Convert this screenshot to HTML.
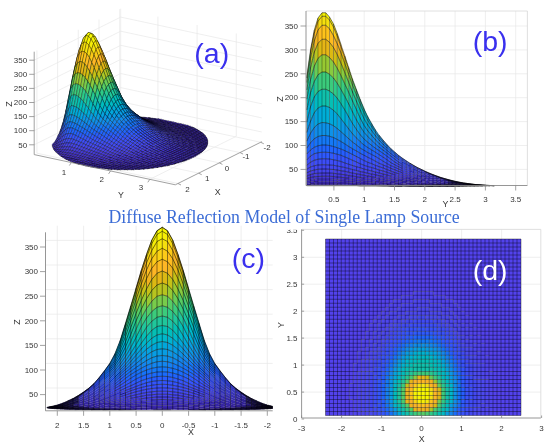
<!DOCTYPE html>
<html><head><meta charset="utf-8"><style>
html,body{margin:0;padding:0;background:#fff}
body{width:550px;height:444px;overflow:hidden}
svg{display:block}
.tk text{font-family:"Liberation Sans",Arial,sans-serif;font-size:8px;fill:#363636}
.lab{font-family:"Liberation Sans",Arial,sans-serif;font-size:28.5px;fill:#3a30ee}
.ttl{font-family:"Liberation Serif","Times New Roman",serif;font-size:17.8px;fill:#3b6cd6}
.p0{fill:#3e26ba}.p1{fill:#402ac2}.p2{fill:#422ec9}.p3{fill:#4332cf}.p4{fill:#4537d5}.p5{fill:#463cde}.p6{fill:#4741e5}.p7{fill:#4544eb}.p8{fill:#4348f0}.p9{fill:#404bf4}.p10{fill:#3d4ef8}.p11{fill:#3952fb}.p12{fill:#3455fd}.p13{fill:#2f5afe}.p14{fill:#275eff}.p15{fill:#2065fe}.p16{fill:#1a6cfc}.p17{fill:#1673fa}.p18{fill:#1579f7}.p19{fill:#1580f3}.p20{fill:#1486ef}.p21{fill:#108ceb}.p22{fill:#0e92e8}.p23{fill:#0c98e5}.p24{fill:#089de3}.p25{fill:#05a3df}.p26{fill:#01a8db}.p27{fill:#00aed6}.p28{fill:#00b4d0}.p29{fill:#00b8ca}.p30{fill:#00bac3}.p31{fill:#00bdbd}.p32{fill:#05bfb4}.p33{fill:#11c1ac}.p34{fill:#1ac4a4}.p35{fill:#20c69b}.p36{fill:#26c891}.p37{fill:#2eca87}.p38{fill:#3bcb7c}.p39{fill:#49cc70}.p40{fill:#57cd64}.p41{fill:#67cd57}.p42{fill:#78cc4b}.p43{fill:#88cb3f}.p44{fill:#98c932}.p45{fill:#a8c728}.p46{fill:#b7c41f}.p47{fill:#c5c117}.p48{fill:#d1bd13}.p49{fill:#dcb913}.p50{fill:#e6b617}.p51{fill:#f0b31f}.p52{fill:#f8b327}.p53{fill:#feb625}.p54{fill:#febc20}.p55{fill:#fec31b}.p56{fill:#fcca18}.p57{fill:#fad214}.p58{fill:#f7d911}.p59{fill:#f5e00e}.p60{fill:#f5e80b}.p61{fill:#f6ee07}.p62{fill:#f7f501}.p63{fill:#f9fb00}
</style></head><body>
<svg width="550" height="444" viewBox="0 0 550 444">
<defs><clipPath id="cd"><rect x="270" y="229.8" width="280" height="215"/></clipPath></defs>
<path d="M34.2 144.8L120.7 101.7M120.7 101.7L261.8 132M34.2 130.7L120.7 87.6M120.7 87.6L261.8 117.9M34.2 116.6L120.7 73.5M120.7 73.5L261.8 103.8M34.2 102.5L120.7 59.4M120.7 59.4L261.8 89.7M34.2 88.4L120.7 45.3M120.7 45.3L261.8 75.6M34.2 74.3L120.7 31.2M120.7 31.2L261.8 61.5M34.2 60.2L120.7 17.1M120.7 17.1L261.8 47.4M119.7 112L119.7 9.2M119.7 112L260.8 142.3M99 122.3L99 19.5M99 122.3L240.1 152.6M78.3 132.6L78.3 29.8M78.3 132.6L219.4 162.9M57.6 142.9L57.6 40.1M57.6 142.9L198.7 173.2M36.9 153.2L36.9 50.4M36.9 153.2L178 183.5M157.9 119.5L157.9 16.6M71.4 162.5L157.9 119.5M197.1 127.9L197.1 25M110.6 170.9L197.1 127.9M236.3 136.3L236.3 33.4M149.8 179.3L236.3 136.3M120.7 111.5L120.7 8.7" stroke="#e8e8e8" stroke-width="0.7" fill="none"/>
<g transform="scale(.25)" stroke="#000" stroke-width="1.6" stroke-opacity="0.8"  stroke-linejoin="round">
<path class="p0" d="M428 473l8 0-5-1-7 2z"/><path class="p1" d="M417 474l1 0 6 0 7-2-9-3-10 5z"/><path class="p2" d="M412 474l10-5-8-8-10 10z"/><path class="p3" d="M404 471l10-10-8-12-10 15z"/><path class="p6" d="M396 464l10-15-9-16-9 21z"/><path class="p8" d="M388 454l9-21-8-22-10 29z"/><path class="p12" d="M379 440l10-29-8-29-10 39z"/><path class="p16" d="M371 421l10-39-8-36-10 52z"/><path class="p20" d="M363 398l10-52-9-35-10 59z"/><path class="p25" d="M354 370l10-59-8-33-10 66z"/><path class="p30" d="M346 344l10-66-8-28-10 72z"/><path class="p34" d="M338 322l10-72-8-22-10 78z"/><path class="p37" d="M330 306l10-78-9-12-10 81z"/><path class="p39" d="M321 297l10-81-8-1-10 81zM313 296l10-81-8 10-10 80zM305 305l10-80-9 20-10 77z"/><path class="p37" d="M296 322l10-77-8 30-10 72z"/><path class="p34" d="M288 347l10-72-8 36-10 66z"/><path class="p30" d="M280 377l10-66-8 41-10 60z"/><path class="p25" d="M272 412l10-60-9 44-10 51z"/><path class="p20" d="M263 447l10-51-8 44-10 39z"/><path class="p16" d="M255 479l10-39-8 37-10 29z"/><path class="p12" d="M247 506l10-29-9 31-9 20z"/><path class="p8" d="M239 528l9-20-8 24-10 14z"/><path class="p6" d="M230 546l10-14-8 20-10 10z"/><path class="p3" d="M222 562l10-10-8 16-10 5z"/><path class="p2" d="M209 578l0 0 5-5 10-5-9 12-6 1z"/><path class="p1" d="M209 582l0-1 6-1-5 5z"/><path class="p0" d="M449 472l5-1-5 0-7 1z"/><path class="p1" d="M436 473l3-1 3 0 7-1-9-2-9 3z"/><path class="p2" d="M431 472l9-3-8-7-10 7z"/><path class="p3" d="M422 469l10-7-8-12-10 11z"/><path class="p6" d="M414 461l10-11-8-16-10 15z"/><path class="p9" d="M406 449l10-15-9-21-10 20z"/><path class="p12" d="M397 433l10-20-8-29-10 27z"/><path class="p17" d="M389 411l10-27-8-37-10 35z"/><path class="p22" d="M381 382l10-35-8-40-10 39z"/><path class="p29" d="M373 346l10-39-9-37-10 41z"/><path class="p34" d="M364 311l10-41-8-34-10 42z"/><path class="p40" d="M356 278l10-42-8-29-10 43z"/><path class="p44" d="M348 250l10-43-9-23-9 44z"/><path class="p48" d="M340 228l9-44-8-14-10 46z"/><path class="p50" d="M331 216l10-46-8-3-10 48z"/><path class="p51" d="M323 215l10-48-8 11-10 47z"/><path class="p50" d="M315 225l10-47-9 23-10 44z"/><path class="p48" d="M306 245l10-44-8 30-10 44z"/><path class="p44" d="M298 275l10-44-8 38-10 42z"/><path class="p40" d="M290 311l10-42-9 42-9 41z"/><path class="p34" d="M282 352l9-41-8 45-10 40z"/><path class="p29" d="M273 396l10-40-8 48-10 36z"/><path class="p22" d="M265 440l10-36-8 46-10 27z"/><path class="p17" d="M257 477l10-27-9 37-10 21z"/><path class="p12" d="M248 508l10-21-8 29-10 16z"/><path class="p9" d="M240 532l10-16-8 24-10 12z"/><path class="p6" d="M232 552l10-12-9 21-9 7z"/><path class="p3" d="M224 568l9-7-8 15-10 4z"/><path class="p2" d="M210 586l0-1 5-5 10-4-8 11-7 0z"/><path class="p1" d="M211 590l-1-3 7 0-5 5z"/><path class="p0" d="M471 470l0 0-4 0-6 1zM454 471l6 0 1 0 6-1-8-2-10 3z"/><path class="p1" d="M449 471l10-3-9-5-10 6z"/><path class="p3" d="M440 469l10-6-8-11-10 10z"/><path class="p5" d="M432 462l10-10-8-15-10 13z"/><path class="p8" d="M424 450l10-13-8-18-10 15z"/><path class="p12" d="M416 434l10-15-9-24-10 18z"/><path class="p16" d="M407 413l10-18-8-31-10 20z"/><path class="p22" d="M399 384l10-20-8-39-10 22z"/><path class="p28" d="M391 347l10-22-9-36-9 18z"/><path class="p35" d="M383 307l9-18-8-35-10 16z"/><path class="p41" d="M374 270l10-16-8-35-10 17z"/><path class="p46" d="M366 236l10-17-8-32-10 20z"/><path class="p51" d="M358 207l10-20-9-26-10 23z"/><path class="p54" d="M349 184l10-23-8-17-10 26z"/><path class="p57" d="M341 170l10-26-8-3-10 26z"/><path class="p58" d="M333 167l10-26-9 11-9 26z"/><path class="p57" d="M325 178l9-26-8 25-10 24z"/><path class="p54" d="M316 201l10-24-8 35-10 19z"/><path class="p51" d="M308 231l10-19-8 40-10 17z"/><path class="p46" d="M300 269l10-17-9 43-10 16z"/><path class="p41" d="M291 311l10-16-8 44-10 17z"/><path class="p35" d="M283 356l10-17-8 44-10 21z"/><path class="p28" d="M275 404l10-21-8 47-10 20z"/><path class="p22" d="M267 450l10-20-9 39-10 18z"/><path class="p16" d="M258 487l10-18-8 33-10 14z"/><path class="p12" d="M250 516l10-14-8 26-10 12z"/><path class="p8" d="M242 540l10-12-9 23-10 10z"/><path class="p5" d="M233 561l10-10-8 19-10 6z"/><path class="p3" d="M225 576l10-6-8 14-10 3z"/><path class="p1" d="M213 594l-1-2 5-5 10-3-8 10-6 1z"/><path class="p0" d="M214 597l-1-2 6-1-4 3zM487 468l-2 0-3 0zM471 470l10-1 1-1 3 0-8 0-10 2z"/><path class="p1" d="M467 470l10-2-8-4-10 4z"/><path class="p3" d="M459 468l10-4-9-7-10 6z"/><path class="p5" d="M450 463l10-6-8-13-10 8z"/><path class="p7" d="M442 452l10-8-8-16-10 9z"/><path class="p11" d="M434 437l10-9-9-19-9 10z"/><path class="p15" d="M426 419l9-10-8-23-10 9z"/><path class="p20" d="M417 395l10-9-8-29-10 7z"/><path class="p25" d="M409 364l10-7-8-36-10 4z"/><path class="p32" d="M401 325l10-4-9-35-10 3z"/><path class="p38" d="M392 289l10-3-8-36-10 4z"/><path class="p43" d="M384 254l10-4-8-37-10 6z"/><path class="p49" d="M376 219l10-6-9-33-9 7z"/><path class="p54" d="M368 187l9-7-8-29-10 10z"/><path class="p58" d="M359 161l10-10-8-17-10 10z"/><path class="p61" d="M351 144l10-10-8-4-10 11z"/><path class="p62" d="M343 141l10-11-9 12-10 10z"/><path class="p61" d="M334 152l10-10-8 26-10 9z"/><path class="p58" d="M326 177l10-9-8 37-10 7z"/><path class="p54" d="M318 212l10-7-8 41-10 6z"/><path class="p49" d="M310 252l10-6-9 45-10 4z"/><path class="p43" d="M301 295l10-4-8 44-10 4z"/><path class="p38" d="M293 339l10-4-8 44-10 4z"/><path class="p32" d="M285 383l10-4-9 43-9 8z"/><path class="p25" d="M277 430l9-8-8 38-10 9z"/><path class="p20" d="M268 469l10-9-8 31-10 11z"/><path class="p15" d="M260 502l10-11-8 27-10 10z"/><path class="p11" d="M252 528l10-10-9 25-10 8z"/><path class="p7" d="M243 551l10-8-8 21-10 6z"/><path class="p5" d="M235 570l10-6-8 15-10 5z"/><path class="p3" d="M227 584l10-5-9 12-9 3z"/><path class="p1" d="M217 600l-2-3 4-3 9-3-8 9-3 0z"/><path class="p0" d="M217 600l3 0-2 2zM487 468l5 0 11-1-8 1-10 0z"/><path class="p1" d="M485 468l10 0-8-2-10 2z"/><path class="p2" d="M477 468l10-2-9-6-9 4z"/><path class="p4" d="M469 464l9-4-8-8-10 5z"/><path class="p6" d="M460 457l10-5-8-14-10 6z"/><path class="p9" d="M452 444l10-6-8-16-10 6z"/><path class="p13" d="M444 428l10-6-9-17-10 4z"/><path class="p17" d="M435 409l10-4-8-20-10 1z"/><path class="p21" d="M427 386l10-1-8-26-10-2z"/><path class="p27" d="M419 357l10 2-8-36-10-2z"/><path class="p33" d="M411 321l10 2-9-35-10-2z"/><path class="p38" d="M402 286l10 2-8-36-10-2z"/><path class="p44" d="M394 250l10 2-8-37-10-2z"/><path class="p50" d="M386 213l10 2-9-32-10-3z"/><path class="p55" d="M377 180l10 3-8-29-10-3z"/><path class="p59" d="M369 151l10 3-8-18-10-2z"/><path class="p62" d="M361 134l10 2-8-4-10-2z"/><path class="p63" d="M353 130l10 2-9 13-10-3z"/><path class="p62" d="M344 142l10 3-8 25-10-2z"/><path class="p59" d="M336 168l10 2-8 37-10-2z"/><path class="p55" d="M328 205l10 2-9 41-9-2z"/><path class="p50" d="M320 246l9 2-8 45-10-2z"/><path class="p44" d="M311 291l10 2-8 44-10-2z"/><path class="p38" d="M303 335l10 2-8 44-10-2z"/><path class="p33" d="M295 379l10 2-9 44-10-3z"/><path class="p27" d="M286 422l10 3-8 34-10 1z"/><path class="p21" d="M278 460l10-1-8 28-10 4z"/><path class="p17" d="M270 491l10-4-9 25-9 6z"/><path class="p13" d="M262 518l9-6-8 25-10 6z"/><path class="p9" d="M253 543l10-6-8 22-10 5z"/><path class="p6" d="M245 564l10-5-8 17-10 3z"/><path class="p4" d="M237 579l10-3-9 13-10 2z"/><path class="p2" d="M228 591l10-2-8 11-10 0z"/><path class="p1" d="M219 603l-1-1 2-2 10 0-8 7z"/><path class="p0" d="M514 467l4 0-5 1-9-1z"/><path class="p1" d="M503 467l0 0 1 0 9 1-8-1-10 1z"/><path class="p2" d="M495 468l10-1-8-3-10 2z"/><path class="p3" d="M487 466l10-2-9-6-10 2z"/><path class="p5" d="M478 460l10-2-8-10-10 4z"/><path class="p8" d="M470 452l10-4-8-13-10 3z"/><path class="p11" d="M462 438l10-3-8-15-10 2z"/><path class="p14" d="M454 422l10-2-9-13-10-2z"/><path class="p18" d="M445 405l10 2-8-18-10-4z"/><path class="p22" d="M437 385l10 4-8-26-10-4z"/><path class="p27" d="M429 359l10 4-9-34-9-6z"/><path class="p33" d="M421 323l9 6-8-35-10-6z"/><path class="p38" d="M412 288l10 6-8-35-10-7z"/><path class="p44" d="M404 252l10 7-8-36-10-8z"/><path class="p50" d="M396 215l10 8-9-31-10-9z"/><path class="p55" d="M387 183l10 9-8-28-10-10z"/><path class="p59" d="M379 154l10 10-8-17-10-11z"/><path class="p62" d="M371 136l10 11-9-3-9-12z"/><path class="p63" d="M363 132l9 12-8 12-10-11z"/><path class="p62" d="M354 145l10 11-8 25-10-11z"/><path class="p59" d="M346 170l10 11-8 35-10-9z"/><path class="p55" d="M338 207l10 9-9 40-10-8z"/><path class="p50" d="M329 248l10 8-8 44-10-7z"/><path class="p44" d="M321 293l10 7-8 44-10-7z"/><path class="p38" d="M313 337l10 7-9 43-9-6z"/><path class="p33" d="M305 381l9 6-8 42-10-4z"/><path class="p27" d="M296 425l10 4-8 34-10-4z"/><path class="p22" d="M288 459l10 4-8 26-10-2z"/><path class="p18" d="M280 487l10 2-9 22-10 1z"/><path class="p14" d="M271 512l10-1-8 23-10 3z"/><path class="p11" d="M263 537l10-3-8 21-10 4z"/><path class="p8" d="M255 559l10-4-8 18-10 3z"/><path class="p5" d="M247 576l10-3-9 15-10 1z"/><path class="p3" d="M238 589l10-1-8 11-10 1z"/><path class="p2" d="M222 607l0 0 8-7 10-1-8 9-9-1z"/><path class="p1" d="M226 610l-3-3 9 1-5 3z"/><path class="p0" d="M532 467l-1 0-2 0z"/><path class="p1" d="M518 467l7 0 4 0 2 0-8 1-10 0zM513 468l10 0-8-1-10 0z"/><path class="p2" d="M505 467l10 0-8-4-10 1z"/><path class="p4" d="M497 464l10-1-9-7-10 2z"/><path class="p6" d="M488 458l10-2-8-9-10 1z"/><path class="p9" d="M480 448l10-1-8-12-10 0z"/><path class="p12" d="M472 435l10 0-9-12-9-3z"/><path class="p15" d="M464 420l9 3-8-12-10-4z"/><path class="p18" d="M455 407l10 4-8-17-10-5z"/><path class="p22" d="M447 389l10 5-8-24-10-7z"/><path class="p26" d="M439 363l10 7-9-32-10-9z"/><path class="p32" d="M430 329l10 9-8-34-10-10z"/><path class="p38" d="M422 294l10 10-8-34-10-11z"/><path class="p43" d="M414 259l10 11-9-34-9-13z"/><path class="p49" d="M406 223l9 13-8-30-10-14z"/><path class="p54" d="M397 192l10 14-8-24-10-18z"/><path class="p58" d="M389 164l10 18-8-16-10-19z"/><path class="p61" d="M381 147l10 19-9-3-10-19z"/><path class="p62" d="M372 144l10 19-8 11-10-18z"/><path class="p61" d="M364 156l10 18-8 25-10-18z"/><path class="p58" d="M356 181l10 18-8 32-10-15z"/><path class="p54" d="M348 216l10 15-9 38-10-13z"/><path class="p49" d="M339 256l10 13-8 42-10-11z"/><path class="p43" d="M331 300l10 11-8 42-10-9z"/><path class="p38" d="M323 344l10 9-9 42-10-8z"/><path class="p32" d="M314 387l10 8-8 41-10-7z"/><path class="p26" d="M306 429l10 7-8 32-10-5z"/><path class="p22" d="M298 463l10 5-8 25-10-4z"/><path class="p18" d="M290 489l10 4-9 20-10-2z"/><path class="p15" d="M281 511l10 2-8 21-10 0z"/><path class="p12" d="M273 534l10 0-8 20-10 1z"/><path class="p9" d="M265 555l10-1-9 18-9 1z"/><path class="p6" d="M257 573l9-1-8 15-10 1z"/><path class="p4" d="M248 588l10-1-8 12-10 0z"/><path class="p2" d="M240 599l10 0-8 9-10 0z"/><path class="p1" d="M230 614l-3-3 5-3 10 0-9 7-2 0zM231 615l2 0-1 1z"/><path class="p0" d="M532 467l4 0 10 0 0 0-5 1-10-1z"/><path class="p1" d="M531 467l10 1-8 1-10-1z"/><path class="p2" d="M523 468l10 1-8-2-10 0z"/><path class="p3" d="M515 467l10 0-9-4-9 0z"/><path class="p5" d="M507 463l9 0-8-7-10 0z"/><path class="p7" d="M498 456l10 0-8-8-10-1z"/><path class="p9" d="M490 447l10 1-8-10-10-3z"/><path class="p12" d="M482 435l10 3-9-11-10-4z"/><path class="p15" d="M473 423l10 4-8-11-10-5z"/><path class="p18" d="M465 411l10 5-8-16-10-6z"/><path class="p21" d="M457 394l10 6-8-21-10-9z"/><path class="p26" d="M449 370l10 9-9-30-10-11z"/><path class="p31" d="M440 338l10 11-8-33-10-12z"/><path class="p37" d="M432 304l10 12-8-32-10-14z"/><path class="p42" d="M424 270l10 14-9-31-10-17z"/><path class="p48" d="M415 236l10 17-8-28-10-19z"/><path class="p52" d="M407 206l10 19-8-22-10-21z"/><path class="p56" d="M399 182l10 21-8-13-10-24z"/><path class="p59" d="M391 166l10 24-9-2-10-25z"/><path class="p60" d="M382 163l10 25-8 10-10-24z"/><path class="p59" d="M374 174l10 24-8 22-10-21z"/><path class="p56" d="M366 199l10 21-9 30-9-19z"/><path class="p52" d="M358 231l9 19-8 36-10-17z"/><path class="p48" d="M349 269l10 17-8 39-10-14z"/><path class="p42" d="M341 311l10 14-8 40-10-12z"/><path class="p37" d="M333 353l10 12-9 42-10-12z"/><path class="p31" d="M324 395l10 12-8 38-10-9z"/><path class="p26" d="M316 436l10 9-8 30-10-7z"/><path class="p21" d="M308 468l10 7-9 23-9-5z"/><path class="p18" d="M300 493l9 5-8 20-10-5z"/><path class="p15" d="M291 513l10 5-8 19-10-3z"/><path class="p12" d="M283 534l10 3-8 18-10-1z"/><path class="p9" d="M275 554l10 1-9 17-10 0z"/><path class="p7" d="M266 572l10 0-8 15-10 0z"/><path class="p5" d="M258 587l10 0-8 12-10 0z"/><path class="p3" d="M250 599l10 0-8 10-10-1z"/><path class="p2" d="M242 608l10 1-9 8-10-2z"/><path class="p1" d="M238 621l-4-4-2-1 1-1 10 2-5 4z"/><path class="p0" d="M560 468l-1 0-1 0zM546 467l11 1 1 0 1 0-8 2-10-2z"/><path class="p1" d="M541 468l10 2-8 0-10-1z"/><path class="p2" d="M533 469l10 1-8-2-10-1z"/><path class="p3" d="M525 467l10 1-9-4-10-1z"/><path class="p5" d="M516 463l10 1-8-6-10-2z"/><path class="p7" d="M508 456l10 2-8-7-10-3z"/><path class="p9" d="M500 448l10 3-8-8-10-5z"/><path class="p12" d="M492 438l10 5-9-11-10-5z"/><path class="p15" d="M483 427l10 5-8-11-10-5z"/><path class="p17" d="M475 416l10 5-8-13-10-8z"/><path class="p20" d="M467 400l10 8-9-20-9-9z"/><path class="p25" d="M459 379l9 9-8-26-10-13z"/><path class="p30" d="M450 349l10 13-8-31-10-15z"/><path class="p35" d="M442 316l10 15-8-30-10-17z"/><path class="p40" d="M434 284l10 17-9-28-10-20z"/><path class="p45" d="M425 253l10 20-8-26-10-22z"/><path class="p50" d="M417 225l10 22-8-19-10-25z"/><path class="p53" d="M409 203l10 25-9-11-9-27z"/><path class="p56" d="M401 190l9 27-8-2-10-27z"/><path class="p57" d="M392 188l10 27-8 10-10-27z"/><path class="p56" d="M384 198l10 27-8 19-10-24z"/><path class="p53" d="M376 220l10 24-9 28-10-22z"/><path class="p50" d="M367 250l10 22-8 34-10-20z"/><path class="p45" d="M359 286l10 20-8 36-10-17z"/><path class="p40" d="M351 325l10 17-9 38-9-15z"/><path class="p35" d="M343 365l9 15-8 40-10-13z"/><path class="p30" d="M334 407l10 13-8 34-10-9z"/><path class="p25" d="M326 445l10 9-8 28-10-7z"/><path class="p20" d="M318 475l10 7-9 22-10-6z"/><path class="p17" d="M309 498l10 6-8 19-10-5z"/><path class="p15" d="M301 518l10 5-8 19-10-5z"/><path class="p12" d="M293 537l10 5-8 16-10-3z"/><path class="p9" d="M285 555l10 3-9 15-10-1z"/><path class="p7" d="M276 572l10 1-8 14-10 0z"/><path class="p5" d="M268 587l10 0-8 13-10-1z"/><path class="p3" d="M260 599l10 1-9 10-9-1z"/><path class="p2" d="M252 609l9 1-8 8-10-1z"/><path class="p1" d="M243 624l-5-3 5-4 10 1-8 7-2 0z"/><path class="p0" d="M243 625l2 0-1 0zM560 468l8 1 5 0-4 1-10-2z"/><path class="p1" d="M559 468l10 2-8 2-10-2zM551 470l10 2-8 0-10-2z"/><path class="p2" d="M543 470l10 2-8-2-10-2z"/><path class="p4" d="M535 468l10 2-9-4-10-2z"/><path class="p5" d="M526 464l10 2-8-6-10-2z"/><path class="p7" d="M518 458l10 2-8-5-10-4z"/><path class="p9" d="M510 451l10 4-9-7-9-5z"/><path class="p12" d="M502 443l9 5-8-10-10-6z"/><path class="p14" d="M493 432l10 6-8-10-10-7z"/><path class="p17" d="M485 421l10 7-8-12-10-8z"/><path class="p20" d="M477 408l10 8-9-17-10-11z"/><path class="p23" d="M468 388l10 11-8-22-10-15z"/><path class="p28" d="M460 362l10 15-8-29-10-17z"/><path class="p33" d="M452 331l10 17-9-28-9-19z"/><path class="p38" d="M444 301l9 19-8-25-10-22z"/><path class="p43" d="M435 273l10 22-8-22-10-26z"/><path class="p47" d="M427 247l10 26-8-18-10-27z"/><path class="p50" d="M419 228l10 27-9-10-10-28z"/><path class="p53" d="M410 217l10 28-8 0-10-30zM402 215l10 30-8 9-10-29zM394 225l10 29-8 18-10-28z"/><path class="p50" d="M386 244l10 28-9 25-10-25z"/><path class="p47" d="M377 272l10 25-8 31-10-22z"/><path class="p43" d="M369 306l10 22-8 33-10-19z"/><path class="p38" d="M361 342l10 19-9 36-10-17z"/><path class="p33" d="M352 380l10 17-8 37-10-14z"/><path class="p28" d="M344 420l10 14-8 31-10-11z"/><path class="p23" d="M336 454l10 11-8 25-10-8z"/><path class="p20" d="M328 482l10 8-9 20-10-6z"/><path class="p17" d="M319 504l10 6-8 18-10-5z"/><path class="p14" d="M311 523l10 5-8 19-10-5z"/><path class="p12" d="M303 542l10 5-9 15-9-4z"/><path class="p9" d="M295 558l9 4-8 14-10-3z"/><path class="p7" d="M286 573l10 3-8 13-10-2z"/><path class="p5" d="M278 587l10 2-8 12-10-1z"/><path class="p4" d="M270 600l10 1-9 11-10-2z"/><path class="p2" d="M261 610l10 2-8 8-10-2z"/><path class="p1" d="M253 618l10 2-8 7-10-2zM248 628l-4-3 1 0 10 2-4 3z"/><path class="p0" d="M573 469l6 0 7 1-7 2-10-2z"/><path class="p1" d="M569 470l10 2-8 1-10-1zM561 472l10 1-8 0-10-1z"/><path class="p2" d="M553 472l10 1-9-1-9-2z"/><path class="p4" d="M545 470l9 2-8-4-10-2z"/><path class="p5" d="M536 466l10 2-8-4-10-4z"/><path class="p7" d="M528 460l10 4-8-5-10-4z"/><path class="p9" d="M520 455l10 4-9-6-10-5z"/><path class="p11" d="M511 448l10 5-8-9-10-6z"/><path class="p14" d="M503 438l10 6-8-10-10-6z"/><path class="p16" d="M495 428l10 6-9-11-9-7z"/><path class="p19" d="M487 416l9 7-8-14-10-10z"/><path class="p22" d="M478 399l10 10-8-19-10-13z"/><path class="p26" d="M470 377l10 13-8-24-10-18z"/><path class="p31" d="M462 348l10 18-9-26-10-20z"/><path class="p36" d="M453 320l10 20-8-23-10-22z"/><path class="p40" d="M445 295l10 22-8-20-10-24z"/><path class="p44" d="M437 273l10 24-8-14-10-28z"/><path class="p47" d="M429 255l10 28-9-9-10-29z"/><path class="p49" d="M420 245l10 29-8 0-10-29z"/><path class="p50" d="M412 245l10 29-8 9-10-29z"/><path class="p49" d="M404 254l10 29-9 16-9-27z"/><path class="p47" d="M396 272l9 27-8 23-10-25z"/><path class="p44" d="M387 297l10 25-8 28-10-22z"/><path class="p40" d="M379 328l10 22-8 31-10-20z"/><path class="p36" d="M371 361l10 20-9 35-10-19z"/><path class="p31" d="M362 397l10 19-8 32-10-14z"/><path class="p26" d="M354 434l10 14-8 27-10-10z"/><path class="p22" d="M346 465l10 10-9 22-9-7z"/><path class="p19" d="M338 490l9 7-8 19-10-6z"/><path class="p16" d="M329 510l10 6-8 18-10-6z"/><path class="p14" d="M321 528l10 6-8 18-10-5z"/><path class="p11" d="M313 547l10 5-9 14-10-4z"/><path class="p9" d="M304 562l10 4-8 13-10-3z"/><path class="p7" d="M296 576l10 3-8 13-10-3z"/><path class="p5" d="M288 589l10 3-9 11-9-2z"/><path class="p4" d="M280 601l9 2-8 10-10-1z"/><path class="p2" d="M271 612l10 1-8 9-10-2z"/><path class="p1" d="M263 620l10 2-8 7-10-2zM253 631l-2-1 4-3 10 2-7 5z"/><path class="p0" d="M599 471l-2 1-5-1zM586 470l3 0 3 1 5 1-8 2-10-2z"/><path class="p1" d="M579 472l10 2-8 2-10-3zM571 473l10 3-8-1-10-2z"/><path class="p2" d="M563 473l10 2-9-1-10-2z"/><path class="p4" d="M554 472l10 2-8-3-10-3z"/><path class="p5" d="M546 468l10 3-8-3-10-4z"/><path class="p7" d="M538 464l10 4-8-5-10-4z"/><path class="p9" d="M530 459l10 4-9-5-10-5z"/><path class="p11" d="M521 453l10 5-8-8-10-6z"/><path class="p13" d="M513 444l10 6-8-10-10-6z"/><path class="p15" d="M505 434l10 6-9-9-10-8z"/><path class="p18" d="M496 423l10 8-8-12-10-10z"/><path class="p21" d="M488 409l10 10-8-15-10-14z"/><path class="p24" d="M480 390l10 14-8-20-10-18z"/><path class="p29" d="M472 366l10 18-9-23-10-21z"/><path class="p33" d="M463 340l10 21-8-22-10-22z"/><path class="p37" d="M455 317l10 22-8-17-10-25z"/><path class="p41" d="M447 297l10 25-9-13-9-26z"/><path class="p43" d="M439 283l9 26-8-6-10-29z"/><path class="p45" d="M430 274l10 29-8 0-10-29z"/><path class="p46" d="M422 274l10 29-8 8-10-28z"/><path class="p45" d="M414 283l10 28-9 15-10-27z"/><path class="p43" d="M405 299l10 27-8 21-10-25z"/><path class="p41" d="M397 322l10 25-8 25-10-22z"/><path class="p37" d="M389 350l10 22-9 30-9-21z"/><path class="p33" d="M381 381l9 21-8 31-10-17z"/><path class="p29" d="M372 416l10 17-8 28-10-13z"/><path class="p24" d="M364 448l10 13-8 24-10-10z"/><path class="p21" d="M356 475l10 10-9 20-10-8z"/><path class="p18" d="M347 497l10 8-8 18-10-7z"/><path class="p15" d="M339 516l10 7-8 18-10-7z"/><path class="p13" d="M331 534l10 7-8 16-10-5z"/><path class="p11" d="M323 552l10 5-9 13-10-4z"/><path class="p9" d="M314 566l10 4-8 13-10-4z"/><path class="p7" d="M306 579l10 4-8 12-10-3z"/><path class="p5" d="M298 592l10 3-9 11-10-3z"/><path class="p4" d="M289 603l10 3-8 10-10-3z"/><path class="p2" d="M281 613l10 3-8 8-10-2z"/><path class="p1" d="M273 622l10 2-8 7-10-2zM259 635l-1-1 7-5 10 2-9 6-5-2z"/><path class="p0" d="M261 635l5 2-1 1zM599 471l1 0 10 2 1 0-4 1-10-2zM597 472l10 2-8 2-10-2z"/><path class="p1" d="M589 474l10 2-8 2-10-2zM581 476l10 2-8 0-10-3z"/><path class="p2" d="M573 475l10 3-9-1-10-3z"/><path class="p4" d="M564 474l10 3-8-2-10-4z"/><path class="p5" d="M556 471l10 4-8-3-10-4z"/><path class="p7" d="M548 468l10 4-9-4-9-5z"/><path class="p8" d="M540 463l9 5-8-5-10-5z"/><path class="p10" d="M531 458l10 5-8-7-10-6z"/><path class="p12" d="M523 450l10 6-8-9-10-7z"/><path class="p15" d="M515 440l10 7-9-9-10-7z"/><path class="p17" d="M506 431l10 7-8-9-10-10z"/><path class="p19" d="M498 419l10 10-8-13-10-12z"/><path class="p23" d="M490 404l10 12-9-16-9-16z"/><path class="p26" d="M482 384l9 16-8-18-10-21z"/><path class="p30" d="M473 361l10 21-8-20-10-23z"/><path class="p34" d="M465 339l10 23-8-16-10-24z"/><path class="p37" d="M457 322l10 24-9-11-10-26z"/><path class="p40" d="M448 309l10 26-8-6-10-26z"/><path class="p41" d="M440 303l10 26-8 1-10-27z"/><path class="p42" d="M432 303l10 27-8 8-10-27z"/><path class="p41" d="M424 311l10 27-9 13-10-25z"/><path class="p40" d="M415 326l10 25-8 20-10-24z"/><path class="p37" d="M407 347l10 24-8 24-10-23z"/><path class="p34" d="M399 372l10 23-9 28-10-21z"/><path class="p30" d="M390 402l10 21-8 26-10-16z"/><path class="p26" d="M382 433l10 16-8 25-10-13z"/><path class="p23" d="M374 461l10 13-8 21-10-10z"/><path class="p19" d="M366 485l10 10-9 18-10-8z"/><path class="p17" d="M357 505l10 8-8 17-10-7z"/><path class="p15" d="M349 523l10 7-8 17-10-6z"/><path class="p12" d="M341 541l10 6-9 15-9-5z"/><path class="p10" d="M333 557l9 5-8 13-10-5z"/><path class="p8" d="M324 570l10 5-8 12-10-4z"/><path class="p7" d="M316 583l10 4-8 11-10-3z"/><path class="p5" d="M308 595l10 3-9 11-10-3z"/><path class="p4" d="M299 606l10 3-8 9-10-2z"/><path class="p2" d="M291 616l10 2-8 8-10-2z"/><path class="p1" d="M283 624l10 2-9 7-9-2zM275 631l9 2-8 6-10-2z"/><path class="p0" d="M272 641l-7-3 0 0 1-1 10 2-4 2zM611 473l10 1 2 0-6 2-10-2zM607 474l10 2-8 3-10-3z"/><path class="p1" d="M599 476l10 3-8 1-10-2zM591 478l10 2-9 0-9-2z"/><path class="p2" d="M583 478l9 2-8 0-10-3z"/><path class="p3" d="M574 477l10 3-8-2-10-3z"/><path class="p5" d="M566 475l10 3-8-2-10-4z"/><path class="p6" d="M558 472l10 4-9-4-10-4z"/><path class="p8" d="M549 468l10 4-8-4-10-5z"/><path class="p9" d="M541 463l10 5-8-6-10-6z"/><path class="p11" d="M533 456l10 6-9-8-9-7z"/><path class="p14" d="M525 447l9 7-8-8-10-8z"/><path class="p16" d="M516 438l10 8-8-9-10-8z"/><path class="p18" d="M508 429l10 8-8-10-10-11z"/><path class="p21" d="M500 416l10 11-9-13-10-14z"/><path class="p24" d="M491 400l10 14-8-15-10-17z"/><path class="p28" d="M483 382l10 17-8-15-10-22z"/><path class="p31" d="M475 362l10 22-8-15-10-23z"/><path class="p34" d="M467 346l10 23-9-10-10-24z"/><path class="p36" d="M458 335l10 24-8-5-10-25z"/><path class="p38" d="M450 329l10 25-8 2-10-26zM442 330l10 26-9 7-9-25zM434 338l9 25-8 12-10-24z"/><path class="p36" d="M425 351l10 24-8 19-10-23z"/><path class="p34" d="M417 371l10 23-8 23-10-22z"/><path class="p31" d="M409 395l10 22-9 24-10-18z"/><path class="p28" d="M400 423l10 18-8 23-10-15z"/><path class="p24" d="M392 449l10 15-8 21-10-11z"/><path class="p21" d="M384 474l10 11-9 18-9-8z"/><path class="p18" d="M376 495l9 8-8 17-10-7z"/><path class="p16" d="M367 513l10 7-8 17-10-7z"/><path class="p14" d="M359 530l10 7-8 16-10-6z"/><path class="p11" d="M351 547l10 6-9 14-10-5z"/><path class="p9" d="M342 562l10 5-8 12-10-4z"/><path class="p8" d="M334 575l10 4-8 12-10-4z"/><path class="p6" d="M326 587l10 4-9 11-9-4z"/><path class="p5" d="M318 598l9 4-8 10-10-3z"/><path class="p3" d="M309 609l10 3-8 9-10-3z"/><path class="p2" d="M301 618l10 3-8 8-10-3z"/><path class="p1" d="M293 626l10 3-9 6-10-2zM284 633l10 2-8 6-10-2z"/><path class="p0" d="M278 644l-6-3 4-2 10 2-6 4zM623 474l8 1 4 0-8 4-10-3zM617 476l10 3-8 2-10-2z"/><path class="p1" d="M609 479l10 2-8 2-10-3zM601 480l10 3-9 0-10-3z"/><path class="p2" d="M592 480l10 3-8 0-10-3z"/><path class="p3" d="M584 480l10 3-8-1-10-4z"/><path class="p5" d="M576 478l10 4-8-2-10-4z"/><path class="p6" d="M568 476l10 4-9-3-10-5z"/><path class="p7" d="M559 472l10 5-8-4-10-5z"/><path class="p9" d="M551 468l10 5-8-5-10-6z"/><path class="p11" d="M543 462l10 6-9-7-10-7z"/><path class="p13" d="M534 454l10 7-8-8-10-7z"/><path class="p15" d="M526 446l10 7-8-8-10-8z"/><path class="p17" d="M518 437l10 8-8-8-10-10z"/><path class="p20" d="M510 427l10 10-9-11-10-12z"/><path class="p22" d="M501 414l10 12-8-11-10-16z"/><path class="p25" d="M493 399l10 16-8-13-10-18z"/><path class="p28" d="M485 384l10 18-9-11-9-22z"/><path class="p31" d="M477 369l9 22-8-9-10-23z"/><path class="p33" d="M468 359l10 23-8-4-10-24z"/><path class="p35" d="M460 354l10 24-8 1-10-23zM452 356l10 23-9 7-10-23zM443 363l10 23-8 12-10-23z"/><path class="p33" d="M435 375l10 23-8 18-10-22z"/><path class="p31" d="M427 394l10 22-9 19-9-18z"/><path class="p28" d="M419 417l9 18-8 21-10-15z"/><path class="p25" d="M410 441l10 15-8 20-10-12z"/><path class="p22" d="M402 464l10 12-8 18-10-9z"/><path class="p20" d="M394 485l10 9-9 17-10-8z"/><path class="p17" d="M385 503l10 8-8 16-10-7z"/><path class="p15" d="M377 520l10 7-8 16-10-6z"/><path class="p13" d="M369 537l10 6-8 16-10-6z"/><path class="p11" d="M361 553l10 6-9 12-10-4z"/><path class="p9" d="M352 567l10 4-8 13-10-5z"/><path class="p7" d="M344 579l10 5-8 11-10-4z"/><path class="p6" d="M336 591l10 4-9 10-10-3z"/><path class="p5" d="M327 602l10 3-8 10-10-3z"/><path class="p3" d="M319 612l10 3-8 8-10-2z"/><path class="p2" d="M311 621l10 2-8 8-10-2z"/><path class="p1" d="M303 629l10 2-9 7-10-3zM294 635l10 3-8 5-10-2z"/><path class="p0" d="M285 647l-5-2 6-4 10 2-8 5zM635 475l4 1 6 1-8 4-10-2zM627 479l10 2-8 2-10-2z"/><path class="p1" d="M619 481l10 2-8 2-10-2zM611 483l10 2-9 1-10-3z"/><path class="p2" d="M602 483l10 3-8 0-10-3z"/><path class="p3" d="M594 483l10 3-8-1-10-3z"/><path class="p4" d="M586 482l10 3-9-2-9-3z"/><path class="p6" d="M578 480l9 3-8-2-10-4z"/><path class="p7" d="M569 477l10 4-8-4-10-4z"/><path class="p8" d="M561 473l10 4-8-4-10-5z"/><path class="p10" d="M553 468l10 5-9-6-10-6z"/><path class="p12" d="M544 461l10 6-8-8-10-6z"/><path class="p14" d="M536 453l10 6-8-7-10-7z"/><path class="p16" d="M528 445l10 7-9-7-9-8z"/><path class="p18" d="M520 437l9 8-8-8-10-11z"/><path class="p21" d="M511 426l10 11-8-10-10-12z"/><path class="p23" d="M503 415l10 12-8-10-10-15z"/><path class="p26" d="M495 402l10 15-9-9-10-17z"/><path class="p28" d="M486 391l10 17-8-6-10-20z"/><path class="p30" d="M478 382l10 20-8-4-10-20z"/><path class="p31" d="M470 378l10 20-9 2-9-21z"/><path class="p32" d="M462 379l9 21-8 7-10-21z"/><path class="p31" d="M453 386l10 21-8 11-10-20z"/><path class="p30" d="M445 398l10 20-8 15-10-17z"/><path class="p28" d="M437 416l10 17-9 17-10-15z"/><path class="p26" d="M428 435l10 15-8 18-10-12z"/><path class="p23" d="M420 456l10 12-8 18-10-10z"/><path class="p21" d="M412 476l10 10-8 17-10-9z"/><path class="p18" d="M404 494l10 9-9 15-10-7z"/><path class="p16" d="M395 511l10 7-8 16-10-7z"/><path class="p14" d="M387 527l10 7-8 16-10-7z"/><path class="p12" d="M379 543l10 7-9 14-9-5z"/><path class="p10" d="M371 559l9 5-8 12-10-5z"/><path class="p8" d="M362 571l10 5-8 12-10-4z"/><path class="p7" d="M354 584l10 4-8 11-10-4z"/><path class="p6" d="M346 595l10 4-9 10-10-4z"/><path class="p4" d="M337 605l10 4-8 9-10-3z"/><path class="p3" d="M329 615l10 3-8 8-10-3z"/><path class="p2" d="M321 623l10 3-9 7-9-2z"/><path class="p1" d="M313 631l9 2-8 7-10-2zM304 638l10 2-8 6-10-3z"/><path class="p0" d="M288 648l8-5 10 3-8 4-7-1zM293 650l-2-1 7 1-1 1zM645 477l10 3-8 3-10-2zM637 481l10 2-8 3-10-3zM629 483l10 3-9 2-9-3z"/><path class="p1" d="M621 485l9 3-8 1-10-3z"/><path class="p2" d="M612 486l10 3-8 0-10-3z"/><path class="p3" d="M604 486l10 3-8-1-10-3z"/><path class="p4" d="M596 485l10 3-9-1-10-4z"/><path class="p5" d="M587 483l10 4-8-2-10-4z"/><path class="p7" d="M579 481l10 4-8-4-10-4z"/><path class="p8" d="M571 477l10 4-9-3-9-5z"/><path class="p10" d="M563 473l9 5-8-5-10-6z"/><path class="p11" d="M554 467l10 6-8-7-10-7z"/><path class="p13" d="M546 459l10 7-8-7-10-7z"/><path class="p15" d="M538 452l10 7-9-6-10-8z"/><path class="p17" d="M529 445l10 8-8-7-10-9z"/><path class="p19" d="M521 437l10 9-8-8-10-11z"/><path class="p22" d="M513 427l10 11-8-7-10-14z"/><path class="p24" d="M505 417l10 14-9-7-10-16z"/><path class="p26" d="M496 408l10 16-8-5-10-17z"/><path class="p27" d="M488 402l10 17-8-2-10-19z"/><path class="p29" d="M480 398l10 19-9 2-10-19zM471 400l10 19-8 6-10-18zM463 407l10 18-8 10-10-17z"/><path class="p27" d="M455 418l10 17-8 13-10-15z"/><path class="p26" d="M447 433l10 15-9 16-10-14z"/><path class="p24" d="M438 450l10 14-8 16-10-12z"/><path class="p22" d="M430 468l10 12-8 15-10-9z"/><path class="p19" d="M422 486l10 9-9 15-9-7z"/><path class="p17" d="M414 503l9 7-8 15-10-7z"/><path class="p15" d="M405 518l10 7-8 15-10-6z"/><path class="p13" d="M397 534l10 6-8 15-10-5z"/><path class="p11" d="M389 550l10 5-9 13-10-4z"/><path class="p10" d="M380 564l10 4-8 12-10-4z"/><path class="p8" d="M372 576l10 4-8 12-10-4z"/><path class="p7" d="M364 588l10 4-9 10-9-3z"/><path class="p5" d="M356 599l9 3-8 10-10-3z"/><path class="p4" d="M347 609l10 3-8 9-10-3z"/><path class="p3" d="M339 618l10 3-8 8-10-3z"/><path class="p2" d="M331 626l10 3-9 7-10-3z"/><path class="p1" d="M322 633l10 3-8 6-10-2z"/><path class="p0" d="M314 640l10 2-8 6-10-2zM306 646l10 2-8 5-10-3zM300 652l-3-1 1-1 10 3-3 1zM655 480l10 2-8 3-10-2zM647 483l10 2-8 3-10-2zM639 486l10 2-9 2-10-2z"/><path class="p1" d="M630 488l10 2-8 1-10-2z"/><path class="p2" d="M622 489l10 2-8 1-10-3z"/><path class="p3" d="M614 489l10 3-9 0-9-4z"/><path class="p4" d="M606 488l9 4-8-1-10-4z"/><path class="p5" d="M597 487l10 4-8-2-10-4z"/><path class="p6" d="M589 485l10 4-8-3-10-5z"/><path class="p8" d="M581 481l10 5-9-3-10-5z"/><path class="p9" d="M572 478l10 5-8-4-10-6z"/><path class="p11" d="M564 473l10 6-8-6-10-7z"/><path class="p13" d="M556 466l10 7-8-7-10-7z"/><path class="p15" d="M548 459l10 7-9-6-10-7z"/><path class="p16" d="M539 453l10 7-8-5-10-9z"/><path class="p18" d="M531 446l10 9-8-6-10-11z"/><path class="p20" d="M523 438l10 11-9-6-9-12z"/><path class="p22" d="M515 431l9 12-8-5-10-14z"/><path class="p24" d="M506 424l10 14-8-4-10-15z"/><path class="p25" d="M498 419l10 15-8 0-10-17z"/><path class="p26" d="M490 417l10 17-9 2-10-17zM481 419l10 17-8 6-10-17zM473 425l10 17-8 9-10-16z"/><path class="p25" d="M465 435l10 16-9 12-9-15z"/><path class="p24" d="M457 448l9 15-8 13-10-12z"/><path class="p22" d="M448 464l10 12-8 14-10-10z"/><path class="p20" d="M440 480l10 10-8 14-10-9z"/><path class="p18" d="M432 495l10 9-9 14-10-8z"/><path class="p16" d="M423 510l10 8-8 14-10-7z"/><path class="p15" d="M415 525l10 7-8 15-10-7z"/><path class="p13" d="M407 540l10 7-9 14-9-6z"/><path class="p11" d="M399 555l9 6-8 12-10-5z"/><path class="p9" d="M390 568l10 5-8 12-10-5z"/><path class="p8" d="M382 580l10 5-8 11-10-4z"/><path class="p6" d="M374 592l10 4-9 10-10-4z"/><path class="p5" d="M365 602l10 4-8 9-10-3z"/><path class="p4" d="M357 612l10 3-8 9-10-3z"/><path class="p3" d="M349 621l10 3-8 8-10-3z"/><path class="p2" d="M341 629l10 3-9 7-10-3z"/><path class="p1" d="M332 636l10 3-8 6-10-3z"/><path class="p0" d="M324 642l10 3-8 5-10-2zM316 648l10 2-9 5-9-2zM308 655l-3-1 3-1 9 2-3 2zM665 482l10 2-8 4-10-3zM657 485l10 3-8 3-10-3zM649 488l10 3-9 2-10-3z"/><path class="p1" d="M640 490l10 3-8 1-10-3z"/><path class="p2" d="M632 491l10 3-8 1-10-3zM624 492l10 3-9 0-10-3z"/><path class="p3" d="M615 492l10 3-8-1-10-3z"/><path class="p5" d="M607 491l10 3-8-1-10-4z"/><path class="p6" d="M599 489l10 4-8-3-10-4z"/><path class="p7" d="M591 486l10 4-9-3-10-4z"/><path class="p9" d="M582 483l10 4-8-3-10-5z"/><path class="p10" d="M574 479l10 5-8-4-10-7z"/><path class="p12" d="M566 473l10 7-9-6-9-8z"/><path class="p14" d="M558 466l9 8-8-6-10-8z"/><path class="p15" d="M549 460l10 8-8-5-10-8z"/><path class="p17" d="M541 455l10 8-8-4-10-10z"/><path class="p19" d="M533 449l10 10-9-5-10-11z"/><path class="p20" d="M524 443l10 11-8-3-10-13z"/><path class="p22" d="M516 438l10 13-8-2-10-15z"/><path class="p23" d="M508 434l10 15-9-1-9-14z"/><path class="p24" d="M500 434l9 14-8 3-10-15zM491 436l10 15-8 6-10-15zM483 442l10 15-8 8-10-14z"/><path class="p23" d="M475 451l10 14-9 10-10-12z"/><path class="p22" d="M466 463l10 12-8 12-10-11z"/><path class="p20" d="M458 476l10 11-8 13-10-10z"/><path class="p19" d="M450 490l10 10-8 13-10-9z"/><path class="p17" d="M442 504l10 9-9 13-10-8z"/><path class="p15" d="M433 518l10 8-8 14-10-8z"/><path class="p14" d="M425 532l10 8-8 14-10-7z"/><path class="p12" d="M417 547l10 7-9 13-10-6z"/><path class="p10" d="M408 561l10 6-8 11-10-5z"/><path class="p9" d="M400 573l10 5-8 11-10-4z"/><path class="p7" d="M392 585l10 4-8 11-10-4z"/><path class="p6" d="M384 596l10 4-9 10-10-4z"/><path class="p5" d="M375 606l10 4-8 9-10-4z"/><path class="p3" d="M367 615l10 4-8 8-10-3z"/><path class="p2" d="M359 624l10 3-9 7-9-2zM351 632l9 2-8 7-10-2z"/><path class="p1" d="M342 639l10 2-8 6-10-2z"/><path class="p0" d="M334 645l10 2-8 5-10-2zM326 650l10 2-9 5-10-2zM316 657l-2 0 3-2 10 2-3 2zM675 484l10 2-8 4-10-2zM667 488l10 2-9 3-9-2zM659 491l9 2-8 3-10-3z"/><path class="p1" d="M650 493l10 3-8 1-10-3zM642 494l10 3-8 1-10-3z"/><path class="p2" d="M634 495l10 3-9 0-10-3z"/><path class="p3" d="M625 495l10 3-8 0-10-4z"/><path class="p4" d="M617 494l10 4-8-1-10-4z"/><path class="p5" d="M609 493l10 4-9-2-9-5z"/><path class="p7" d="M601 490l9 5-8-3-10-5z"/><path class="p8" d="M592 487l10 5-8-2-10-6z"/><path class="p9" d="M584 484l10 6-8-4-10-6z"/><path class="p11" d="M576 480l10 6-9-5-10-7z"/><path class="p13" d="M567 474l10 7-8-5-10-8z"/><path class="p14" d="M559 468l10 8-8-5-10-8z"/><path class="p16" d="M551 463l10 8-8-3-10-9z"/><path class="p17" d="M543 459l10 9-9-3-10-11z"/><path class="p19" d="M534 454l10 11-8-3-10-11z"/><path class="p20" d="M526 451l10 11-8-1-10-12z"/><path class="p21" d="M518 449l10 12-9 1-10-14z"/><path class="p22" d="M509 448l10 14-8 3-10-14zM501 451l10 14-8 5-10-13zM493 457l10 13-8 8-10-13z"/><path class="p21" d="M485 465l10 13-9 9-10-12z"/><path class="p20" d="M476 475l10 12-8 11-10-11z"/><path class="p19" d="M468 487l10 11-8 11-10-9z"/><path class="p17" d="M460 500l10 9-9 12-9-8z"/><path class="p16" d="M452 513l9 8-8 13-10-8z"/><path class="p14" d="M443 526l10 8-8 13-10-7z"/><path class="p13" d="M435 540l10 7-8 13-10-6z"/><path class="p11" d="M427 554l10 6-9 12-10-5z"/><path class="p9" d="M418 567l10 5-8 11-10-5z"/><path class="p8" d="M410 578l10 5-8 11-10-5z"/><path class="p7" d="M402 589l10 5-9 10-9-4z"/><path class="p5" d="M394 600l9 4-8 9-10-3z"/><path class="p4" d="M385 610l10 3-8 9-10-3z"/><path class="p3" d="M377 619l10 3-8 8-10-3z"/><path class="p2" d="M369 627l10 3-9 7-10-3z"/><path class="p1" d="M360 634l10 3-8 7-10-3zM352 641l10 3-8 6-10-3z"/><path class="p0" d="M344 647l10 3-8 5-10-3zM336 652l10 3-9 4-10-2zM333 661l-8-2-1 0 3-2 10 2-4 2zM685 486l10 2-8 4-10-2zM677 490l10 2-9 3-10-2zM668 493l10 2-8 3-10-2z"/><path class="p1" d="M660 496l10 2-8 2-10-3zM652 497l10 3-9 1-9-3z"/><path class="p2" d="M644 498l9 3-8 1-10-4z"/><path class="p3" d="M635 498l10 4-8 0-10-4z"/><path class="p4" d="M627 498l10 4-8-1-10-4z"/><path class="p5" d="M619 497l10 4-9-1-10-5z"/><path class="p6" d="M610 495l10 5-8-3-10-5z"/><path class="p7" d="M602 492l10 5-8-2-10-5z"/><path class="p9" d="M594 490l10 5-8-3-10-6z"/><path class="p10" d="M586 486l10 6-9-3-10-8z"/><path class="p12" d="M577 481l10 8-8-5-10-8z"/><path class="p13" d="M569 476l10 8-8-4-10-9z"/><path class="p15" d="M561 471l10 9-9-3-9-9z"/><path class="p16" d="M553 468l9 9-8-3-10-9z"/><path class="p17" d="M544 465l10 9-8-1-10-11z"/><path class="p19" d="M536 462l10 11-8 0-10-12zM528 461l10 12-9 1-10-12z"/><path class="p20" d="M519 462l10 12-8 3-10-12zM511 465l10 12-8 5-10-12zM503 470l10 12-9 7-9-11z"/><path class="p19" d="M495 478l9 11-8 9-10-11zM486 487l10 11-8 9-10-9z"/><path class="p17" d="M478 498l10 9-8 11-10-9z"/><path class="p16" d="M470 509l10 9-9 11-10-8z"/><path class="p15" d="M461 521l10 8-8 13-10-8z"/><path class="p13" d="M453 534l10 8-8 13-10-8z"/><path class="p12" d="M445 547l10 8-9 11-9-6z"/><path class="p10" d="M437 560l9 6-8 11-10-5z"/><path class="p9" d="M428 572l10 5-8 11-10-5z"/><path class="p7" d="M420 583l10 5-8 10-10-4z"/><path class="p6" d="M412 594l10 4-9 10-10-4z"/><path class="p5" d="M403 604l10 4-8 9-10-4z"/><path class="p4" d="M395 613l10 4-8 8-10-3z"/><path class="p3" d="M387 622l10 3-8 8-10-3z"/><path class="p2" d="M379 630l10 3-9 7-10-3z"/><path class="p1" d="M370 637l10 3-8 6-10-2zM362 644l10 2-8 6-10-2z"/><path class="p0" d="M354 650l10 2-9 5-9-2zM346 655l9 2-8 5-10-3zM342 664l-9-3 4-2 10 3-4 2zM695 488l10 3-8 3-10-2zM687 492l10 2-9 4-10-3zM678 495l10 3-8 3-10-3zM670 498l10 3-8 2-10-3z"/><path class="p1" d="M662 500l10 3-9 1-10-3z"/><path class="p2" d="M653 501l10 3-8 1-10-3z"/><path class="p3" d="M645 502l10 3-8 1-10-4z"/><path class="p4" d="M637 502l10 4-8-1-10-4z"/><path class="p5" d="M629 501l10 4-9-1-10-4z"/><path class="p6" d="M620 500l10 4-8-1-10-6z"/><path class="p7" d="M612 497l10 6-8-3-10-5z"/><path class="p8" d="M604 495l10 5-9-2-9-6z"/><path class="p9" d="M596 492l9 6-8-2-10-7z"/><path class="p11" d="M587 489l10 7-8-3-10-9z"/><path class="p12" d="M579 484l10 9-8-4-10-9z"/><path class="p14" d="M571 480l10 9-9-3-10-9z"/><path class="p15" d="M562 477l10 9-8-2-10-10z"/><path class="p16" d="M554 474l10 10-8-1-10-10z"/><path class="p17" d="M546 473l10 10-9 1-9-11z"/><path class="p18" d="M538 473l9 11-8 1-10-11zM529 474l10 11-8 4-10-12zM521 477l10 12-8 5-10-12zM513 482l10 12-9 6-10-11zM504 489l10 11-8 8-10-10z"/><path class="p17" d="M496 498l10 10-8 9-10-10z"/><path class="p16" d="M488 507l10 10-8 10-10-9z"/><path class="p15" d="M480 518l10 9-9 11-10-9z"/><path class="p14" d="M471 529l10 9-8 12-10-8z"/><path class="p12" d="M463 542l10 8-8 12-10-7z"/><path class="p11" d="M455 555l10 7-9 10-10-6z"/><path class="p9" d="M446 566l10 6-8 11-10-6z"/><path class="p8" d="M438 577l10 6-8 10-10-5z"/><path class="p7" d="M430 588l10 5-8 10-10-5z"/><path class="p6" d="M422 598l10 5-9 9-10-4z"/><path class="p5" d="M413 608l10 4-8 9-10-4z"/><path class="p4" d="M405 617l10 4-8 8-10-4z"/><path class="p3" d="M397 625l10 4-9 7-9-3z"/><path class="p2" d="M389 633l9 3-8 7-10-3z"/><path class="p1" d="M380 640l10 3-8 6-10-3z"/><path class="p0" d="M372 646l10 3-8 5-10-2zM364 652l10 2-9 5-10-2zM355 657l10 2-8 5-10-2zM351 665l-8-1 4-2 10 2-4 2zM705 491l10 2-9 4-9-3zM697 494l9 3-8 3-10-2zM688 498l10 2-8 3-10-2zM680 501l10 2-8 3-10-3z"/><path class="p1" d="M672 503l10 3-9 2-10-4z"/><path class="p2" d="M663 504l10 4-8 1-10-4zM655 505l10 4-8 0-10-3z"/><path class="p3" d="M647 506l10 3-9 0-9-4z"/><path class="p4" d="M639 505l9 4-8 0-10-5z"/><path class="p5" d="M630 504l10 5-8-1-10-5z"/><path class="p6" d="M622 503l10 5-8-2-10-6z"/><path class="p8" d="M614 500l10 6-9-2-10-6z"/><path class="p9" d="M605 498l10 6-8-2-10-6z"/><path class="p10" d="M597 496l10 6-8-2-10-7z"/><path class="p11" d="M589 493l10 7-9-2-9-9z"/><path class="p13" d="M581 489l9 9-8-3-10-9z"/><path class="p14" d="M572 486l10 9-8-2-10-9z"/><path class="p15" d="M564 484l10 9-8 0-10-10z"/><path class="p16" d="M556 483l10 10-9 1-10-10zM547 484l10 10-8 2-10-11z"/><path class="p17" d="M539 485l10 11-8 3-10-10zM531 489l10 10-8 5-10-10zM523 494l10 10-9 6-10-10z"/><path class="p16" d="M514 500l10 10-8 7-10-9zM506 508l10 9-8 9-10-9z"/><path class="p15" d="M498 517l10 9-9 10-9-9z"/><path class="p14" d="M490 527l9 9-8 11-10-9z"/><path class="p13" d="M481 538l10 9-8 11-10-8z"/><path class="p11" d="M473 550l10 8-8 10-10-6z"/><path class="p10" d="M465 562l10 6-9 10-10-6z"/><path class="p9" d="M456 572l10 6-8 10-10-5z"/><path class="p8" d="M448 583l10 5-8 10-10-5z"/><path class="p6" d="M440 593l10 5-9 10-9-5z"/><path class="p5" d="M432 603l9 5-8 8-10-4z"/><path class="p4" d="M423 612l10 4-8 9-10-4z"/><path class="p3" d="M415 621l10 4-8 7-10-3z"/><path class="p2" d="M407 629l10 3-9 7-10-3zM398 636l10 3-8 7-10-3z"/><path class="p1" d="M390 643l10 3-8 6-10-3z"/><path class="p0" d="M382 649l10 3-9 5-9-3zM374 654l9 3-8 4-10-2zM365 659l10 2-8 5-10-2zM360 667l-7-1 4-2 10 2-4 2zM715 493l10 2-9 4-10-2zM706 497l10 2-8 3-10-2zM698 500l10 2-8 4-10-3zM690 503l10 3-9 3-9-3z"/><path class="p1" d="M682 506l9 3-8 1-10-2zM673 508l10 2-8 2-10-3z"/><path class="p2" d="M665 509l10 3-8 1-10-4z"/><path class="p3" d="M657 509l10 4-9 0-10-4z"/><path class="p4" d="M648 509l10 4-8 0-10-4z"/><path class="p5" d="M640 509l10 4-8-1-10-4z"/><path class="p6" d="M632 508l10 4-8-1-10-5z"/><path class="p7" d="M624 506l10 5-9-1-10-6z"/><path class="p8" d="M615 504l10 6-8-2-10-6z"/><path class="p9" d="M607 502l10 6-8-1-10-7z"/><path class="p10" d="M599 500l10 7-9-1-10-8z"/><path class="p11" d="M590 498l10 8-8-2-10-9z"/><path class="p13" d="M582 495l10 9-8-1-10-10z"/><path class="p14" d="M574 493l10 10-8-1-10-9zM566 493l10 9-9 1-10-9z"/><path class="p15" d="M557 494l10 9-8 2-10-9zM549 496l10 9-8 4-10-10z"/><path class="p16" d="M541 499l10 10-9 4-9-9z"/><path class="p15" d="M533 504l9 9-8 7-10-10zM524 510l10 10-8 7-10-10z"/><path class="p14" d="M516 517l10 10-8 9-10-10zM508 526l10 10-9 9-10-9z"/><path class="p13" d="M499 536l10 9-8 10-10-8z"/><path class="p11" d="M491 547l10 8-8 10-10-7z"/><path class="p10" d="M483 558l10 7-9 9-9-6z"/><path class="p9" d="M475 568l9 6-8 10-10-6z"/><path class="p8" d="M466 578l10 6-8 10-10-6z"/><path class="p7" d="M458 588l10 6-8 9-10-5z"/><path class="p6" d="M450 598l10 5-9 9-10-4z"/><path class="p5" d="M441 608l10 4-8 8-10-4z"/><path class="p4" d="M433 616l10 4-8 8-10-3z"/><path class="p3" d="M425 625l10 3-8 8-10-4z"/><path class="p2" d="M417 632l10 4-9 6-10-3z"/><path class="p1" d="M408 639l10 3-8 7-10-3zM400 646l10 3-8 5-10-2z"/><path class="p0" d="M392 652l10 2-9 5-10-2zM383 657l10 2-8 5-10-3zM375 661l10 3-8 4-10-2zM370 669l-7-1 4-2 10 2-3 2zM725 495l9 2-8 4-10-2zM716 499l10 2-8 4-10-3zM708 502l10 3-8 3-10-2zM700 506l10 2-9 3-10-2z"/><path class="p1" d="M691 509l10 2-8 2-10-3zM683 510l10 3-8 2-10-3z"/><path class="p2" d="M675 512l10 3-8 1-10-3z"/><path class="p3" d="M667 513l10 3-9 1-10-4zM658 513l10 4-8 0-10-4z"/><path class="p4" d="M650 513l10 4-8 0-10-5z"/><path class="p5" d="M642 512l10 5-9-1-9-5z"/><path class="p6" d="M634 511l9 5-8-1-10-5z"/><path class="p7" d="M625 510l10 5-8-1-10-6z"/><path class="p8" d="M617 508l10 6-8-1-10-6z"/><path class="p9" d="M609 507l10 6-9-1-10-6z"/><path class="p10" d="M600 506l10 6-8 0-10-8z"/><path class="p11" d="M592 504l10 8-8-1-10-8z"/><path class="p12" d="M584 503l10 8-9 0-9-9z"/><path class="p13" d="M576 502l9 9-8 1-10-9z"/><path class="p14" d="M567 503l10 9-8 2-10-9zM559 505l10 9-8 4-10-9zM551 509l10 9-9 4-10-9zM542 513l10 9-8 6-10-8zM534 520l10 8-8 8-10-9z"/><path class="p13" d="M526 527l10 9-9 8-9-8z"/><path class="p12" d="M518 536l9 8-8 9-10-8z"/><path class="p11" d="M509 545l10 8-8 9-10-7z"/><path class="p10" d="M501 555l10 7-8 9-10-6z"/><path class="p9" d="M493 565l10 6-9 9-10-6z"/><path class="p8" d="M484 574l10 6-8 9-10-5z"/><path class="p7" d="M476 584l10 5-8 9-10-4z"/><path class="p6" d="M468 594l10 4-8 9-10-4z"/><path class="p5" d="M460 603l10 4-9 9-10-4z"/><path class="p4" d="M451 612l10 4-8 8-10-4z"/><path class="p3" d="M443 620l10 4-8 7-10-3zM435 628l10 3-9 8-9-3z"/><path class="p2" d="M427 636l9 3-8 6-10-3z"/><path class="p1" d="M418 642l10 3-8 6-10-2zM410 649l10 2-8 6-10-3z"/><path class="p0" d="M402 654l10 3-9 4-10-2zM393 659l10 2-8 5-10-2zM385 664l10 2-8 4-10-2zM379 671l-5-1 3-2 10 2-2 1zM734 497l10 3-8 3-10-2zM726 501l10 2-8 4-10-2zM718 505l10 2-8 4-10-3zM710 508l10 3-9 3-10-3zM701 511l10 3-8 2-10-3z"/><path class="p1" d="M693 513l10 3-8 2-10-3z"/><path class="p2" d="M685 515l10 3-9 1-9-3zM677 516l9 3-8 1-10-3z"/><path class="p3" d="M668 517l10 3-8 1-10-4z"/><path class="p4" d="M660 517l10 4-8 0-10-4z"/><path class="p5" d="M652 517l10 4-9-1-10-4z"/><path class="p6" d="M643 516l10 4-8 0-10-5z"/><path class="p7" d="M635 515l10 5-8-1-10-5z"/><path class="p8" d="M627 514l10 5-9-1-9-5z"/><path class="p9" d="M619 513l9 5-8 0-10-6z"/><path class="p10" d="M610 512l10 6-8 0-10-6z"/><path class="p11" d="M602 512l10 6-8 0-10-7zM594 511l10 7-9 1-10-8z"/><path class="p12" d="M585 511l10 8-8 1-10-8z"/><path class="p13" d="M577 512l10 8-8 2-10-8zM569 514l10 8-8 4-10-8zM561 518l10 8-9 5-10-9zM552 522l10 9-8 6-10-9zM544 528l10 9-8 6-10-7z"/><path class="p12" d="M536 536l10 7-9 8-10-7z"/><path class="p11" d="M527 544l10 7-8 8-10-6zM519 553l10 6-8 8-10-5z"/><path class="p10" d="M511 562l10 5-8 9-10-5z"/><path class="p9" d="M503 571l10 5-9 9-10-5z"/><path class="p8" d="M494 580l10 5-8 9-10-5z"/><path class="p7" d="M486 589l10 5-8 9-10-5z"/><path class="p6" d="M478 598l10 5-9 8-9-4z"/><path class="p5" d="M470 607l9 4-8 9-10-4z"/><path class="p4" d="M461 616l10 4-8 7-10-3z"/><path class="p3" d="M453 624l10 3-8 8-10-4z"/><path class="p2" d="M445 631l10 4-9 7-10-3zM436 639l10 3-8 6-10-3z"/><path class="p1" d="M428 645l10 3-8 6-10-3z"/><path class="p0" d="M420 651l10 3-9 5-9-2zM412 657l9 2-8 5-10-3zM403 661l10 3-8 4-10-2zM395 666l10 2-8 5-10-3zM389 672l-4-1 2-1 10 3-1 0zM744 500l5 0 4 2-7 4-10-3zM736 503l10 3-8 3-10-2zM728 507l10 2-9 4-9-2zM720 511l9 2-8 3-10-2zM711 514l10 2-8 3-10-3z"/><path class="p1" d="M703 516l10 3-8 2-10-3zM695 518l10 3-9 2-10-4z"/><path class="p2" d="M686 519l10 4-8 1-10-4z"/><path class="p3" d="M678 520l10 4-8 0-10-3z"/><path class="p4" d="M670 521l10 3-8 1-10-4zM662 521l10 4-9 0-10-5z"/><path class="p5" d="M653 520l10 5-8 0-10-5z"/><path class="p6" d="M645 520l10 5-8-1-10-5z"/><path class="p7" d="M637 519l10 5-9 0-10-6z"/><path class="p8" d="M628 518l10 6-8 0-10-6z"/><path class="p9" d="M620 518l10 6-8 0-10-6z"/><path class="p10" d="M612 518l10 6-8 1-10-7zM604 518l10 7-9 1-10-7z"/><path class="p11" d="M595 519l10 7-8 2-10-8z"/><path class="p12" d="M587 520l10 8-8 2-10-8zM579 522l10 8-9 4-9-8zM571 526l9 8-8 4-10-7zM562 531l10 7-8 6-10-7zM554 537l10 7-8 7-10-8z"/><path class="p11" d="M546 543l10 8-9 7-10-7z"/><path class="p10" d="M537 551l10 7-8 7-10-6zM529 559l10 6-8 8-10-6z"/><path class="p9" d="M521 567l10 6-9 9-9-6z"/><path class="p8" d="M513 576l9 6-8 8-10-5z"/><path class="p7" d="M504 585l10 5-8 9-10-5z"/><path class="p6" d="M496 594l10 5-8 8-10-4z"/><path class="p5" d="M488 603l10 4-9 8-10-4z"/><path class="p4" d="M479 611l10 4-8 8-10-3zM471 620l10 3-8 8-10-4z"/><path class="p3" d="M463 627l10 4-8 7-10-3z"/><path class="p2" d="M455 635l10 3-9 7-10-3z"/><path class="p1" d="M446 642l10 3-8 6-10-3zM438 648l10 3-8 5-10-2z"/><path class="p0" d="M430 654l10 2-9 5-10-2zM421 659l10 2-8 5-10-2zM413 664l10 2-8 4-10-2zM405 668l10 2-8 4-6-1-4 0zM399 673l-3 0 1 0 4 0zM753 502l2 1 6 2-5 3-10-2zM746 506l10 2-8 3-10-2zM738 509l10 2-9 4-10-2zM729 513l10 2-8 4-10-3zM721 516l10 3-8 3-10-3z"/><path class="p1" d="M713 519l10 3-8 2-10-3zM705 521l10 3-9 2-10-3z"/><path class="p2" d="M696 523l10 3-8 1-10-3zM688 524l10 3-8 1-10-4z"/><path class="p3" d="M680 524l10 4-9 1-9-4z"/><path class="p4" d="M672 525l9 4-8 0-10-4z"/><path class="p5" d="M663 525l10 4-8 0-10-4z"/><path class="p6" d="M655 525l10 4-8 0-10-5z"/><path class="p7" d="M647 524l10 5-9 0-10-5zM638 524l10 5-8 1-10-6z"/><path class="p8" d="M630 524l10 6-8 0-10-6z"/><path class="p9" d="M622 524l10 6-9 1-9-6z"/><path class="p10" d="M614 525l9 6-8 2-10-7zM605 526l10 7-8 2-10-7z"/><path class="p11" d="M597 528l10 7-8 3-10-8zM589 530l10 8-9 3-10-7zM580 534l10 7-8 5-10-8zM572 538l10 8-8 5-10-7zM564 544l10 7-9 6-9-6z"/><path class="p10" d="M556 551l9 6-8 7-10-6zM547 558l10 6-8 7-10-6z"/><path class="p9" d="M539 565l10 6-8 8-10-6z"/><path class="p8" d="M531 573l10 6-9 8-10-5z"/><path class="p7" d="M522 582l10 5-8 8-10-5zM514 590l10 5-8 9-10-5z"/><path class="p6" d="M506 599l10 5-8 8-10-5z"/><path class="p5" d="M498 607l10 5-9 8-10-5z"/><path class="p4" d="M489 615l10 5-8 7-10-4z"/><path class="p3" d="M481 623l10 4-8 7-10-3z"/><path class="p2" d="M473 631l10 3-9 7-9-3zM465 638l9 3-8 6-10-2z"/><path class="p1" d="M456 645l10 2-8 6-10-2zM448 651l10 2-8 6-10-3z"/><path class="p0" d="M440 656l10 3-9 4-10-2zM431 661l10 2-8 5-10-2zM423 666l10 2-8 5-10-3zM409 674l-2 0 8-4 10 3-6 2zM761 505l1 0 6 3 1 0-3 2-10-2zM756 508l10 2-8 4-10-3zM748 511l10 3-9 3-10-2zM739 515l10 2-8 4-10-2zM731 519l10 2-8 3-10-2zM723 522l10 2-9 3-9-3z"/><path class="p1" d="M715 524l9 3-8 2-10-3zM706 526l10 3-8 2-10-4z"/><path class="p2" d="M698 527l10 4-8 1-10-4z"/><path class="p3" d="M690 528l10 4-9 1-10-4z"/><path class="p4" d="M681 529l10 4-8 1-10-5zM673 529l10 5-8 0-10-5z"/><path class="p5" d="M665 529l10 5-9 1-9-6z"/><path class="p6" d="M657 529l9 6-8 0-10-6z"/><path class="p7" d="M648 529l10 6-8 1-10-6z"/><path class="p8" d="M640 530l10 6-8 0-10-6zM632 530l10 6-9 2-10-7z"/><path class="p9" d="M623 531l10 7-8 1-10-6zM615 533l10 6-8 3-10-7z"/><path class="p10" d="M607 535l10 7-8 3-10-7zM599 538l10 7-9 3-10-7zM590 541l10 7-8 5-10-7zM582 546l10 7-8 5-10-7zM574 551l10 7-9 6-10-7z"/><path class="p9" d="M565 557l10 7-8 6-10-6zM557 564l10 6-8 8-10-7z"/><path class="p8" d="M549 571l10 7-8 7-10-6zM541 579l10 6-9 8-10-6z"/><path class="p7" d="M532 587l10 6-8 8-10-6z"/><path class="p6" d="M524 595l10 6-8 7-10-4z"/><path class="p5" d="M516 604l10 4-9 8-9-4z"/><path class="p4" d="M508 612l9 4-8 8-10-4zM499 620l10 4-8 7-10-4z"/><path class="p3" d="M491 627l10 4-8 7-10-4z"/><path class="p2" d="M483 634l10 4-9 6-10-3z"/><path class="p1" d="M474 641l10 3-8 6-10-3zM466 647l10 3-8 6-10-3z"/><path class="p0" d="M458 653l10 3-9 5-9-2zM450 659l9 2-8 5-10-3zM441 663l10 3-8 4-10-2zM433 668l10 2-8 5-10-2zM430 676l-11-1 0 0 6-2 10 2-4 2zM769 508l6 3 2 1-1 0-10-2zM766 510l10 2-9 4-9-2zM758 514l9 2-8 4-10-3zM749 517l10 3-8 3-10-2zM741 521l10 2-8 4-10-3zM733 524l10 3-9 3-10-3z"/><path class="p1" d="M724 527l10 3-8 2-10-3zM716 529l10 3-8 2-10-3z"/><path class="p2" d="M708 531l10 3-9 2-9-4zM700 532l9 4-8 1-10-4z"/><path class="p3" d="M691 533l10 4-8 1-10-4z"/><path class="p4" d="M683 534l10 4-8 1-10-5z"/><path class="p5" d="M675 534l10 5-9 1-10-5zM666 535l10 5-8 0-10-5z"/><path class="p6" d="M658 535l10 5-8 1-10-5z"/><path class="p7" d="M650 536l10 5-8 1-10-6zM642 536l10 6-9 2-10-6z"/><path class="p8" d="M633 538l10 6-8 2-10-7zM625 539l10 7-8 2-10-6z"/><path class="p9" d="M617 542l10 6-9 3-9-6zM609 545l9 6-8 4-10-7zM600 548l10 7-8 5-10-7zM592 553l10 7-8 5-10-7zM584 558l10 7-9 6-10-7z"/><path class="p8" d="M575 564l10 7-8 6-10-7zM567 570l10 7-8 7-10-6z"/><path class="p7" d="M559 578l10 6-9 7-9-6zM551 585l9 6-8 7-10-5z"/><path class="p6" d="M542 593l10 5-8 8-10-5z"/><path class="p5" d="M534 601l10 5-8 7-10-5zM526 608l10 5-9 7-10-4z"/><path class="p4" d="M517 616l10 4-8 8-10-4z"/><path class="p3" d="M509 624l10 4-8 6-10-3z"/><path class="p2" d="M501 631l10 3-9 7-9-3zM493 638l9 3-8 6-10-3z"/><path class="p1" d="M484 644l10 3-8 6-10-3zM476 650l10 3-8 6-10-3z"/><path class="p0" d="M468 656l10 3-9 4-10-2zM459 661l10 2-8 5-10-2zM451 666l10 2-8 5-10-3zM443 670l10 3-8 4-10-2zM440 677l-9 0 4-2 10 2-1 0zM777 512l2 1-3-1zM776 512l3 1 2 1 3 1-7 3-10-2zM767 516l10 2-8 4-10-2zM759 520l10 2-8 4-10-3zM751 523l10 3-8 3-10-2zM743 527l10 2-9 3-10-2zM734 530l10 2-8 3-10-3z"/><path class="p1" d="M726 532l10 3-8 2-10-3zM718 534l10 3-9 2-10-3z"/><path class="p2" d="M709 536l10 3-8 2-10-4z"/><path class="p3" d="M701 537l10 4-8 1-10-4zM693 538l10 4-8 1-10-4z"/><path class="p4" d="M685 539l10 4-9 1-10-4z"/><path class="p5" d="M676 540l10 4-8 2-10-6zM668 540l10 6-8 1-10-6z"/><path class="p6" d="M660 541l10 6-9 1-9-6z"/><path class="p7" d="M652 542l9 6-8 2-10-6zM643 544l10 6-8 2-10-6z"/><path class="p8" d="M635 546l10 6-8 3-10-7zM627 548l10 7-9 3-10-7zM618 551l10 7-8 4-10-7zM610 555l10 7-8 4-10-6zM602 560l10 6-9 5-9-6zM594 565l9 6-8 6-10-6zM585 571l10 6-8 6-10-6z"/><path class="p7" d="M577 577l10 6-8 6-10-5zM569 584l10 5-9 7-10-5z"/><path class="p6" d="M560 591l10 5-8 7-10-5z"/><path class="p5" d="M552 598l10 5-8 7-10-4zM544 606l10 4-8 7-10-4z"/><path class="p4" d="M536 613l10 4-9 7-10-4z"/><path class="p3" d="M527 620l10 4-8 7-10-3zM519 628l10 3-8 7-10-4z"/><path class="p2" d="M511 634l10 4-9 6-10-3z"/><path class="p1" d="M502 641l10 3-8 6-10-3zM494 647l10 3-8 6-10-3z"/><path class="p0" d="M486 653l10 3-8 5-10-2zM478 659l10 2-9 5-10-3zM469 663l10 3-8 4-10-2zM461 668l10 2-8 5-10-2zM453 673l10 2-7 3-5 0-3 0-3-1zM444 677l1 0 3 1zM784 515l3 2 4 2-4 1-10-2zM777 518l10 2-8 4-10-2zM769 522l10 2-8 4-10-2zM761 526l10 2-9 4-9-3zM753 529l9 3-8 3-10-3zM744 532l10 3-8 3-10-3z"/><path class="p1" d="M736 535l10 3-8 2-10-3zM728 537l10 3-9 2-10-3z"/><path class="p2" d="M719 539l10 3-8 2-10-3zM711 541l10 3-8 2-10-4z"/><path class="p3" d="M703 542l10 4-9 2-9-5z"/><path class="p4" d="M695 543l9 5-8 1-10-5zM686 544l10 5-8 1-10-4z"/><path class="p5" d="M678 546l10 4-8 2-10-5zM670 547l10 5-9 2-10-6z"/><path class="p6" d="M661 548l10 6-8 1-10-5zM653 550l10 5-8 3-10-6z"/><path class="p7" d="M645 552l10 6-8 3-10-6zM637 555l10 6-9 3-10-6zM628 558l10 6-8 4-10-6zM620 562l10 6-8 4-10-6zM612 566l10 6-9 5-10-6zM603 571l10 6-8 6-10-6zM595 577l10 6-8 5-10-5z"/><path class="p6" d="M587 583l10 5-8 7-10-6zM579 589l10 6-9 6-10-5z"/><path class="p5" d="M570 596l10 5-8 7-10-5zM562 603l10 5-8 7-10-5z"/><path class="p4" d="M554 610l10 5-9 7-9-5zM546 617l9 5-8 6-10-4z"/><path class="p3" d="M537 624l10 4-8 7-10-4z"/><path class="p2" d="M529 631l10 4-8 6-10-3zM521 638l10 3-9 6-10-3z"/><path class="p1" d="M512 644l10 3-8 6-10-3zM504 650l10 3-8 6-10-3z"/><path class="p0" d="M496 656l10 3-9 4-9-2zM488 661l9 2-8 5-10-2zM479 666l10 2-8 5-10-3zM471 670l10 3-8 4-10-2zM461 678l-5 0 7-3 10 2-4 2zM791 519l1 1 5 3-10-3zM787 520l10 3 0 0-8 4-10-3zM779 524l10 3-8 3-10-2zM771 528l10 2-9 4-10-2zM762 532l10 2-8 3-10-2zM754 535l10 2-8 4-10-3z"/><path class="p1" d="M746 538l10 3-9 2-9-3zM738 540l9 3-8 3-10-4zM729 542l10 4-8 2-10-4z"/><path class="p2" d="M721 544l10 4-8 2-10-4z"/><path class="p3" d="M713 546l10 4-9 2-10-4zM704 548l10 4-8 1-10-4z"/><path class="p4" d="M696 549l10 4-8 2-10-5zM688 550l10 5-8 2-10-5z"/><path class="p5" d="M680 552l10 5-9 2-10-5zM671 554l10 5-8 2-10-6z"/><path class="p6" d="M663 555l10 6-8 2-10-5zM655 558l10 5-9 3-9-5zM647 561l9 5-8 4-10-6z"/><path class="p7" d="M638 564l10 6-8 4-10-6zM630 568l10 6-8 4-10-6zM622 572l10 6-9 5-10-6z"/><path class="p6" d="M613 577l10 6-8 5-10-5zM605 583l10 5-8 6-10-6zM597 588l10 6-9 6-9-5z"/><path class="p5" d="M589 595l9 5-8 6-10-5zM580 601l10 5-8 7-10-5z"/><path class="p4" d="M572 608l10 5-8 6-10-4zM564 615l10 4-9 7-10-4z"/><path class="p3" d="M555 622l10 4-8 6-10-4zM547 628l10 4-8 7-10-4z"/><path class="p2" d="M539 635l10 4-9 6-9-4z"/><path class="p1" d="M531 641l9 4-8 6-10-4zM522 647l10 4-8 5-10-3zM514 653l10 3-8 5-10-2z"/><path class="p0" d="M506 659l10 2-9 5-10-3zM497 663l10 3-8 4-10-2zM489 668l10 2-8 5-10-2zM481 673l10 2-8 4-1 0-9-2zM472 679l-3 0 4-2 9 2zM797 523l0 0 5 3 1 1-4 2-10-2zM789 527l10 2-8 4-10-3zM781 530l10 3-9 3-10-2zM772 534l10 2-8 4-10-3zM764 537l10 3-8 3-10-2zM756 541l10 2-9 3-10-3z"/><path class="p1" d="M747 543l10 3-8 3-10-3zM739 546l10 3-8 2-10-3z"/><path class="p2" d="M731 548l10 3-8 2-10-3zM723 550l10 3-9 2-10-3z"/><path class="p3" d="M714 552l10 3-8 2-10-4zM706 553l10 4-8 2-10-4z"/><path class="p4" d="M698 555l10 4-9 2-9-4zM690 557l9 4-8 3-10-5z"/><path class="p5" d="M681 559l10 5-8 2-10-5zM673 561l10 5-8 3-10-6zM665 563l10 6-9 3-10-6z"/><path class="p6" d="M656 566l10 6-8 3-10-5zM648 570l10 5-8 4-10-5zM640 574l10 5-9 4-9-5zM632 578l9 5-8 5-10-5zM623 583l10 5-8 5-10-5z"/><path class="p5" d="M615 588l10 5-8 6-10-5zM607 594l10 5-9 6-10-5zM598 600l10 5-8 6-10-5z"/><path class="p4" d="M590 606l10 5-8 6-10-4zM582 613l10 4-8 6-10-4z"/><path class="p3" d="M574 619l10 4-9 7-10-4zM565 626l10 4-8 6-10-4z"/><path class="p2" d="M557 632l10 4-8 6-10-3zM549 639l10 3-9 6-10-3z"/><path class="p1" d="M540 645l10 3-8 5-10-2zM532 651l10 2-8 6-10-3z"/><path class="p0" d="M524 656l10 3-8 5-10-3zM516 661l10 3-9 4-10-2zM507 666l10 2-8 5-10-3zM499 670l10 3-8 4-10-2zM494 679l-11 0 0 0 8-4 10 2-5 2zM803 527l3 2 3 2 0 0-10-2zM799 529l10 2-9 4-9-2zM791 533l9 2-8 4-10-3zM782 536l10 3-8 3-10-2zM774 540l10 2-8 4-10-3zM766 543l10 3-9 3-10-3z"/><path class="p1" d="M757 546l10 3-8 3-10-3zM749 549l10 3-8 3-10-4zM741 551l10 4-9 2-9-4z"/><path class="p2" d="M733 553l9 4-8 2-10-4zM724 555l10 4-8 2-10-4z"/><path class="p3" d="M716 557l10 4-8 3-10-5zM708 559l10 5-9 2-10-5z"/><path class="p4" d="M699 561l10 5-8 2-10-4zM691 564l10 4-8 3-10-5z"/><path class="p5" d="M683 566l10 5-9 3-9-5zM675 569l9 5-8 3-10-5zM666 572l10 5-8 3-10-5zM658 575l10 5-8 4-10-5zM650 579l10 5-9 5-10-6zM641 583l10 6-8 4-10-5zM633 588l10 5-8 5-10-5zM625 593l10 5-8 6-10-5zM617 599l10 5-9 5-10-4z"/><path class="p4" d="M608 605l10 4-8 6-10-4zM600 611l10 4-8 6-10-4z"/><path class="p3" d="M592 617l10 4-9 6-9-4zM584 623l9 4-8 6-10-3z"/><path class="p2" d="M575 630l10 3-8 6-10-3zM567 636l10 3-8 6-10-3z"/><path class="p1" d="M559 642l10 3-9 6-10-3zM550 648l10 3-8 5-10-3zM542 653l10 3-8 5-10-2z"/><path class="p0" d="M534 659l10 2-9 5-9-2zM526 664l9 2-8 4-10-2zM517 668l10 2-8 5-10-2zM509 673l10 2-8 4-10-2zM504 679l-8 0 5-2 10 2 0 0zM809 531l0 0 0 0zM809 531l0 0 2 1 3 3-4 2-10-2zM800 535l10 2-8 4-10-2zM792 539l10 2-8 4-10-3zM784 542l10 3-9 3-9-2zM776 546l9 2-8 4-10-3zM767 549l10 3-8 3-10-3z"/><path class="p1" d="M759 552l10 3-8 3-10-3zM751 555l10 3-9 2-10-3zM742 557l10 3-8 3-10-4z"/><path class="p2" d="M734 559l10 4-8 2-10-4zM726 561l10 4-8 3-10-4z"/><path class="p3" d="M718 564l10 4-9 2-10-4zM709 566l10 4-8 3-10-5z"/><path class="p4" d="M701 568l10 5-8 2-10-4zM693 571l10 4-9 3-10-4zM684 574l10 4-8 4-10-5zM676 577l10 5-8 3-10-5z"/><path class="p5" d="M668 580l10 5-8 4-10-5zM660 584l10 5-9 5-10-5zM651 589l10 5-8 4-10-5z"/><path class="p4" d="M643 593l10 5-8 5-10-5zM635 598l10 5-9 5-9-4zM627 604l9 4-8 6-10-5zM618 609l10 5-8 5-10-4z"/><path class="p3" d="M610 615l10 4-8 6-10-4zM602 621l10 4-9 6-10-4z"/><path class="p2" d="M593 627l10 4-8 6-10-4zM585 633l10 4-8 6-10-4z"/><path class="p1" d="M577 639l10 4-9 5-9-3zM569 645l9 3-8 6-10-3zM560 651l10 3-8 5-10-3z"/><path class="p0" d="M552 656l10 3-8 5-10-3zM544 661l10 3-9 4-10-2zM535 666l10 2-8 5-10-3zM527 670l10 3-8 4-10-2zM519 675l10 2-4 2-10 0-4 0 0 0zM511 679l0 0 0 0zM814 535l0 1 3 3-7-2zM810 537l7 2 1 0 1 1-7 3-10-2zM802 541l10 2-8 4-10-2zM794 545l10 2-9 4-10-3zM785 548l10 3-8 3-10-2zM777 552l10 2-8 4-10-3zM769 555l10 3-8 3-10-3z"/><path class="p1" d="M761 558l10 3-9 3-10-4zM752 560l10 4-8 2-10-3z"/><path class="p2" d="M744 563l10 3-8 3-10-4zM736 565l10 4-9 2-9-3zM728 568l9 3-8 3-10-4z"/><path class="p3" d="M719 570l10 4-8 3-10-4zM711 573l10 4-8 3-10-5zM703 575l10 5-9 3-10-5z"/><path class="p4" d="M694 578l10 5-8 3-10-4zM686 582l10 4-8 4-10-5zM678 585l10 5-9 4-9-5zM670 589l9 5-8 4-10-4zM661 594l10 4-8 5-10-5zM653 598l10 5-8 5-10-5zM645 603l10 5-9 5-10-5z"/><path class="p3" d="M636 608l10 5-8 5-10-4zM628 614l10 4-8 6-10-5zM620 619l10 5-9 5-9-4z"/><path class="p2" d="M612 625l9 4-8 6-10-4zM603 631l10 4-8 5-10-3zM595 637l10 3-8 6-10-3z"/><path class="p1" d="M587 643l10 3-9 5-10-3zM578 648l10 3-8 5-10-2z"/><path class="p0" d="M570 654l10 2-8 5-10-2zM562 659l10 2-8 5-10-2zM554 664l10 2-9 5-10-3zM545 668l10 3-8 4-10-2zM537 673l10 2-7 3-3 1-1 0-7-2zM526 679l-1 0 4-2 7 2zM819 540l2 2 2 3-1 0-10-2zM812 543l10 2-8 4-10-2zM804 547l10 2-9 4-10-2zM795 551l10 2-8 4-10-3zM787 554l10 3-8 3-10-2zM779 558l10 2-9 4-9-3z"/><path class="p1" d="M771 561l9 3-8 3-10-3zM762 564l10 3-8 3-10-4zM754 566l10 4-8 2-10-3z"/><path class="p2" d="M746 569l10 3-9 3-10-4zM737 571l10 4-8 3-10-4zM729 574l10 4-8 3-10-4z"/><path class="p3" d="M721 577l10 4-9 3-9-4zM713 580l9 4-8 3-10-4zM704 583l10 4-8 4-10-5zM696 586l10 5-8 3-10-4zM688 590l10 4-9 4-10-4zM679 594l10 4-8 5-10-5zM671 598l10 5-8 4-10-4zM663 603l10 4-8 5-10-4zM655 608l10 4-9 5-10-4zM646 613l10 4-8 5-10-4zM638 618l10 4-8 5-10-3z"/><path class="p2" d="M630 624l10 3-9 6-10-4zM621 629l10 4-8 5-10-3zM613 635l10 3-8 6-10-4z"/><path class="p1" d="M605 640l10 4-8 5-10-3zM597 646l10 3-9 5-10-3zM588 651l10 3-8 5-10-3z"/><path class="p0" d="M580 656l10 3-8 5-10-3zM572 661l10 3-9 4-9-2zM564 666l9 2-8 5-10-2zM555 671l10 2-8 4-10-2zM548 678l-8 0 7-3 10 2-1 1zM823 545l0 1-1-1zM822 545l1 1 0 0 3 3 0 1-3 2-9-3zM814 549l9 3-8 3-10-2zM805 553l10 2-8 4-10-2zM797 557l10 2-8 4-10-3zM789 560l10 3-9 3-10-2zM780 564l10 2-8 4-10-3z"/><path class="p1" d="M772 567l10 3-8 3-10-3zM764 570l10 3-8 3-10-4zM756 572l10 4-9 3-10-4z"/><path class="p2" d="M747 575l10 4-8 3-10-4zM739 578l10 4-8 3-10-4zM731 581l10 4-9 3-10-4zM722 584l10 4-8 3-10-4z"/><path class="p3" d="M714 587l10 4-8 4-10-4zM706 591l10 4-8 4-10-5zM698 594l10 5-9 4-10-5zM689 598l10 5-8 4-10-4zM681 603l10 4-8 4-10-4zM673 607l10 4-9 5-9-4zM665 612l9 4-8 5-10-4z"/><path class="p2" d="M656 617l10 4-8 5-10-4zM648 622l10 4-8 5-10-4zM640 627l10 4-9 5-10-3zM631 633l10 3-8 6-10-4z"/><path class="p1" d="M623 638l10 4-8 5-10-3zM615 644l10 3-9 5-9-3zM607 649l9 3-8 5-10-3z"/><path class="p0" d="M598 654l10 3-8 5-10-3zM590 659l10 3-8 4-10-2zM582 664l10 2-9 5-10-3zM573 668l10 3-8 4-10-2zM565 673l10 2-3 2-2 0-11 1-1 0-1-1zM556 678l1-1 1 1zM826 550l1 2-4 0zM823 552l4 0 1 1 1 3-4 2-10-3zM815 555l10 3-8 3-10-2zM807 559l10 2-8 4-10-2zM799 563l10 2-9 4-10-3zM790 566l10 3-8 3-10-2zM782 570l10 2-8 4-10-3z"/><path class="p1" d="M774 573l10 3-9 3-9-3zM766 576l9 3-8 3-10-3zM757 579l10 3-8 3-10-3z"/><path class="p2" d="M749 582l10 3-8 3-10-3zM741 585l10 3-9 4-10-4zM732 588l10 4-8 3-10-4zM724 591l10 4-8 4-10-4zM716 595l10 4-9 3-9-3zM708 599l9 3-8 4-10-3zM699 603l10 3-8 5-10-4zM691 607l10 4-8 4-10-4zM683 611l10 4-9 5-10-4zM674 616l10 4-8 5-10-4zM666 621l10 4-8 5-10-4zM658 626l10 4-9 5-9-4zM650 631l9 4-8 5-10-4z"/><path class="p1" d="M641 636l10 4-8 5-10-3zM633 642l10 3-8 5-10-3zM625 647l10 3-9 5-10-3z"/><path class="p0" d="M616 652l10 3-8 5-10-3zM608 657l10 3-8 4-10-2zM600 662l10 2-8 5-10-3zM592 666l10 3-9 4-10-2zM583 671l10 2-4 2-9 1-1 0-4-1zM572 677l3-2 4 1zM829 556l0 0 1 3-5-1zM825 558l5 1 0 1 1 2-4 2-10-3zM817 561l10 3-9 4-9-3zM809 565l9 3-8 3-10-2zM800 569l10 2-8 4-10-3zM792 572l10 3-8 3-10-2zM784 576l10 2-9 4-10-3z"/><path class="p1" d="M775 579l10 3-8 3-10-3zM767 582l10 3-8 3-10-3zM759 585l10 3-9 4-9-4zM751 588l9 4-8 3-10-3z"/><path class="p2" d="M742 592l10 3-8 4-10-4zM734 595l10 4-8 3-10-3zM726 599l10 3-9 4-10-4zM717 602l10 4-8 4-10-4zM709 606l10 4-8 4-10-3zM701 611l10 3-8 5-10-4zM693 615l10 4-9 4-10-3zM684 620l10 3-8 5-10-3zM676 625l10 3-8 5-10-3z"/><path class="p1" d="M668 630l10 3-9 5-10-3zM659 635l10 3-8 5-10-3zM651 640l10 3-8 5-10-3zM643 645l10 3-8 5-10-3z"/><path class="p0" d="M635 650l10 3-9 4-10-2zM626 655l10 2-8 5-10-2zM618 660l10 2-8 4-10-2zM610 664l10 2-9 5-9-2zM602 669l9 2-4 2-6 1-3 0-5-1zM591 675l-2 0 4-2 5 1zM831 562l0 1 0 2-4-1zM827 564l4 1 0 2 0 1-3 2-10-2zM818 568l10 2-8 4-10-3zM810 571l10 3-8 3-10-2zM802 575l10 2-9 4-9-3zM794 578l9 3-8 4-10-3zM785 582l10 3-8 3-10-3z"/><path class="p1" d="M777 585l10 3-8 4-10-4zM769 588l10 4-9 3-10-3zM760 592l10 3-8 3-10-3zM752 595l10 3-8 4-10-3zM744 599l10 3-8 4-10-4z"/><path class="p2" d="M736 602l10 4-9 4-10-4zM727 606l10 4-8 4-10-4zM719 610l10 4-8 4-10-4zM711 614l10 4-9 4-9-3zM703 619l9 3-8 5-10-4z"/><path class="p1" d="M694 623l10 4-8 4-10-3zM686 628l10 3-8 5-10-3zM678 633l10 3-9 5-10-3zM669 638l10 3-8 5-10-3zM661 643l10 3-8 5-10-3z"/><path class="p0" d="M653 648l10 3-9 4-9-2zM645 653l9 2-8 5-10-3zM636 657l10 3-8 4-10-2zM628 662l10 2-8 5-10-3zM620 666l10 3-3 1-5 1-6 1-5-1zM612 672l-5 1 4-2 5 1zM831 568l0 2 0 1-3-1zM828 570l3 1 0 3 0 2-1 0-10-2zM820 574l10 2-8 4-10-3zM812 577l10 3-9 4-10-3zM803 581l10 3-8 3-10-2zM795 585l10 2-8 4-10-3zM787 588l10 3-8 3-10-2z"/><path class="p1" d="M779 592l10 2-9 4-10-3zM770 595l10 3-8 4-10-4zM762 598l10 4-8 3-10-3zM754 602l10 3-9 4-9-3zM746 606l9 3-8 4-10-3zM737 610l10 3-8 4-10-3zM729 614l10 3-8 4-10-3zM721 618l10 3-9 5-10-4zM712 622l10 4-8 4-10-3zM704 627l10 3-8 5-10-4zM696 631l10 4-9 4-9-3zM688 636l9 3-8 5-10-3zM679 641l10 3-8 5-10-3z"/><path class="p0" d="M671 646l10 3-8 4-10-2zM663 651l10 2-9 5-10-3zM654 655l10 3-8 4-10-2zM646 660l10 2-8 5-10-3zM638 664l10 3-1 0-5 1-9 1-3 0zM632 670l-5 0 3-1 3 0zM831 576l0 0-1 0zM830 576l1 0-1 2-1 3 0 1-7-2zM822 580l7 2-1 2-5 2-10-2zM813 584l10 2-8 4-10-3zM805 587l10 3-8 3-10-2zM797 591l10 2-9 4-9-3zM789 594l9 3-8 4-10-3z"/><path class="p1" d="M780 598l10 3-8 4-10-3zM772 602l10 3-8 3-10-3zM764 605l10 3-9 4-10-3zM755 609l10 3-8 4-10-3zM747 613l10 3-8 4-10-3zM739 617l10 3-9 4-9-3zM731 621l9 3-8 5-10-3zM722 626l10 3-8 4-10-3zM714 630l10 3-8 5-10-3zM706 635l10 3-9 4-10-3zM697 639l10 3-8 5-10-3z"/><path class="p0" d="M689 644l10 3-8 4-10-2zM681 649l10 2-8 5-10-3zM673 653l10 3-9 4-10-2zM664 658l10 2-5 3-6 1-7-2zM656 662l7 2-1 0-10 2-4 1 0 0zM647 667l1 0 0 0zM828 584l0 1-1 2-4-1zM823 586l4 1-1 1-2 4-1 0-8-2zM815 590l8 2-1 1-5 3-10-3zM807 593l10 3-9 4-10-3zM798 597l10 3-8 4-10-3zM790 601l10 3-8 3-10-2z"/><path class="p1" d="M782 605l10 2-8 4-10-3zM774 608l10 3-9 4-10-3zM765 612l10 3-8 4-10-3zM757 616l10 3-8 4-10-3zM749 620l10 3-9 4-10-3zM740 624l10 3-8 5-10-3zM732 629l10 3-8 4-10-3zM724 633l10 3-8 4-10-2zM716 638l10 2-9 5-10-3z"/><path class="p0" d="M707 642l10 3-8 4-10-2zM699 647l10 2-8 5-10-3zM691 651l10 3-6 3-4 1-8-2zM683 656l8 2-1 0-9 2-3 1-4-1zM672 662l-3 1 5-3 4 1zM822 593l-1 2-1 2-3-1zM817 596l3 1-2 2-3 3-7-2zM808 600l7 2 0 0-4 3-1 1-10-2zM800 604l10 2-8 4-10-3zM792 607l10 3-9 4-9-3zM784 611l9 3-8 4-10-3zM775 615l10 3-8 4-10-3z"/><path class="p1" d="M767 619l10 3-8 4-10-3zM759 623l10 3-9 4-10-3zM750 627l10 3-8 4-10-2z"/><path class="p0" d="M742 632l10 2-8 5-10-3zM734 636l10 3-9 4-9-3zM726 640l9 3-8 4-10-2zM717 645l10 2-2 1-8 3-1 0-7-2zM709 649l7 2-8 2-4 1-3 0zM699 656l-4 1 6-3 3 0zM810 606l-3 3-3 2-2-1zM802 610l2 1-1 1-5 3-5-1zM793 614l5 1 0 0-5 3-2 1-6-1zM785 618l6 1-4 3-3 2-7-2zM777 622l7 2-2 1-6 3-7-2zM769 626l7 2 0 0-7 3-2 1-7-2zM760 630l7 2-4 2-5 2-6-2zM752 634l6 2-2 1-8 3 0 0-4-1zM744 639l4 1-7 3-3 1-3-1zM733 645l-6 2 8-4 3 1z"/>
</g>
<path d="M34.2 154.6L34.2 51.7M34.2 154.6L175.3 184.8M175.3 184.8L261.8 141.7M34.2 144.8h-5M34.2 130.7h-5M34.2 116.6h-5M34.2 102.5h-5M34.2 88.4h-5M34.2 74.3h-5M34.2 60.2h-5M71.4 162.5l-2 3M110.6 170.9l-2 3M149.8 179.3l-2 3M260.8 142.3l3 1.5M240.1 152.6l3 1.5M219.4 162.9l3 1.5M198.7 173.2l3 1.5M178 183.5l3 1.5" stroke="#8a8a8a" fill="none" stroke-width="0.8"/>
<g class="tk"><text x="27.2" y="147.5" text-anchor="end">50</text><text x="27.2" y="133.4" text-anchor="end">100</text><text x="27.2" y="119.3" text-anchor="end">150</text><text x="27.2" y="105.2" text-anchor="end">200</text><text x="27.2" y="91.1" text-anchor="end">250</text><text x="27.2" y="77" text-anchor="end">300</text><text x="27.2" y="62.9" text-anchor="end">350</text><text x="64.1" y="174.5" text-anchor="middle">1</text><text x="101.8" y="182.1" text-anchor="middle">2</text><text x="141.1" y="189.7" text-anchor="middle">3</text><text x="187.5" y="191.8" text-anchor="middle">2</text><text x="207.2" y="181.3" text-anchor="middle">1</text><text x="227" y="170.7" text-anchor="middle">0</text><text x="246" y="159.4" text-anchor="middle">-1</text><text x="267.1" y="149.6" text-anchor="middle">-2</text><text x="120.9" y="198.4" text-anchor="middle" style="font-size:8.8px">Y</text><text x="217.8" y="194.5" text-anchor="middle" style="font-size:8.8px">X</text><text transform="translate(12 104) rotate(-90)" text-anchor="middle" style="font-size:8.8px">Z</text></g>
<text class="lab" x="194.3" y="63.4">(a)</text>
<path d="M333.9 11L333.9 185.5M364.2 11L364.2 185.5M394.5 11L394.5 185.5M424.8 11L424.8 185.5M455.1 11L455.1 185.5M485.4 11L485.4 185.5M515.7 11L515.7 185.5M306 169.4L527.4 169.4M306 145.5L527.4 145.5M306 121.6L527.4 121.6M306 97.7L527.4 97.7M306 73.8L527.4 73.8M306 49.9L527.4 49.9M306 26L527.4 26" stroke="#e8e8e8" stroke-width="0.7" fill="none"/>
<path d="M306 11H527.4V185.5" stroke="#d8d8d8" stroke-width="0.8" fill="none"/>
<g transform="scale(.25)">
<path class="p0" d="M1227 736l15-2 0 4-15 2zM1227 740l15-2 0 3-15 1zM1227 742l15-1 0 2-15 0zM1242 738l15 0 0 3-15 0zM1242 741l15 0 0 2-15 0zM1257 738l15-1 0 4-15 0zM1257 741l15 0 0 2-15 0zM1272 737l16 0 0 4-16 0zM1272 741l16 0 0 2-16 0zM1288 737l15 0 0 4-15 0zM1288 741l15 0 0 2-15 0zM1303 737l15 0 0 4-15 0zM1303 741l15 0 0 2-15 0zM1318 737l16 0 0 4-16 0zM1318 741l16 0 0 2-16 0zM1334 737l15 1 0 3-15 0zM1334 741l15 0 0 2-15 0zM1349 738l15 0 0 3-15 0zM1349 741l15 0 0 2-15 0zM1364 738l16 1 0 3-16-1zM1364 741l16 1 0 1-16 0zM1380 739l15 0 0 3-15 0zM1380 742l15 0 0 1-15 0zM1395 739l15 1 0 2-15 0zM1395 742l15 0 0 1-15 0zM1410 736l16 1 0 3-16 0zM1410 740l16 0 0 2-16 0zM1410 742l16 0 0 1-16 0zM1426 737l15 1 0 3-15-1zM1426 740l15 1 0 2-15-1zM1426 742l15 1 0 1-15-1zM1441 738l15 0 0 3-15 0zM1441 741l15 0 0 2-15 0zM1441 743l15 0 0 1-15 0zM1456 738l15 1 0 3-15-1zM1456 741l15 1 0 1-15 0zM1456 743l15 0 0 1-15 0zM1471 739l16 1 0 2-16 0zM1471 742l16 0 0 1-16 0zM1471 743l16 0 0 1-16 0zM1487 736l15 1 0 3-15 0zM1487 740l15 0 0 2-15 0zM1487 742l15 0 0 1-15 0zM1487 743l15 0 0 1-15 0zM1502 737l15 1 0 3-15-1zM1502 740l15 1 0 2-15-1zM1502 742l15 1 0 0-15 0zM1502 743l15 0 0 1-15 0zM1517 738l16 0 0 3-16 0zM1517 741l16 0 0 2-16 0zM1517 743l16 0 0 1-16-1zM1517 743l16 1 0 0-16 0zM1533 738l15 1 0 3-15-1zM1533 741l15 1 0 1-15 0zM1533 743l15 0 0 1-15 0zM1533 744l15 0 0 0-15 0zM1548 736l15 1 0 3-15-1zM1548 739l15 1 0 2-15 0zM1548 742l15 0 0 1-15 0zM1548 743l15 0 0 1-15 0zM1548 744l15 0 0 1-15-1zM1563 737l16 1 0 3-16-1zM1563 740l16 1 0 2-16-1zM1563 742l16 1 0 0-16 0zM1563 743l16 0 0 1-16 0zM1563 744l16 0 0 1-16 0zM1579 738l15 1 0 2-15 0zM1579 741l15 0 0 2-15 0zM1579 743l15 0 0 1-15-1zM1579 743l15 1 0 0-15 0zM1579 744l15 0 0 1-15 0zM1594 739l15 1 0 2-15-1zM1594 741l15 1 0 1-15 0zM1594 743l15 0 0 1-15 0zM1594 744l15 0 0 0-15 0zM1594 744l15 0 0 1-15 0zM1609 737l16 1 0 3-16-1zM1609 740l16 1 0 1-16 0zM1609 742l16 0 0 1-16 0zM1609 743l16 0 0 1-16 0zM1609 744l16 0 0 1-16-1zM1625 738l15 1 0 2-15 0zM1625 741l15 0 0 2-15-1zM1625 742l15 1 0 1-15-1zM1625 743l15 1 0 0-15 0zM1625 744l15 0 0 1-15 0zM1640 739l15 1 0 2-15-1zM1640 741l15 1 0 1-15 0zM1640 743l15 0 0 1-15 0zM1640 744l15 0 0 0-15 0zM1640 744l15 0 0 1-15 0zM1655 737l15 1 0 3-15-1zM1655 740l15 1 0 1-15 0zM1655 742l15 0 0 1-15 0zM1655 743l15 0 0 1-15 0zM1655 744l15 0 0 0-15 0zM1655 744l15 0 0 1-15 0zM1670 738l16 1 0 2-16 0zM1670 741l16 0 0 2-16-1zM1670 742l16 1 0 1-16-1zM1670 743l16 1 0 0-16 0zM1670 744l16 0 0 1-16-1zM1670 744l16 1 0 0-16 0zM1686 736l15 2 0 2-15-1zM1686 739l15 1 0 2-15-1zM1686 741l15 1 0 1-15 0zM1686 743l15 0 0 1-15 0zM1686 744l15 0 0 0-15 0zM1686 744l15 0 0 1-15 0zM1701 738l15 1 0 2-15-1zM1701 740l15 1 0 2-15-1zM1701 742l15 1 0 0-15 0zM1701 743l15 0 0 1-15 0zM1701 744l15 0 0 1-15-1zM1701 744l15 1 0 0-15 0zM1716 739l16 1 0 2-16-1zM1716 741l16 1 0 1-16 0zM1716 743l16 0 0 1-16-1zM1716 743l16 1 0 0-16 0zM1716 744l16 0 0 1-16 0zM1716 745l16 0 0 0-16 0zM1732 738l15 1 0 2-15-1zM1732 740l15 1 0 1-15 0zM1732 742l15 0 0 1-15 0zM1732 743l15 0 0 1-15 0zM1732 744l15 0 0 0-15 0zM1732 744l15 0 0 1-15 0zM1747 739l15 1 0 2-15-1zM1747 741l15 1 0 1-15-1zM1747 742l15 1 0 1-15-1zM1747 743l15 1 0 0-15 0zM1747 744l15 0 0 1-15-1zM1747 744l15 1 0 0-15 0zM1762 738l16 2 0 1-16-1zM1762 740l16 1 0 1-16 0zM1762 742l16 0 0 1-16 0zM1762 743l16 0 0 1-16 0zM1762 744l16 0 0 0-16 0zM1762 744l16 0 0 1-16 0zM1778 737l15 2 0 2-15-1zM1778 740l15 1 0 1-15-1zM1778 741l15 1 0 1-15-1zM1778 742l15 1 0 1-15-1zM1778 743l15 1 0 0-15 0zM1778 744l15 0 0 1-15-1zM1778 744l15 1 0 0-15 0zM1793 739l15 1 0 2-15-1zM1793 741l15 1 0 1-15-1zM1793 742l15 1 0 0-15 0zM1793 743l15 0 0 1-15 0zM1793 744l15 0 0 0-15 0zM1793 744l15 0 0 1-15 0zM1808 738l16 2 0 1-16-1zM1808 740l16 1 0 1-16 0zM1808 742l16 0 0 1-16 0zM1808 743l16 0 0 1-16-1zM1808 743l16 1 0 0-16 0zM1808 744l16 0 0 0-16 0zM1808 744l16 0 0 1-16 0zM1824 738l15 2 0 1-15-1zM1824 740l15 1 0 1-15-1zM1824 741l15 1 0 1-15-1zM1824 742l15 1 0 0-15 0zM1824 743l15 0 0 1-15 0zM1824 744l15 0 0 0-15 0zM1824 744l15 0 0 1-15-1zM1839 738l15 1 0 2-15-1zM1839 740l15 1 0 1-15-1zM1839 741l15 1 0 1-15-1zM1839 742l15 1 0 0-15 0zM1839 743l15 0 0 1-15-1zM1839 743l15 1 0 0-15 0zM1839 744l15 0 0 0-15 0zM1854 738l16 1 0 1-16-1zM1854 739l16 1 0 1-16 0zM1854 741l16 0 0 1-16 0zM1854 742l16 0 0 1-16 0zM1854 743l16 0 0 0-16 0zM1854 743l16 0 0 1-16 0zM1854 744l16 0 0 0-16 0zM1870 738l15 2 0 1-15-2zM1870 739l15 2 0 0-15-1zM1870 740l15 1 0 1-15-1zM1870 741l15 1 0 1-15-1zM1870 742l15 1 0 0-15 0zM1870 743l15 0 0 1-15-1zM1870 743l15 1 0 0-15 0zM1885 739l15 1 0 1-15-1zM1885 740l15 1 0 0-15 0zM1885 741l15 0 0 1-15-1zM1885 741l15 1 0 1-15-1zM1885 742l15 1 0 0-15 0zM1885 743l15 0 0 1-15-1zM1885 743l15 1 0 0-15 0zM1900 739l15 1 0 1-15-1zM1900 740l15 1 0 0-15 0zM1900 741l15 0 0 1-15-1zM1900 741l15 1 0 1-15-1zM1900 742l15 1 0 0-15 0zM1900 743l15 0 0 0-15 0zM1900 743l15 0 0 1-15 0zM1915 739l16 1 0 1-16-2zM1915 739l16 2 0 0-16-1zM1915 740l16 1 0 0-16-1zM1915 740l16 1 0 1-16-1zM1915 741l16 1 0 0-16-1zM1915 741l16 1 0 1-16-1zM1915 742l16 1 0 0-16 0zM1915 743l16 0 0 0-16 0zM1915 743l16 0 0 1-16-1zM1931 740l15 1 0 0-15-1zM1931 740l15 1 0 1-15-1zM1931 741l15 1 0 0-15-1zM1931 741l15 1 0 0-15-1zM1931 741l15 1 0 0-15 0zM1931 742l15 0 0 1-15-1zM1931 742l15 1 0 0-15 0zM1931 743l15 0 0 0-15 0zM1946 741l15 1 0 0-15-1zM1946 741l15 1 0 0-15 0zM1946 742l15 0 0 0-15 0zM1946 742l15 0 0 1-15-1zM1946 742l15 1 0 0-15-1zM1946 742l15 1 0 0-15 0zM1961 742l16 1 0 0-16-1zM1961 742l16 1 0 0-16-1zM1961 742l16 1 0 0-16-1z"/><path class="p1" d="M1227 730l15-3 0 7-15 2zM1242 727l15-1 0 7-15 1zM1242 734l15-1 0 5-15 0zM1257 733l15-1 0 5-15 1zM1272 732l16 0 0 5-16 0zM1288 732l15 0 0 5-15 0zM1303 732l15 0 0 5-15 0zM1318 732l16 0 0 5-16 0zM1334 732l15 1 0 5-15-1zM1349 726l15 1 0 6-15 0zM1349 733l15 0 0 5-15 0zM1364 727l16 1 0 6-16-1zM1364 733l16 1 0 5-16-1zM1380 728l15 1 0 6-15-1zM1380 734l15 1 0 4-15 0zM1395 729l15 1 0 6-15-1zM1395 735l15 1 0 4-15-1zM1410 730l16 2 0 5-16-1zM1426 732l15 1 0 5-15-1zM1441 726l15 2 0 6-15-1zM1441 733l15 1 0 4-15 0zM1456 728l15 1 0 6-15-1zM1456 734l15 1 0 4-15-1zM1471 729l16 1 0 6-16-1zM1471 735l16 1 0 4-16-1zM1487 730l15 2 0 5-15-1zM1502 732l15 1 0 5-15-1zM1517 727l16 2 0 5-16-1zM1517 733l16 1 0 4-16 0zM1533 729l15 2 0 5-15-2zM1533 734l15 2 0 3-15-1zM1548 731l15 1 0 5-15-1zM1563 732l16 2 0 4-16-1zM1579 729l15 2 0 4-15-1zM1579 734l15 1 0 4-15-1zM1594 731l15 2 0 4-15-2zM1594 735l15 2 0 3-15-1zM1609 733l16 1 0 4-16-1zM1625 729l15 2 0 4-15-1zM1625 734l15 1 0 4-15-1zM1640 731l15 2 0 4-15-2zM1640 735l15 2 0 3-15-1zM1655 728l15 3 0 4-15-2zM1655 733l15 2 0 3-15-1zM1670 731l16 2 0 3-16-1zM1670 735l16 1 0 3-16-1zM1686 728l15 3 0 4-15-2zM1686 733l15 2 0 3-15-2zM1701 731l15 2 0 3-15-1zM1701 735l15 1 0 3-15-1zM1716 729l16 3 0 3-16-2zM1716 733l16 2 0 3-16-2zM1716 736l16 2 0 2-16-1zM1732 732l15 2 0 3-15-2zM1732 735l15 2 0 2-15-1zM1747 730l15 3 0 3-15-2zM1747 734l15 2 0 2-15-1zM1747 737l15 1 0 2-15-1zM1762 730l16 2 0 3-16-2zM1762 733l16 2 0 2-16-1zM1762 736l16 1 0 3-16-2zM1778 732l15 2 0 3-15-2zM1778 735l15 2 0 2-15-2zM1793 732l15 2 0 2-15-2zM1793 734l15 2 0 2-15-1zM1793 737l15 1 0 2-15-1zM1808 732l16 2 0 2-16-2zM1808 734l16 2 0 2-16-2zM1808 736l16 2 0 2-16-2zM1824 732l15 3 0 1-15-2zM1824 734l15 2 0 2-15-2zM1824 736l15 2 0 2-15-2zM1839 732l15 2 0 1-15-2zM1839 733l15 2 0 2-15-2zM1839 735l15 2 0 1-15-2zM1839 736l15 2 0 1-15-1zM1854 732l16 2 0 1-16-2zM1854 733l16 2 0 1-16-2zM1854 734l16 2 0 1-16-2zM1854 735l16 2 0 1-16-1zM1854 737l16 1 0 1-16-1zM1870 734l15 2 0 0-15-2zM1870 734l15 2 0 0-15-2zM1870 734l15 2 0 1-15-2zM1870 735l15 2 0 1-15-2zM1870 736l15 2 0 1-15-2zM1870 737l15 2 0 1-15-2zM1885 736l15 2 0 0-15-2zM1885 736l15 2 0 0-15-2zM1885 736l15 2 0 1-15-2zM1885 737l15 2 0 0-15-1zM1885 738l15 1 0 1-15-1zM1900 738l15 1 0 0-15-1zM1900 738l15 1 0 0-15-1zM1900 738l15 1 0 1-15-1zM1900 739l15 1 0 0-15-1zM1915 739l16 1 0 0-16-1z"/><path class="p2" d="M1227 723l15-3 0 7-15 3zM1242 720l15-2 0 8-15 1zM1257 718l15-2 0 9-15 1zM1257 726l15-1 0 7-15 1zM1272 725l16 0 0 7-16 0zM1288 725l15 0 0 7-15 0zM1303 725l15 0 0 7-15 0zM1318 725l16 0 0 7-16 0zM1334 725l15 1 0 7-15-1zM1349 718l15 1 0 8-15-1zM1364 719l16 1 0 8-16-1zM1380 720l15 2 0 7-15-1zM1395 722l15 1 0 7-15-1zM1410 723l16 2 0 7-16-2zM1426 725l15 1 0 7-15-1zM1441 719l15 2 0 7-15-2zM1456 721l15 1 0 7-15-1zM1471 722l16 2 0 6-16-1zM1487 724l15 2 0 6-15-2zM1502 718l15 2 0 7-15-1zM1502 726l15 1 0 6-15-1zM1517 720l16 3 0 6-16-2zM1533 723l15 2 0 6-15-2zM1548 725l15 2 0 5-15-1zM1563 720l16 3 0 6-16-2zM1563 727l16 2 0 5-16-2zM1579 723l15 2 0 6-15-2zM1594 725l15 2 0 6-15-2zM1609 722l16 2 0 5-16-2zM1609 727l16 2 0 5-16-1zM1625 724l15 2 0 5-15-2zM1640 720l15 3 0 5-15-2zM1640 726l15 2 0 5-15-2zM1655 723l15 3 0 5-15-3zM1670 721l16 3 0 4-16-2zM1670 726l16 2 0 5-16-2zM1686 724l15 3 0 4-15-3zM1701 722l15 3 0 4-15-2zM1701 727l15 2 0 4-15-2zM1716 725l16 3 0 4-16-3zM1732 724l15 3 0 3-15-2zM1732 728l15 2 0 4-15-2zM1747 723l15 3 0 4-15-3zM1747 727l15 3 0 3-15-3zM1762 723l16 3 0 3-16-3zM1762 726l16 3 0 3-16-2zM1778 723l15 4 0 2-15-3zM1778 726l15 3 0 3-15-3zM1778 729l15 3 0 2-15-2zM1793 724l15 4 0 2-15-3zM1793 727l15 3 0 2-15-3zM1793 729l15 3 0 2-15-2zM1808 724l16 4 0 1-16-3zM1808 726l16 3 0 2-16-3zM1808 728l16 3 0 1-16-2zM1808 730l16 2 0 2-16-2zM1824 726l15 3 0 0-15-3zM1824 726l15 3 0 1-15-3zM1824 727l15 3 0 0-15-2zM1824 728l15 2 0 2-15-3zM1824 729l15 3 0 1-15-2zM1824 731l15 2 0 2-15-3zM1839 729l15 3 0 0-15-3zM1839 729l15 3 0 0-15-2zM1839 730l15 2 0 1-15-3zM1839 730l15 3 0 1-15-2zM1854 732l16 2 0 0-16-2zM1854 732l16 2 0 0-16-2z"/><path class="p3" d="M1227 714l15-4 0 10-15 3zM1242 710l15-3 0 11-15 2zM1272 716l16 0 0 9-16 0zM1288 716l15 0 0 9-15 0zM1303 716l15 0 0 9-15 0zM1318 716l16 1 0 8-16 0zM1334 717l15 1 0 8-15-1zM1364 709l16 2 0 9-16-1zM1380 711l15 2 0 9-15-2zM1395 713l15 2 0 8-15-1zM1410 715l16 2 0 8-16-2zM1426 717l15 2 0 7-15-1zM1441 710l15 2 0 9-15-2zM1456 712l15 2 0 8-15-1zM1471 714l16 2 0 8-16-2zM1487 716l15 2 0 8-15-2zM1502 710l15 2 0 8-15-2zM1517 712l16 3 0 8-16-3zM1533 715l15 3 0 7-15-2zM1548 718l15 2 0 7-15-2zM1563 713l16 3 0 7-16-3zM1579 716l15 3 0 6-15-2zM1594 712l15 3 0 7-15-3zM1594 719l15 3 0 5-15-2zM1609 715l16 3 0 6-16-2zM1625 718l15 2 0 6-15-2zM1640 714l15 3 0 6-15-3zM1655 717l15 4 0 5-15-3zM1670 715l16 4 0 5-16-3zM1686 713l15 4 0 5-15-3zM1686 719l15 3 0 5-15-3zM1701 717l15 4 0 4-15-3zM1716 716l16 4 0 4-16-3zM1716 721l16 3 0 4-16-3zM1732 716l15 4 0 3-15-3zM1732 720l15 3 0 4-15-3zM1747 716l15 4 0 3-15-3zM1747 720l15 3 0 3-15-3zM1762 717l16 4 0 2-16-3zM1762 720l16 3 0 3-16-3zM1778 717l15 4 0 1-15-3zM1778 719l15 3 0 2-15-3zM1778 721l15 3 0 3-15-4zM1793 718l15 4 0 1-15-4zM1793 719l15 4 0 0-15-4zM1793 719l15 4 0 1-15-3zM1793 721l15 3 0 2-15-4zM1793 722l15 4 0 2-15-4zM1808 722l16 4 0 0-16-3zM1808 723l16 3 0 1-16-4zM1808 723l16 4 0 1-16-4z"/><path class="p4" d="M1227 704l15-6 0 12-15 4zM1242 698l15-4 0 13-15 3zM1257 707l15-1 0 10-15 2zM1272 706l16-1 0 11-16 0zM1288 705l15 0 0 11-15 0zM1303 705l15 0 0 11-15 0zM1318 705l16 1 0 11-16-1zM1334 706l15 2 0 10-15-1zM1349 708l15 1 0 10-15-1zM1380 699l15 3 0 11-15-2zM1395 702l15 2 0 11-15-2zM1410 704l16 3 0 10-16-2zM1426 707l15 3 0 9-15-2zM1456 701l15 3 0 10-15-2zM1471 704l16 3 0 9-16-2zM1487 707l15 3 0 8-15-2zM1517 703l16 3 0 9-16-3zM1533 706l15 3 0 9-15-3zM1548 709l15 4 0 7-15-2zM1563 704l16 4 0 8-16-3zM1579 708l15 4 0 7-15-3zM1594 704l15 3 0 8-15-3zM1609 707l16 4 0 7-16-3zM1625 703l15 4 0 7-15-3zM1625 711l15 3 0 6-15-2zM1640 707l15 4 0 6-15-3zM1655 704l15 5 0 6-15-4zM1655 711l15 4 0 6-15-4zM1670 709l16 4 0 6-16-4zM1686 708l15 4 0 5-15-4zM1701 707l15 4 0 5-15-4zM1701 712l15 4 0 5-15-4zM1716 707l16 5 0 4-16-5zM1716 711l16 5 0 4-16-4zM1732 708l15 5 0 3-15-4zM1732 712l15 4 0 4-15-4zM1747 710l15 4 0 3-15-4zM1747 713l15 4 0 3-15-4zM1762 710l16 4 0 1-16-4zM1762 711l16 4 0 2-16-5zM1762 712l16 5 0 2-16-5zM1762 714l16 5 0 2-16-4zM1778 714l15 4 0 1-15-5zM1778 714l15 5 0 0-15-4zM1778 715l15 4 0 2-15-4z"/><path class="p5" d="M1227 691l15-7 0 14-15 6zM1257 694l15-1 0 13-15 1zM1272 693l16-1 0 13-16 1zM1288 692l15 0 0 13-15 0zM1303 692l15 0 0 13-15 0zM1318 692l16 1 0 13-16-1zM1334 693l15 2 0 13-15-2zM1349 695l15 2 0 12-15-1zM1364 697l16 2 0 12-16-2zM1395 689l15 3 0 12-15-2zM1410 692l16 3 0 12-16-3zM1426 695l15 3 0 12-15-3zM1441 698l15 3 0 11-15-2zM1471 693l16 3 0 11-16-3zM1487 696l15 3 0 11-15-3zM1502 699l15 4 0 9-15-2zM1517 692l16 4 0 10-16-3zM1533 696l15 4 0 9-15-3zM1548 700l15 4 0 9-15-4zM1563 694l16 5 0 9-16-4zM1579 699l15 5 0 8-15-4zM1594 695l15 4 0 8-15-3zM1609 699l16 4 0 8-16-4zM1625 695l15 5 0 7-15-4zM1640 700l15 4 0 7-15-4zM1655 697l15 5 0 7-15-5zM1670 696l16 6 0 6-16-6zM1670 702l16 6 0 5-16-4zM1686 696l15 6 0 5-15-5zM1686 702l15 5 0 5-15-4zM1701 697l15 6 0 4-15-5zM1701 702l15 5 0 4-15-4zM1716 699l16 6 0 3-16-5zM1716 703l16 5 0 4-16-5zM1732 700l15 5 0 2-15-5zM1732 702l15 5 0 3-15-5zM1732 705l15 5 0 3-15-5zM1747 704l15 5 0 1-15-6zM1747 704l15 6 0 1-15-6zM1747 705l15 6 0 1-15-5zM1747 707l15 5 0 2-15-4zM1762 709l16 5 0 0-16-4z"/><path class="p6" d="M1242 684l15-4 0 14-15 4zM1257 680l15-3 0 16-15 1zM1334 678l15 2 0 15-15-2zM1349 680l15 3 0 14-15-2zM1364 683l16 2 0 14-16-2zM1380 685l15 4 0 13-15-3zM1426 682l15 4 0 12-15-3zM1441 686l15 3 0 12-15-3zM1456 689l15 4 0 11-15-3zM1487 684l15 4 0 11-15-3zM1502 688l15 4 0 11-15-4zM1533 684l15 5 0 11-15-4zM1548 689l15 5 0 10-15-4zM1563 684l16 6 0 9-16-5zM1579 690l15 5 0 9-15-5zM1594 685l15 6 0 8-15-4zM1609 691l16 4 0 8-16-4zM1625 687l15 5 0 8-15-5zM1640 692l15 5 0 7-15-4zM1655 690l15 6 0 6-15-5zM1670 690l16 6 0 6-16-6zM1686 691l15 6 0 5-15-6zM1701 690l15 6 0 3-15-6zM1701 693l15 6 0 4-15-6zM1716 692l16 7 0 1-16-6zM1716 694l16 6 0 2-16-6zM1716 696l16 6 0 3-16-6zM1732 698l15 6 0 0-15-5zM1732 699l15 5 0 1-15-5z"/><path class="p7" d="M1227 677l15-9 0 16-15 7zM1272 677l16-1 0 16-16 1zM1288 676l15 0 0 16-15 0zM1303 676l15 1 0 15-15 0zM1318 677l16 1 0 15-16-1zM1380 670l15 4 0 15-15-4zM1395 674l15 4 0 14-15-3zM1410 678l16 4 0 13-16-3zM1441 671l15 5 0 13-15-3zM1456 676l15 4 0 13-15-4zM1471 680l16 4 0 12-16-3zM1502 675l15 5 0 12-15-4zM1517 680l16 4 0 12-16-4zM1533 672l15 6 0 11-15-5zM1548 678l15 6 0 10-15-5zM1579 679l15 6 0 10-15-5zM1594 676l15 6 0 9-15-6zM1609 682l16 5 0 8-16-4zM1625 679l15 5 0 8-15-5zM1640 677l15 7 0 6-15-6zM1640 684l15 6 0 7-15-5zM1655 684l15 6 0 6-15-6zM1670 680l16 7 0 4-16-7zM1670 684l16 7 0 5-16-6zM1686 683l15 7 0 3-15-6zM1686 687l15 6 0 4-15-6zM1701 685l15 7 0 0-15-6zM1701 686l15 6 0 2-15-7zM1701 687l15 7 0 2-15-6zM1716 692l16 6 0 1-16-7z"/><path class="p8" d="M1227 661l15-12 0 19-15 9zM1242 668l15-5 0 17-15 4zM1257 663l15-3 0 17-15 3zM1272 660l16-1 0 17-16 1zM1288 659l15 0 0 17-15 0zM1303 659l15 1 0 17-15-1zM1318 660l16 1 0 17-16-1zM1334 661l15 3 0 16-15-2zM1349 664l15 3 0 16-15-3zM1364 667l16 3 0 15-16-2zM1410 662l16 5 0 15-16-4zM1426 667l15 4 0 15-15-4zM1456 661l15 5 0 14-15-4zM1471 666l16 4 0 14-16-4zM1487 670l15 5 0 13-15-4zM1517 667l16 5 0 12-16-4zM1548 666l15 7 0 11-15-6zM1563 673l16 6 0 11-16-6zM1579 669l15 7 0 9-15-6zM1594 667l15 6 0 9-15-6zM1609 673l16 6 0 8-16-5zM1625 671l15 6 0 7-15-5zM1640 671l15 6 0 7-15-7zM1655 672l15 8 0 4-15-7zM1655 677l15 7 0 6-15-6zM1670 673l16 7 0 3-16-7zM1670 676l16 7 0 4-16-7zM1686 678l15 7 0 1-15-8zM1686 678l15 8 0 1-15-7zM1686 680l15 7 0 3-15-7z"/><path class="p9" d="M1242 649l15-8 0 22-15 5zM1364 646l16 6 0 18-16-3zM1380 652l15 5 0 17-15-4zM1395 657l15 5 0 16-15-4zM1426 648l15 7 0 16-15-4zM1441 655l15 6 0 15-15-5zM1487 655l15 6 0 14-15-5zM1502 661l15 6 0 13-15-5zM1517 653l16 7 0 12-16-5zM1533 660l15 6 0 12-15-6zM1548 654l15 8 0 11-15-7zM1563 662l16 7 0 10-16-6zM1579 659l15 8 0 9-15-7zM1594 657l15 8 0 8-15-6zM1609 665l16 6 0 8-16-6zM1625 664l15 7 0 6-15-6zM1640 665l15 7 0 5-15-6zM1655 664l15 9 0 3-15-8zM1655 668l15 8 0 4-15-8zM1670 670l16 8 0 0-16-7zM1670 671l16 7 0 2-16-7z"/><path class="p10" d="M1227 640l15-16 0 25-15 12zM1257 641l15-4 0 23-15 3zM1272 637l16-2 0 24-16 1zM1288 635l15 0 0 24-15 0zM1303 635l15 1 0 24-15-1zM1318 636l16 3 0 22-16-1zM1334 639l15 3 0 22-15-3zM1349 642l15 4 0 21-15-3zM1410 641l16 7 0 19-16-5zM1456 642l15 7 0 17-15-5zM1471 649l16 6 0 15-16-4zM1502 645l15 8 0 14-15-6zM1533 645l15 9 0 12-15-6zM1563 650l16 9 0 10-16-7zM1579 648l15 9 0 10-15-8zM1594 648l15 9 0 8-15-8zM1609 657l16 7 0 7-16-6zM1625 652l15 8 0 5-15-8zM1625 657l15 8 0 6-15-7zM1640 656l15 8 0 4-15-8zM1640 660l15 8 0 4-15-7zM1655 662l15 8 0 1-15-9zM1655 662l15 9 0 2-15-9z"/><path class="p11" d="M1242 624l15-9 0 26-15 8zM1380 628l15 6 0 23-15-5zM1395 634l15 7 0 21-15-5zM1426 626l15 8 0 21-15-7zM1441 634l15 8 0 19-15-6zM1471 629l16 8 0 18-16-6zM1487 637l15 8 0 16-15-6zM1517 635l16 10 0 15-16-7zM1548 639l15 11 0 12-15-8zM1563 636l16 12 0 11-16-9zM1579 636l15 12 0 9-15-9zM1594 638l15 11 0 8-15-9zM1609 642l16 10 0 5-16-8zM1609 649l16 8 0 7-16-7zM1625 647l15 9 0 4-15-8zM1640 653l15 9 0 0-15-9zM1640 653l15 9 0 2-15-8z"/><path class="p12" d="M1227 616l15-16 0 24-15 16zM1257 615l15-4 0 26-15 4zM1334 613l15 4 0 25-15-3zM1349 617l15 4 0 25-15-4zM1364 621l16 7 0 24-16-6zM1410 618l16 8 0 22-16-7zM1456 621l15 8 0 20-15-7zM1502 626l15 9 0 18-15-8zM1533 629l15 10 0 15-15-9zM1548 625l15 11 0 14-15-11zM1594 631l15 11 0 7-15-11zM1609 637l16 10 0 5-16-10zM1625 643l15 10 0 0-15-9zM1625 644l15 9 0 3-15-9z"/><path class="p13" d="M1272 611l16-2 0 26-16 2zM1288 609l15 0 0 26-15 0zM1303 609l15 1 0 26-15-1zM1318 610l16 3 0 26-16-3zM1395 610l15 8 0 23-15-7zM1441 613l15 8 0 21-15-8zM1471 610l16 8 0 19-16-8zM1487 618l15 8 0 19-15-8zM1517 619l16 10 0 16-16-10zM1533 614l15 11 0 14-15-10zM1563 624l16 12 0 12-16-12zM1579 626l15 12 0 10-15-12zM1594 625l15 12 0 5-15-11zM1609 632l16 11 0 1-16-11zM1609 633l16 11 0 3-16-10z"/><path class="p14" d="M1242 600l15-11 0 26-15 9zM1364 596l16 7 0 25-16-7zM1380 603l15 7 0 24-15-6zM1426 604l15 9 0 21-15-8zM1456 601l15 9 0 19-15-8zM1502 609l15 10 0 16-15-9zM1517 603l16 11 0 15-16-10zM1548 612l15 12 0 12-15-11zM1563 614l16 12 0 10-16-12zM1579 613l15 12 0 6-15-13zM1579 618l15 13 0 7-15-12zM1594 621l15 11 0 1-15-11zM1594 622l15 11 0 4-15-12z"/><path class="p15" d="M1227 593l15-22 0 29-15 16zM1257 589l15-6 0 28-15 4zM1272 583l16-3 0 29-16 2zM1288 580l15 0 0 29-15 0zM1303 580l15 2 0 28-15-1zM1318 582l16 4 0 27-16-3zM1334 586l15 5 0 26-15-4zM1349 591l15 5 0 25-15-4zM1395 586l15 9 0 23-15-8zM1410 595l16 9 0 22-16-8zM1441 592l15 9 0 20-15-8zM1471 590l16 10 0 18-16-8zM1487 600l15 9 0 17-15-8zM1502 593l15 10 0 16-15-10zM1533 601l15 11 0 13-15-11zM1548 601l15 13 0 10-15-12zM1563 605l16 13 0 8-16-12zM1579 608l15 13 0 1-15-13zM1579 609l15 13 0 3-15-12z"/><path class="p16" d="M1242 571l15-16 0 34-15 11zM1380 576l15 10 0 24-15-7zM1426 580l15 12 0 21-15-9zM1456 580l15 10 0 20-15-9zM1487 582l15 11 0 16-15-9zM1517 589l16 12 0 13-16-11zM1533 589l15 12 0 11-15-11zM1548 592l15 13 0 9-15-13zM1563 595l16 14 0 4-16-14zM1563 599l16 14 0 5-16-13z"/><path class="p17" d="M1227 565l15-32 0 38-15 22zM1257 555l15-9 0 37-15 6zM1349 558l15 8 0 30-15-5zM1364 566l16 10 0 27-16-7zM1410 568l16 12 0 24-16-9zM1441 567l15 13 0 21-15-9zM1471 569l16 13 0 18-16-10zM1502 576l15 13 0 14-15-10zM1517 575l16 14 0 12-16-12zM1533 578l15 14 0 9-15-12zM1548 585l15 14 0 6-15-13zM1563 594l16 14 0 1-16-14z"/><path class="p18" d="M1272 546l16-4 0 38-16 3zM1288 542l15 0 0 38-15 0zM1303 542l15 3 0 37-15-2zM1318 545l16 5 0 36-16-4zM1334 550l15 8 0 33-15-5zM1395 555l15 13 0 27-15-9zM1426 552l15 15 0 25-15-12zM1456 556l15 13 0 21-15-10zM1487 562l15 14 0 17-15-11zM1548 578l15 16 0 1-15-15zM1548 580l15 15 0 4-15-14z"/><path class="p19" d="M1242 533l15-23 0 45-15 16zM1380 541l15 14 0 31-15-10zM1410 535l16 17 0 28-16-12zM1471 546l16 16 0 20-16-13zM1502 559l15 16 0 14-15-13zM1517 561l16 17 0 11-16-14zM1533 563l15 17 0 5-15-16zM1533 569l15 16 0 7-15-14z"/><path class="p20" d="M1227 530l15-45 0 48-15 32zM1349 514l15 13 0 39-15-8zM1364 527l16 14 0 35-16-10zM1441 539l15 17 0 24-15-13zM1487 542l15 17 0 17-15-14zM1502 543l15 18 0 14-15-16zM1517 551l16 18 0 9-16-17zM1533 561l15 17 0 2-15-17z"/><path class="p21" d="M1257 510l15-14 0 50-15 9zM1334 503l15 11 0 44-15-8zM1395 516l15 19 0 33-15-13zM1426 518l15 21 0 28-15-15zM1456 529l15 17 0 23-15-13zM1517 544l16 19 0 6-16-18z"/><path class="p22" d="M1272 496l16-6 0 52-16 4zM1288 490l15 1 0 51-15 0zM1303 491l15 4 0 50-15-3zM1318 495l16 8 0 47-16-5zM1380 496l15 20 0 39-15-14zM1441 506l15 23 0 27-15-17zM1471 523l16 19 0 20-16-16zM1487 523l15 20 0 16-15-17zM1502 530l15 21 0 10-15-18zM1517 541l16 20 0 2-16-19z"/><path class="p23" d="M1227 489l15-62 0 58-15 45zM1242 485l15-34 0 59-15 23zM1364 475l16 21 0 45-16-14zM1410 494l16 24 0 34-16-17zM1456 501l15 22 0 23-15-17zM1502 522l15 22 0 7-15-21z"/><path class="p24" d="M1395 468l15 26 0 41-15-19zM1426 480l15 26 0 33-15-21zM1471 500l16 23 0 19-16-19zM1487 507l15 23 0 13-15-20zM1502 519l15 22 0 3-15-22z"/><path class="p25" d="M1257 451l15-19 0 64-15 14zM1349 456l15 19 0 52-15-13zM1441 473l15 28 0 28-15-23zM1487 497l15 25 0 8-15-23z"/><path class="p26" d="M1272 432l16-8 0 66-16 6zM1318 430l16 11 0 62-16-8zM1334 441l15 15 0 58-15-11zM1380 441l15 27 0 48-15-20zM1410 448l16 32 0 38-16-24zM1456 474l15 26 0 23-15-22zM1471 482l16 25 0 16-16-23zM1487 494l15 25 0 3-15-25z"/><path class="p27" d="M1227 440l15-69 0 56-15 62zM1242 427l15-39 0 63-15 34zM1288 424l15 0 0 67-15-1zM1303 424l15 6 0 65-15-4zM1471 469l16 28 0 10-16-25z"/><path class="p28" d="M1364 415l16 26 0 55-16-21zM1426 439l15 34 0 33-15-26zM1441 441l15 33 0 27-15-28zM1456 452l15 30 0 18-15-26z"/><path class="p29" d="M1395 416l15 32 0 46-15-26zM1471 465l16 29 0 3-16-28z"/><path class="p30" d="M1257 388l15-22 0 66-15 19zM1349 393l15 22 0 60-15-19zM1410 404l16 35 0 41-16-32zM1456 438l15 31 0 13-15-30z"/><path class="p31" d="M1227 397l15-78 0 52-15 69zM1334 376l15 17 0 63-15-15zM1380 387l15 29 0 52-15-27zM1426 405l15 36 0 32-15-34zM1441 417l15 35 0 22-15-33zM1456 433l15 32 0 4-15-31z"/><path class="p32" d="M1242 371l15-45 0 62-15 39zM1272 366l16-9 0 67-16 8zM1318 364l16 12 0 65-16-11z"/><path class="p33" d="M1288 357l15 0 0 67-15 0zM1303 357l15 7 0 66-15-6zM1364 358l16 29 0 54-16-26zM1395 370l15 34 0 44-15-32zM1441 402l15 36 0 14-15-35z"/><path class="p34" d="M1410 368l16 37 0 34-16-35zM1426 380l15 37 0 24-15-36z"/><path class="p35" d="M1227 360l15-88 0 47-15 78zM1349 333l15 25 0 57-15-22zM1441 397l15 36 0 5-15-36z"/><path class="p36" d="M1257 326l15-27 0 67-15 22zM1380 337l15 33 0 46-15-29zM1426 363l15 39 0 15-15-37z"/><path class="p37" d="M1242 319l15-54 0 61-15 45zM1334 312l15 21 0 60-15-17zM1395 330l15 38 0 36-15-34zM1410 340l16 40 0 25-16-37z"/><path class="p38" d="M1227 330l15-97 0 39-15 88zM1272 299l16-11 0 69-16 9zM1288 288l15 0 0 69-15 0zM1303 288l15 9 0 67-15-7zM1318 297l16 15 0 64-16-12zM1364 303l16 34 0 50-16-29zM1426 358l15 39 0 5-15-39z"/><path class="p40" d="M1349 273l15 30 0 55-15-25zM1380 292l15 38 0 40-15-33zM1410 322l16 41 0 17-16-40z"/><path class="p41" d="M1227 312l15-104 0 25-15 97zM1257 265l15-32 0 66-15 27zM1395 298l15 42 0 28-15-38zM1410 315l16 43 0 5-16-41z"/><path class="p42" d="M1227 305l15-106 0 9-15 104zM1242 272l15-63 0 56-15 54zM1334 248l15 25 0 60-15-21z"/><path class="p43" d="M1272 233l16-14 0 69-16 11zM1318 230l16 18 0 64-16-15zM1364 253l16 39 0 45-16-34zM1395 277l15 45 0 18-15-42z"/><path class="p44" d="M1288 219l15 0 0 69-15 0zM1303 219l15 11 0 67-15-9zM1380 256l15 42 0 32-15-38z"/><path class="p45" d="M1349 218l15 35 0 50-15-30zM1395 270l15 45 0 7-15-45z"/><path class="p46" d="M1242 233l15-69 0 45-15 63zM1257 209l15-36 0 60-15 32z"/><path class="p47" d="M1364 212l16 44 0 36-16-39zM1380 232l15 45 0 21-15-42z"/><path class="p48" d="M1334 190l15 28 0 55-15-25z"/><path class="p49" d="M1242 208l15-75 0 31-15 69zM1272 173l16-16 0 62-16 14zM1318 169l16 21 0 58-16-18zM1380 224l15 46 0 7-15-45z"/><path class="p50" d="M1288 157l15 0 0 62-15 0zM1303 157l15 12 0 61-15-11zM1349 175l15 37 0 41-15-35zM1364 187l16 45 0 24-16-44z"/><path class="p51" d="M1242 199l15-78 0 12-15 75zM1257 164l15-44 0 53-15 36z"/><path class="p52" d="M1334 143l15 32 0 43-15-28z"/><path class="p53" d="M1349 145l15 42 0 25-15-37zM1364 178l16 46 0 8-16-45z"/><path class="p54" d="M1257 133l15-48 0 35-15 44zM1272 120l16-19 0 56-16 16zM1318 115l16 28 0 47-16-21z"/><path class="p55" d="M1288 101l15 0 0 56-15 0zM1303 101l15 14 0 54-15-12z"/><path class="p56" d="M1334 108l15 37 0 30-15-32zM1349 134l15 44 0 9-15-42z"/><path class="p57" d="M1257 121l15-49 0 13-15 48z"/><path class="p58" d="M1272 85l16-20 0 36-16 19zM1318 80l16 28 0 35-16-28z"/><path class="p59" d="M1288 65l15 0 0 36-15 0zM1303 65l15 15 0 35-15-14zM1334 96l15 38 0 11-15-37z"/><path class="p61" d="M1272 72l16-21 0 14-16 20zM1318 68l16 28 0 12-16-28z"/><path class="p62" d="M1288 51l15 0 0 14-15 0zM1303 51l15 17 0 12-15-15z"/>
<path d="M1227 305l0 7 0 18 0 30 0 37 0 43 0 49 0 41 0 35 0 28 0 23 0 24 0 21 0 16 0 14 0 13 0 10 0 9 0 7 0 6 0 4 0 2 0 1M1242 199l0 9 0 25 0 39 0 47 0 52 0 56 0 58 0 48 0 38 0 29 0 24 0 25 0 19 0 16 0 14 0 12 0 10 0 7 0 7 0 4 0 3 0 2M1257 121l0 12 0 31 0 45 0 56 0 61 0 62 0 63 0 59 0 45 0 34 0 26 0 26 0 22 0 17 0 14 0 13 0 11 0 8 0 7 0 5 0 3 0 2M1272 72l0 13 0 35 0 53 0 60 0 66 0 67 0 66 0 64 0 50 0 37 0 28 0 26 0 23 0 17 0 16 0 13 0 10 0 9 0 7 0 5 0 4 0 2M1288 51l0 14 0 36 0 56 0 62 0 69 0 69 0 67 0 66 0 52 0 38 0 29 0 26 0 24 0 17 0 16 0 13 0 11 0 9 0 7 0 5 0 4 0 2M1303 51l0 14 0 36 0 56 0 62 0 69 0 69 0 67 0 67 0 51 0 38 0 29 0 26 0 24 0 17 0 16 0 13 0 11 0 9 0 7 0 5 0 4 0 2M1318 68l0 12 0 35 0 54 0 61 0 67 0 67 0 66 0 65 0 50 0 37 0 28 0 26 0 24 0 17 0 15 0 13 0 11 0 9 0 7 0 5 0 4 0 2M1334 96l0 12 0 35 0 47 0 58 0 64 0 64 0 65 0 62 0 47 0 36 0 27 0 26 0 22 0 17 0 15 0 13 0 11 0 8 0 7 0 5 0 4 0 2M1349 134l0 11 0 30 0 43 0 55 0 60 0 60 0 63 0 58 0 44 0 33 0 26 0 25 0 22 0 16 0 15 0 13 0 10 0 8 0 7 0 5 0 3 0 2M1364 178l0 9 0 25 0 41 0 50 0 55 0 57 0 60 0 52 0 39 0 30 0 25 0 25 0 21 0 16 0 14 0 12 0 10 0 8 0 6 0 5 0 3 0 2M1380 224l0 8 0 24 0 36 0 45 0 50 0 54 0 55 0 45 0 35 0 27 0 25 0 24 0 18 0 15 0 14 0 12 0 9 0 8 0 6 0 5 0 3 0 1M1395 270l0 7 0 21 0 32 0 40 0 46 0 52 0 48 0 39 0 31 0 24 0 24 0 23 0 17 0 15 0 13 0 11 0 9 0 7 0 6 0 4 0 3 0 1M1410 315l0 7 0 18 0 28 0 36 0 44 0 46 0 41 0 33 0 27 0 23 0 23 0 21 0 16 0 14 0 12 0 11 0 8 0 7 0 6 0 4 0 2 0 1M1426 358l0 5 0 17 0 25 0 34 0 41 0 38 0 34 0 28 0 24 0 22 0 22 0 19 0 15 0 13 0 12 0 10 0 8 0 7 0 5 0 3 0 2 0 1M1441 397l0 5 0 15 0 24 0 32 0 33 0 33 0 28 0 25 0 21 0 21 0 21 0 16 0 15 0 12 0 12 0 9 0 7 0 7 0 5 0 3 0 2 0 1M1456 433l0 5 0 14 0 22 0 27 0 28 0 27 0 24 0 21 0 20 0 21 0 19 0 15 0 13 0 12 0 11 0 9 0 7 0 6 0 4 0 3 0 2 0 1M1471 465l0 4 0 13 0 18 0 23 0 23 0 23 0 21 0 20 0 19 0 20 0 17 0 14 0 13 0 11 0 10 0 8 0 7 0 6 0 4 0 3 0 1 0 1M1487 494l0 3 0 10 0 16 0 19 0 20 0 20 0 18 0 18 0 19 0 18 0 15 0 14 0 12 0 11 0 9 0 8 0 6 0 6 0 4 0 2 0 1 0 1M1502 519l0 3 0 8 0 13 0 16 0 17 0 17 0 16 0 17 0 19 0 16 0 14 0 13 0 11 0 11 0 8 0 8 0 6 0 5 0 3 0 2 0 1 0 1M1517 541l0 3 0 7 0 10 0 14 0 14 0 14 0 16 0 16 0 18 0 14 0 13 0 12 0 11 0 9 0 8 0 7 0 6 0 5 0 3 0 2 0 0 0 1M1533 561l0 2 0 6 0 9 0 11 0 12 0 13 0 15 0 16 0 15 0 12 0 12 0 12 0 10 0 9 0 8 0 6 0 5 0 4 0 3 0 2 0 1 0 0M1548 578l0 2 0 5 0 7 0 9 0 11 0 13 0 14 0 15 0 12 0 12 0 11 0 11 0 9 0 9 0 7 0 6 0 5 0 3 0 3 0 1 0 1 0 0M1563 594l0 1 0 4 0 6 0 9 0 10 0 12 0 14 0 12 0 11 0 11 0 10 0 10 0 9 0 7 0 7 0 5 0 5 0 3 0 2 0 1 0 1 0 1M1579 608l0 1 0 4 0 5 0 8 0 10 0 12 0 11 0 10 0 10 0 11 0 9 0 9 0 8 0 7 0 6 0 5 0 4 0 3 0 2 0 0 0 1 0 1M1594 621l0 1 0 3 0 6 0 7 0 10 0 9 0 10 0 9 0 9 0 10 0 9 0 8 0 7 0 6 0 6 0 4 0 4 0 2 0 2 0 1 0 0 0 1M1609 632l0 1 0 4 0 5 0 7 0 8 0 8 0 8 0 9 0 9 0 8 0 8 0 8 0 7 0 5 0 6 0 4 0 3 0 2 0 1 0 1 0 0 0 1M1625 643l0 1 0 3 0 5 0 5 0 7 0 7 0 8 0 8 0 8 0 8 0 8 0 7 0 6 0 5 0 5 0 4 0 3 0 1 0 1 0 1 0 1M1640 653l0 0 0 3 0 4 0 5 0 6 0 6 0 7 0 8 0 8 0 7 0 7 0 6 0 6 0 5 0 4 0 4 0 2 0 2 0 1 0 0 0 1M1655 662l0 0 0 2 0 4 0 4 0 5 0 7 0 6 0 7 0 7 0 7 0 6 0 6 0 5 0 5 0 4 0 3 0 2 0 1 0 1 0 0 0 1M1670 670l0 1 0 2 0 3 0 4 0 4 0 6 0 6 0 6 0 7 0 6 0 6 0 5 0 5 0 4 0 3 0 3 0 1 0 1 0 1 0 0 0 1M1686 678l0 0 0 2 0 3 0 4 0 4 0 5 0 6 0 6 0 5 0 6 0 5 0 4 0 5 0 3 0 3 0 2 0 2 0 1 0 0 0 1 0 0M1701 685l0 1 0 1 0 3 0 3 0 4 0 5 0 5 0 5 0 5 0 5 0 5 0 4 0 4 0 3 0 2 0 2 0 1 0 1 0 0 0 1M1716 692l0 0 0 2 0 2 0 3 0 4 0 4 0 4 0 5 0 5 0 4 0 4 0 4 0 3 0 3 0 2 0 2 0 0 0 1 0 1 0 0M1732 698l0 1 0 1 0 2 0 3 0 3 0 4 0 4 0 4 0 4 0 4 0 4 0 3 0 3 0 2 0 2 0 1 0 1 0 0 0 1 0 0M1747 704l0 0 0 1 0 2 0 3 0 3 0 3 0 4 0 3 0 4 0 3 0 4 0 3 0 2 0 2 0 1 0 1 0 1 0 0 0 1M1762 709l0 1 0 1 0 1 0 2 0 3 0 3 0 3 0 3 0 4 0 3 0 3 0 2 0 2 0 2 0 1 0 1 0 0 0 1 0 0M1778 714l0 0 0 1 0 2 0 2 0 2 0 2 0 3 0 3 0 3 0 3 0 2 0 3 0 1 0 1 0 1 0 1 0 0 0 1M1793 718l0 1 0 0 0 2 0 1 0 2 0 3 0 2 0 3 0 2 0 3 0 2 0 2 0 1 0 1 0 1 0 0 0 1 0 0M1808 722l0 1 0 0 0 1 0 2 0 2 0 2 0 2 0 2 0 2 0 2 0 2 0 2 0 1 0 0 0 1 0 0 0 1M1824 726l0 0 0 1 0 1 0 1 0 2 0 1 0 2 0 2 0 2 0 2 0 1 0 1 0 1 0 1 0 0 0 0 0 1M1839 729l0 0 0 1 0 0 0 2 0 1 0 2 0 1 0 2 0 2 0 1 0 1 0 1 0 0 0 1 0 0 0 1M1854 732l0 0 0 0 0 1 0 1 0 1 0 2 0 1 0 1 0 2 0 1 0 1 0 0 0 1 0 0 0 0M1870 734l0 0 0 0 0 1 0 1 0 1 0 1 0 1 0 1 0 1 0 1 0 1 0 0 0 1 0 0M1885 736l0 0 0 0 0 1 0 1 0 1 0 1 0 1 0 0 0 1 0 1 0 0 0 1 0 0M1900 738l0 0 0 0 0 1 0 0 0 1 0 1 0 0 0 1 0 1 0 0 0 1 0 0M1915 739l0 0 0 0 0 1 0 0 0 1 0 0 0 1 0 1 0 0 0 0 0 1M1931 740l0 0 0 1 0 0 0 0 0 1 0 0 0 1 0 0 0 0 0 1M1946 741l0 0 0 1 0 0 0 0 0 0 0 1 0 0 0 0M1961 742l0 0 0 0 0 0 0 1 0 0 0 0M1977 743l0 0 0 0 0 0" stroke="#000" stroke-width="2.6" stroke-opacity="0.5" fill="none"/>
<path d="M1517 541l16 20 15 17 15 16 16 14 15 13 15 11 16 11 15 10 15 9 15 8 16 8 15 7 15 7 16 6 15 6 15 5 16 5 15 4 15 4 16 4 15 3 15 3 16 2 15 2 15 2 15 1 16 1 15 1 15 1 16 1M1640 653l15 9 15 9 16 7 15 8 15 6 16 7 15 5 15 6 16 4 15 5 15 4 16 3 15 3 15 3 16 2 15 2 15 2 15 1 16 1 15 1 15 1 16 1M1701 687l15 7 16 6 15 5 15 6 16 4 15 4 15 4 16 4 15 3 15 2 16 2 15 2 15 2 15 1 16 2 15 1 15 0 16 1M1747 707l15 5 16 5 15 4 15 3 16 4 15 2 15 3 16 2 15 2 15 2 15 1 16 1 15 1 15 0 16 1M1778 719l15 3 15 4 16 3 15 3 15 2 16 2 15 2 15 1 15 1 16 1 15 1 15 1M1793 724l15 4 16 3 15 2 15 2 16 2 15 2 15 1 15 1 16 1 15 0 15 1M1793 727l15 3 16 2 15 3 15 2 16 1 15 2 15 1 15 0 16 1 15 1 15 0M1808 732l16 2 15 2 15 2 16 1 15 2 15 0 15 1 16 1 15 0M1793 732l15 2 16 2 15 2 15 1 16 1 15 1 15 1 15 1 16 0 15 0M1793 734l15 2 16 2 15 2 15 1 16 0 15 1 15 1 15 0 16 0M1778 735l15 2 15 1 16 2 15 1 15 1 16 0 15 1 15 0 15 0 16 1M1778 737l15 2 15 1 16 1 15 1 15 1 16 0 15 0 15 1 15 0M1747 737l15 1 16 2 15 1 15 1 16 0 15 1 15 0 16 0 15 1 15 0M1732 738l15 1 15 1 16 1 15 1 15 1 16 0 15 0 15 1 16 0 15 0M1701 738l15 1 16 1 15 1 15 1 16 0 15 1 15 0 16 1 15 0 15 0 16 0M1670 738l16 1 15 1 15 1 16 1 15 0 15 1 16 0 15 1 15 0 16 0 15 0 15 0M1640 739l15 1 15 1 16 0 15 1 15 1 16 0 15 0 15 1 16 0 15 0 15 0 16 0 15 1M1594 739l15 1 16 1 15 0 15 1 15 0 16 1 15 0 15 0 16 1 15 0 15 0 16 0 15 1 15 0 16 0M1548 739l15 1 16 1 15 0 15 1 16 0 15 1 15 0 15 0 16 1 15 0 15 0 16 0 15 0 15 1 16 0 15 0M1487 740l15 0 15 1 16 0 15 1 15 0 16 1 15 0 15 0 16 0 15 1 15 0 15 0 16 0 15 0 15 1 16 0 15 0 15 0M1410 740l16 0 15 1 15 0 15 1 16 0 15 0 15 1 16 0 15 0 15 0 16 0 15 1 15 0 16 0 15 0 15 0 15 0 16 1 15 0 15 0 16 0M1227 742l15-1 15 0 15 0 16 0 15 0 15 0 16 0 15 0 15 0 16 1 15 0 15 0 16 0 15 1 15 0 15 0 16 0 15 0 15 0 16 1 15 0 15 0 16 0 15 0 15 0 16 1 15 0 15 0 15 0 16 0M1227 743l15 0 15 0 15 0 16 0 15 0 15 0 16 0 15 0 15 0 16 0 15 0 15 0 16 0 15 1 15 0 15 0 16 0 15 0 15 0 16 0 15 0 15 1 16 0 15 0 15 0" stroke="#000" stroke-width="2.3" stroke-opacity="0.8" fill="none"/>
<path d="M1456 433l15 32 16 29 15 25 15 22M1548 580l15 15 16 14 15 13 15 11 16 11 15 9M1625 647l15 9 15 8 15 9 16 7 15 7M1640 660l15 8 15 8 16 7 15 7 15 6 16 6 15 5M1670 680l16 7 15 6 15 6 16 6 15 5 15 4 16 5M1701 697l15 6 16 5 15 5 15 4 16 4 15 3M1701 702l15 5 16 5 15 4 15 4 16 3 15 4M1716 711l16 5 15 4 15 3 16 3 15 3 15 3M1701 712l15 4 16 4 15 3 15 3 16 3 15 3M1701 717l15 4 16 3 15 3 15 3 16 2 15 2M1701 722l15 3 16 3 15 2 15 3 16 2M1686 724l15 3 15 2 16 3 15 2 15 2 16 1M1670 726l16 2 15 3 15 2 16 2 15 2M1655 728l15 3 16 2 15 2 15 1 16 2M1625 729l15 2 15 2 15 2 16 1 15 2M1594 731l15 2 16 1 15 1 15 2 15 1M1548 731l15 1 16 2 15 1 15 2 16 1 15 1M1502 732l15 1 16 1 15 2 15 1 16 1 15 1M1441 733l15 1 15 1 16 1 15 1 15 1 16 0 15 1M1227 736l15-2M1364 733l16 1 15 1 15 1 16 1 15 1 15 0 15 1 16 1M1227 740l15-2 15 0 15-1 16 0 15 0 15 0 16 0 15 1 15 0 16 1 15 0 15 1" stroke="#000" stroke-width="2.3" stroke-opacity="0.35" fill="none"/>
<path d="M1227 305l15-106M1364 178l16 46 15 46 15 45 16 43 15 39 15 36M1502 522l15 22 16 19 15 17M1533 569l15 16 15 14 16 14 15 12 15 12 16 10M1548 592l15 13 16 13 15 13 15 11 16 10 15 8M1594 638l15 11 16 8 15 8 15 7 15 8M1609 657l16 7 15 7 15 6 15 7 16 7 15 6M1609 665l16 6 15 6 15 7 15 6 16 6 15 6M1609 673l16 6 15 5 15 6 15 6 16 6 15 5 15 4M1609 682l16 5 15 5 15 5 15 5 16 6 15 4M1609 691l16 4 15 5 15 4 15 5 16 4 15 4M1594 695l15 4 16 4 15 4 15 4 15 4 16 4 15 3M1579 699l15 5 15 3 16 4 15 3 15 3 15 4 16 3M1563 704l16 4 15 4 15 3 16 3 15 2 15 3 15 3M1533 706l15 3 15 4 16 3 15 3 15 3 16 2 15 2 15 2M1502 710l15 2 16 3 15 3 15 2 16 3 15 2 15 2 16 2M1456 712l15 2 16 2 15 2 15 2 16 3 15 2 15 2 16 2 15 2M1395 713l15 2 16 2 15 2 15 2 15 1 16 2 15 2 15 1 16 2 15 2M1227 723l15-3 15-2 15-2 16 0 15 0 15 0 16 1 15 1 15 1 16 1 15 2 15 1 16 2 15 1 15 2 15 1 16 1 15 2M1227 730l15-3 15-1 15-1 16 0 15 0 15 0 16 0 15 1 15 1 16 1 15 1 15 1 16 2 15 1M1242 734l15-1 15-1 16 0 15 0 15 0 16 0 15 1 15 0" stroke="#000" stroke-width="2.3" stroke-opacity="0.55" fill="none"/>
<path d="M1242 199l15-78 15-49 16-21 15 0 15 17 16 28 15 38 15 44M1227 312l15-104 15-75 15-48 16-20 15 0 15 15 16 28 15 37 15 42 16 45 15 45 15 45 16 41 15 39 15 36 15 31 16 28 15 25M1227 330l15-97 15-69 15-44 16-19 15 0 15 14 16 28 15 32 15 37 16 44 15 42 15 42 16 40 15 37 15 35 15 30 16 25 15 23 15 21 16 18M1227 360l15-88 15-63 15-36 16-16 15 0 15 12 16 21 15 28 15 35 16 39 15 38 15 38 16 37 15 36 15 33 15 26 16 23 15 20 15 18 16 17 15 14M1227 397l15-78 15-54 15-32 16-14 15 0 15 11 16 18 15 25 15 30 16 34 15 33 15 34 16 35 15 34 15 28 15 22 16 19 15 17 15 16 16 14 15 12 15 13 16 12 15 12M1227 440l15-69 15-45 15-27 16-11 15 0 15 9 16 15 15 21 15 25 16 29 15 29 15 32 16 32 15 26 15 23 15 17 16 16 15 14 15 13 16 12 15 11 15 12 16 12 15 12 15 9M1227 489l15-62 15-39 15-22 16-9 15 0 15 7 16 12 15 17 15 22 16 26 15 27 15 26 16 24 15 21 15 17 15 13 16 13 15 11 15 10 16 11 15 11 15 11 16 12 15 9 15 8M1227 530l15-45 15-34 15-19 16-8 15 0 15 6 16 11 15 15 15 19 16 21 15 20 15 19 16 17 15 15 15 13 15 10 16 10 15 9 15 10 16 10 15 10 15 11 16 9 15 8 15 6M1227 565l15-32 15-23 15-14 16-6 15 1 15 4 16 8 15 11 15 13 16 14 15 14 15 13 16 12 15 12 15 9 15 9 16 8 15 8 15 9 16 10 15 9 15 8 16 7 15 7 15 6M1227 593l15-22 15-16 15-9 16-4 15 0 15 3 16 5 15 8 15 8 16 10 15 10 15 9 16 9 15 9 15 8 15 8 16 8 15 8 15 8 16 7 15 6 15 7 16 6 15 6 15 6M1227 616l15-16 15-11 15-6 16-3 15 0 15 2 16 4 15 5 15 5 16 7 15 7 15 8 16 8 15 8 15 8 15 7 16 6 15 6 15 6 16 5 15 6 15 6 16 6 15 5M1227 640l15-16 15-9 15-4 16-2 15 0 15 1 16 3 15 4 15 4 16 7 15 6 15 7 16 7 15 7 15 6 15 5 16 4 15 5 15 5 16 4 15 5 15 5 16 5M1227 661l15-12 15-8 15-4 16-2 15 0 15 1 16 3 15 3 15 4 16 6 15 5 15 5 16 5 15 4 15 5 15 4 16 4 15 4 15 4 16 4 15 4 15 4M1227 677l15-9 15-5 15-3 16-1 15 0 15 1 16 1 15 3 15 3 16 3 15 4 15 4 16 4 15 4 15 3 15 4 16 3 15 3 15 4 16 3M1227 691l15-7 15-4 15-3 16-1 15 0 15 1 16 1 15 2 15 3 16 2 15 4 15 3 16 3 15 3 15 3 15 3 16 3 15 3M1227 704l15-6 15-4 15-1 16-1 15 0 15 0 16 1 15 2 15 2 16 2 15 3 15 2 16 3 15 3 15 2M1227 714l15-4 15-3 15-1 16-1 15 0 15 0 16 1 15 2 15 1 16 2 15 2" stroke="#000" stroke-width="2.3" stroke-opacity="0.9" fill="none"/>
</g>
<path d="M306 11V185.5H527.4" stroke="#8a8a8a" fill="none" stroke-width="0.9"/>
<path d="M300.5 169.4h5.5M300.5 145.5h5.5M300.5 121.6h5.5M300.5 97.7h5.5M300.5 73.8h5.5M300.5 49.9h5.5M300.5 26h5.5M333.9 185.5v5M364.2 185.5v5M394.5 185.5v5M424.8 185.5v5M455.1 185.5v5M485.4 185.5v5M515.7 185.5v5" stroke="#8a8a8a" fill="none" stroke-width="0.8"/>
<g class="tk"><text x="298" y="172.1" text-anchor="end">50</text><text x="298" y="148.2" text-anchor="end">100</text><text x="298" y="124.3" text-anchor="end">150</text><text x="298" y="100.4" text-anchor="end">200</text><text x="298" y="76.5" text-anchor="end">250</text><text x="298" y="52.6" text-anchor="end">300</text><text x="298" y="28.7" text-anchor="end">350</text><text x="333.9" y="201.7" text-anchor="middle">0.5</text><text x="364.2" y="201.7" text-anchor="middle">1</text><text x="394.5" y="201.7" text-anchor="middle">1.5</text><text x="424.8" y="201.7" text-anchor="middle">2</text><text x="455.1" y="201.7" text-anchor="middle">2.5</text><text x="485.4" y="201.7" text-anchor="middle">3</text><text x="515.7" y="201.7" text-anchor="middle">3.5</text><text x="445.5" y="207.4" text-anchor="middle" style="font-size:8.8px">Y</text><text transform="translate(282.5 99) rotate(-90)" text-anchor="middle" style="font-size:8.8px">Z</text></g>
<text class="lab" x="472.7" y="50.8">(b)</text>
<path d="M57.3 225.7L57.3 404.2M83.6 225.7L83.6 404.2M109.8 225.7L109.8 404.2M136.1 225.7L136.1 404.2M162.3 225.7L162.3 404.2M188.6 225.7L188.6 404.2M214.8 225.7L214.8 404.2M241.1 225.7L241.1 404.2M267.3 225.7L267.3 404.2M45.5 388L272.7 388M45.5 363.4L272.7 363.4M45.5 338.8L272.7 338.8M45.5 314.2L272.7 314.2M45.5 289.6L272.7 289.6M45.5 265L272.7 265M45.5 240.4L272.7 240.4" stroke="#e8e8e8" stroke-width="0.7" fill="none"/>
<g transform="scale(.25)">
<path class="p5" d="M993 1586l8 5-16-9 0 0zM306 1586l7-4 0 0-15 9z"/><path class="p6" d="M968 1573l-4-3 0 1zM334 1571l0-1-3 3zM964 1570l0-1-21-16 0 2zM317 1580l11-6 3-1 3-3 0-1-21 13z"/><path class="p7" d="M968 1573l2 1 12 6 3 2-21-13 0 1zM985 1582l0 0 0 0-21-14 0 1zM964 1569l0-1-21-15 0 0zM313 1582l21-13 0-1-21 14 0 0z"/><path class="p8" d="M946 1562l2 1-5-4 0 2zM922 1551l0-8-21-20 0 11zM365 1557l7-3 4-3 0-8-21 16 0 2zM352 1562l3-1 0-2-5 4zM948 1563l10 5 6 3 0-1-21-15 0 4zM943 1559l0-4-21-17 0 5zM340 1568l10-5 5-4 0-4-21 15 0 1zM943 1555l0-2-21-18 0 3zM355 1555l0-2-21 16 0 1zM943 1553l0 0-21-19 0 1zM355 1553l0 0-21 15 0 1z"/><path class="p9" d="M926 1554l8 3 9 4 0-2-21-16 0 8zM922 1543l0-5-21-23 0 8zM376 1543l0-5-21 17 0 4z"/><path class="p10" d="M901 1534l0-11-21-25 0 15zM397 1534l0-11-21 20 0 8zM922 1538l0-3-21-24 0 4zM376 1538l0-3-21 18 0 2zM922 1535l0-1-21-24 0 1zM376 1535l0-1-21 19 0 0z"/><path class="p11" d="M901 1523l0-8-21-26 0 9zM397 1523l0-8-21 23 0 5z"/><path class="p12" d="M880 1513l0-15-21-26 0 17zM418 1513l0-15-21 25 0 11zM901 1515l0-4-21-26 0 4zM397 1515l0-4-21 24 0 3z"/><path class="p13" d="M901 1511l0-1-21-27 0 2zM397 1511l0-1-21 24 0 1z"/><path class="p14" d="M880 1498l0-9-21-27 0 10zM418 1498l0-9-21 26 0 8z"/><path class="p15" d="M859 1489l0-17-21-29 0 22zM439 1489l0-17-21 26 0 15zM880 1489l0-4-21-29 0 6zM418 1489l0-4-21 26 0 4zM880 1485l0-2-21-29 0 2zM418 1485l0-2-21 27 0 1z"/><path class="p16" d="M859 1472l0-10-21-35 0 16zM439 1472l0-10-21 27 0 9z"/><path class="p17" d="M838 1465l0-22-21-39 0 32zM460 1465l0-22-21 29 0 17zM859 1462l0-6-21-38 0 9zM439 1462l0-6-21 29 0 4z"/><path class="p18" d="M859 1456l0-2-21-40 0 4zM439 1456l0-2-21 29 0 2z"/><path class="p19" d="M838 1443l0-16-21-46 0 23zM460 1443l0-16-21 35 0 10z"/><path class="p20" d="M817 1436l0-32-21-49 0 45zM481 1436l0-32-21 39 0 22z"/><path class="p21" d="M838 1427l0-9-21-51 0 14zM460 1427l0-9-21 38 0 6z"/><path class="p22" d="M838 1418l0-4-21-53 0 6zM460 1418l0-4-21 40 0 2z"/><path class="p23" d="M796 1400l0-45-21-60 0 63zM502 1400l0-45-21 49 0 32zM817 1404l0-23-21-61 0 35zM481 1404l0-23-21 46 0 16z"/><path class="p25" d="M817 1381l0-14-21-66 0 19zM481 1381l0-14-21 51 0 9z"/><path class="p26" d="M817 1367l0-6-21-68 0 8zM481 1367l0-6-21 53 0 4z"/><path class="p27" d="M775 1358l0-63-21-57 0 70zM523 1358l0-63-21 60 0 45zM796 1355l0-35-21-65 0 40zM502 1355l0-35-21 61 0 23z"/><path class="p30" d="M796 1320l0-19-21-68 0 22zM502 1320l0-19-21 66 0 14z"/><path class="p31" d="M754 1308l0-70-21-54 0 79zM544 1308l0-70-21 57 0 63z"/><path class="p32" d="M775 1295l0-40-21-64 0 47zM523 1295l0-40-21 65 0 35zM796 1301l0-8-21-69 0 9zM502 1301l0-8-21 68 0 6z"/><path class="p35" d="M733 1263l0-79-21-49 0 90zM565 1263l0-79-21 54 0 70z"/><path class="p36" d="M775 1255l0-22-21-68 0 26zM523 1255l0-22-21 68 0 19z"/><path class="p37" d="M754 1238l0-47-21-62 0 55zM544 1238l0-47-21 64 0 40z"/><path class="p38" d="M712 1225l0-90-21-40 0 100zM586 1225l0-90-21 49 0 79zM775 1233l0-9-21-71 0 12zM523 1233l0-9-21 69 0 8z"/><path class="p41" d="M691 1195l0-100-21-25 0 105zM607 1195l0-100-21 40 0 90zM754 1191l0-26-21-69 0 33zM544 1191l0-26-21 68 0 22z"/><path class="p42" d="M670 1175l0-105-21-9 0 108zM628 1175l0-105-21 25 0 100zM733 1184l0-55-21-58 0 64zM565 1184l0-55-21 62 0 47z"/><path class="p43" d="M649 1169l0-108-21 9 0 105zM754 1165l0-12-21-71 0 14zM544 1165l0-12-21 71 0 9z"/><path class="p46" d="M712 1135l0-64-21-46 0 70zM586 1135l0-64-21 58 0 55zM733 1129l0-33-21-61 0 36zM565 1129l0-33-21 69 0 26z"/><path class="p49" d="M691 1095l0-70-21-32 0 77zM607 1095l0-70-21 46 0 64zM733 1096l0-14-21-64 0 17zM565 1096l0-14-21 71 0 12z"/><path class="p51" d="M670 1070l0-77-21-12 0 80zM649 1061l0-80-21 12 0 77zM628 1070l0-77-21 32 0 70zM712 1071l0-36-21-54 0 44zM586 1071l0-36-21 61 0 33z"/><path class="p54" d="M691 1025l0-44-21-37 0 49zM607 1025l0-44-21 54 0 36zM712 1035l0-17-21-57 0 20zM586 1035l0-17-21 64 0 14z"/><path class="p57" d="M670 993l0-49-21-12 0 49zM628 993l0-49-21 37 0 44z"/><path class="p58" d="M649 981l0-49-21 12 0 49zM691 981l0-20-21-38 0 21zM607 981l0-20-21 57 0 17z"/><path class="p61" d="M670 944l0-21-21-14 0 23zM628 944l0-21-21 38 0 20z"/><path class="p62" d="M649 932l0-23-21 14 0 21z"/>
<path class="p0" d="M1083 1623l0 0 6 2 0 0-20-3 0-1zM1069 1621l0 1-21-3 0-2zM210 1625l5-2 1 0 13-2 0 1-19 3zM1089 1625l1 0 0 0-21-2 0-1zM1069 1622l0 1-21-3 0-1zM210 1625l19-3 0 1-21 2 0 0zM205 1625l3 0 0 0-4 1zM1090 1625l0 1-21-2 0-1zM1069 1623l0 1-21-3 0-1zM229 1623l0 1-21 2 0-1zM201 1626l3 0 4-1 0 1-8 0zM1090 1626l0 1-21-2 0-1zM1069 1624l0 1-21-3 0-1zM229 1624l0 1-21 2 0-1zM197 1627l3-1 8 0 0 1-12 0zM1090 1627l0 0-21-1 0-1zM1069 1625l0 1-21-2 0-2zM229 1625l0 1-21 1 0 0zM194 1628l2-1 12 0 0 0-15 1zM1090 1627l0 1-21-1 0-1zM1069 1626l0 1-21-2 0-1zM1048 1624l0 1-21-4 0-2zM250 1624l0 1-21 2 0-1zM229 1626l0 1-21 1 0-1zM192 1628l1 0 15-1 0 1-18 1zM1090 1628l0 1-21-1 0-1zM1069 1627l0 1-21-2 0-1zM1048 1625l0 1-21-3 0-2zM250 1625l0 1-21 2 0-1zM229 1627l0 1-21 1 0-1zM190 1629l0 0 18-1 0 1-20 0zM1090 1629l0 0-21 0 0-1zM1069 1628l0 1-21-2 0-1zM1048 1626l0 1-21-3 0-1zM250 1626l0 1-21 2 0-1zM229 1628l0 1-21 0 0 0zM187 1630l1-1 0 0 20 0 0 0-21 1zM1090 1629l0 1-21-1 0 0zM1069 1629l0 0-21-1 0-1zM1048 1627l0 1-21-2 0-2zM250 1627l0 1-21 1 0 0zM229 1629l0 0-21 1 0-1zM187 1630l21-1 0 1-21 1 0 0 0 0zM1090 1630l0 1-21-1 0-1zM1069 1629l0 1-21-1 0-1zM1048 1628l0 1-21-2 0-1zM1027 1626l0 1-21-3 0-2zM271 1626l0 1-21 2 0-1zM250 1628l0 1-21 1 0-1zM229 1629l0 1-21 1 0-1zM187 1631l0 0 21-1 0 1-20 1zM1090 1631l0 1-21-1 0-1zM1069 1630l0 1-21-1 0-1zM1048 1629l0 1-21-1 0-2zM1027 1627l0 2-21-2 0-3zM271 1627l0 2-21 1 0-1zM250 1629l0 1-21 1 0-1zM229 1630l0 1-21 1 0-1zM190 1632l-2 0 0 0 20-1 0 1-17 0zM1090 1632l0 1-21-1 0-1zM1069 1631l0 1-21-1 0-1zM1048 1630l0 1-21-1 0-1zM1027 1629l0 1-21-2 0-1zM271 1629l0 1-21 1 0-1zM250 1630l0 1-21 1 0-1zM229 1631l0 1-21 1 0-1zM192 1633l-1-1 17 0 0 1-14 0zM1090 1633l0 0-21 0 0-1zM1069 1632l0 1-21-1 0-1zM1048 1631l0 1-21-1 0-1zM1027 1630l0 1-21-1 0-2zM1006 1628l0 2-21-3 0-2zM292 1628l0 2-21 1 0-1zM271 1630l0 1-21 1 0-1zM250 1631l0 1-21 1 0-1zM229 1632l0 1-21 0 0 0zM197 1633l-3 0 0 0 14 0 0 0-9 1zM1090 1633l0 1-21 0 0-1zM1069 1633l0 1-21-1 0-1zM1048 1632l0 1-21-1 0-1zM1027 1631l0 1-21-1 0-1zM1006 1630l0 1-21-2 0-2zM292 1630l0 1-21 1 0-1zM271 1631l0 1-21 1 0-1zM250 1632l0 1-21 1 0-1zM229 1633l0 1-21 0 0-1zM205 1634l-4 0-2 0 9-1 0 1-2 0zM1090 1634l0 1-1 0-5 0-15 0 0-1zM1069 1634l0 1-21-1 0-1zM1048 1633l0 1-21 0 0-2zM1027 1632l0 2-21-1 0-2zM1006 1631l0 2-21-2 0-2zM985 1629l0 2-21-2 0-2zM313 1629l0 2-21 2 0-2zM292 1631l0 2-21 1 0-2zM271 1632l0 2-21 0 0-1zM250 1633l0 1-21 1 0-1zM229 1634l0 1-14 0-5 0-2 0 0-1zM206 1634l2 0 0 1zM1084 1635l-1 0-5 0-5 1-4 0 0-1zM1069 1635l0 1-21-1 0-1zM1048 1634l0 1-21 0 0-1zM1027 1634l0 1-21-1 0-1zM1006 1633l0 1-21-1 0-2zM985 1631l0 2-21-2 0-2zM313 1631l0 2-21 1 0-1zM292 1633l0 1-21 1 0-1zM271 1634l0 1-21 0 0-1zM250 1634l0 1-21 1 0-1zM221 1635l-6 0 0 0 14 0 0 1-3 0zM1073 1636l-2 0-2 0 0 0zM1069 1636l0 0-5 0-5 0-11 0 0-1zM1048 1635l0 1-21 0 0-1zM1027 1635l0 1-21-1 0-1zM1006 1634l0 1-21-1 0-1zM985 1633l0 1-21-1 0-2zM964 1631l0 2-21-1 0-3zM334 1631l0 2-21 1 0-1zM313 1633l0 1-21 1 0-1zM292 1634l0 1-21 1 0-1zM271 1635l0 1-21 0 0-1zM250 1635l0 1-11 0-5 0-5 0 0 0zM227 1636l-1 0 3 0 0 0zM1059 1636l-2 1-8 0-1 0 0-1zM1048 1636l0 1-5 0-16 0 0-1zM1027 1636l0 1-21-1 0-1zM1006 1635l0 1-21 0 0-2zM985 1634l0 2-21-1 0-2zM964 1633l0 2-21-1 0-2zM943 1632l0 2-21-2 0-3zM355 1632l0 2-21 1 0-2zM334 1633l0 2-21 1 0-2zM313 1634l0 2-21 0 0-1zM292 1635l0 1-21 1 0-1zM271 1636l0 1-16 0-5 0 0-1zM249 1637l-8 0-2-1 11 0 0 1zM1043 1637l-2 0-9 1-5 0 0-1zM1027 1637l0 1-4 0-17 0 0-2zM1006 1636l0 2-21-1 0-1zM985 1636l0 1-21-1 0-1zM964 1635l0 1-21 0 0-2zM943 1634l0 2-21-2 0-2zM922 1632l0 2-21-1 0-3zM376 1632l0 2-21 2 0-2zM355 1634l0 2-21 0 0-1zM334 1635l0 1-21 1 0-1zM313 1636l0 1-21 1 0-2zM292 1636l0 2-17 0-4 0 0-1zM266 1638l-9-1-2 0 16 0 0 1zM1023 1638l0 0-10 0-7 0 0 0zM1006 1638l0 0-3 0-4 1-14-1 0-1zM985 1637l0 1-21 0 0-2zM964 1636l0 2-21-1 0-1zM943 1636l0 1-21-1 0-2zM922 1634l0 2-21-1 0-2zM901 1633l0 2-21-1 0-3zM397 1633l0 2-21 1 0-2zM376 1634l0 2-21 1 0-1zM355 1636l0 1-21 1 0-2zM334 1636l0 2-21 0 0-1zM313 1637l0 1-14 1-4-1-3 0 0 0zM285 1638l-10 0 0 0 17 0 0 0zM999 1639l-6 0-8 0 0-1zM985 1638l0 1-3 0-12 0-6 0 0-1zM964 1638l0 1-21-1 0-1zM943 1637l0 1-21 0 0-2zM922 1636l0 2-21-1 0-2zM901 1635l0 2-21-1 0-2zM880 1634l0 2-21-1 0-3zM418 1634l0 2-21 1 0-2zM397 1635l0 2-21 1 0-2zM376 1636l0 2-21 0 0-1zM355 1637l0 1-21 1 0-1zM334 1638l0 1-6 0-11 0-4 0 0-1zM306 1639l-7 0 14-1 0 1zM970 1639l0 0-6 0 0 0zM964 1639l0 0-6 0-12 0-3 0 0-1zM943 1638l0 1-8 1-13-1 0-1zM922 1638l0 1-21 0 0-2zM901 1637l0 2-21-1 0-2zM880 1636l0 2-21-1 0-2zM859 1635l0 2-21-1 0-2zM439 1635l0 2-21 1 0-2zM418 1636l0 2-21 1 0-2zM397 1637l0 2-21 0 0-1zM376 1638l0 1-12 1-9-1 0-1zM355 1638l0 1-3 0-12 0-6 0 0 0zM328 1639l0 0 6 0 0 0zM935 1640l-1 0-12 0 0-1zM922 1639l0 1-1 0-13 0-7 0 0-1zM901 1639l0 1-7 0-5 0-9 0 0-2zM880 1638l0 2-21-1 0-2zM859 1637l0 2-21 0 0-3zM838 1636l0 3-21-1 0-3zM817 1635l0 3-21-1 0-3zM481 1635l0 3-21 1 0-3zM460 1636l0 3-21 0 0-2zM439 1637l0 2-21 1 0-2zM418 1638l0 2-8 0-6 0-7 0 0-1zM397 1639l0 1-6 0-13 0-2 0 0-1zM365 1640l-1 0 12-1 0 1zM889 1640l-9 0 0 0zM880 1640l0 0 0 0-14 0-7 0 0-1zM859 1639l0 1-7 0-14 0 0-1zM838 1639l0 1-1 0-13 0-7 0 0-2zM817 1638l0 2-21-1 0-2zM796 1637l0 2-21 0 0-3zM775 1636l0 3-21-1 0-3zM523 1636l0 3-21 0 0-2zM502 1637l0 2-21 1 0-2zM481 1638l0 2-7 0-13 0-1 0 0-1zM460 1639l0 1-13 0-8 0 0-1zM439 1639l0 1-7 0-14 0 0 0 0 0zM410 1640l8 0 0 0zM824 1640l-2 0-5 0 0 0zM817 1640l0 0-10 0-11 0 0-1zM796 1639l0 1-4 0-15 0-2 0 0-1zM775 1639l0 1-14 0-7 0 0-2zM754 1638l0 2-9 0-12 0 0-3zM733 1637l0 3-4 0-16 0-1 0 0-3zM712 1637l0 3-15-1-6 0 0-2zM691 1637l0 2-7 0-14 0 0-3zM607 1637l0 2-6 0-15 1 0-3zM586 1637l0 3-1 0-16 0-4 0 0-3zM565 1637l0 3-12 0-9 0 0-2zM544 1638l0 2-7 0-14 0 0-1zM523 1639l0 1-1 0-16 0-4 0 0-1zM502 1639l0 1-11 0-10 0 0 0zM476 1640l-2 0 7 0 0 0zM684 1639l-3 0-11 0 0 0zM670 1639l0 0-5 0-16 0 0 0zM649 1639l0 0 0 0-16 0-5 0 0 0zM617 1639l-3 0 14 0 0 0z"/><path class="p1" d="M1050 1613l7 3 3 0-12-2 0-2zM1048 1612l0 2-21-7 0-1zM241 1616l7-3 2-1 0 2-11 2zM1060 1616l4 2 4 1-20-4 0-1zM1048 1614l0 1-21-7 0-1zM234 1618l5-2 11-2 0 1-20 4zM1071 1620l5 1-7 0 0-1zM1068 1619l1 1 0 1-21-5 0-1zM1048 1615l0 1-21-6 0-2zM230 1619l20-4 0 1-21 5 0-1zM227 1620l2 0 0 1-6 0zM1076 1621l2 1 5 1-14-2 0 0zM1069 1621l0 0-21-4 0-1zM1048 1616l0 1-21-5 0-2zM250 1616l0 1-21 4 0 0zM221 1622l2-1 6 0 0 0-13 2zM1048 1617l0 2-21-6 0-1zM250 1617l0 2-21 3 0-1zM1048 1619l0 1-21-5 0-2zM250 1619l0 1-21 3 0-1zM1048 1620l0 1-21-4 0-2zM250 1620l0 1-21 3 0-1zM1048 1621l0 1-21-4 0-1zM1027 1617l0 1-21-6 0-2zM271 1617l0 1-21 4 0-1zM250 1621l0 1-21 3 0-1zM1048 1622l0 2-21-5 0-1zM1027 1618l0 1-21-5 0-2zM271 1618l0 1-21 5 0-2zM250 1622l0 2-21 2 0-1zM1027 1619l0 2-21-5 0-2zM271 1619l0 2-21 4 0-1zM1027 1621l0 2-21-5 0-2zM271 1621l0 2-21 3 0-1zM1027 1623l0 1-21-4 0-2zM1006 1618l0 2-21-5 0-3zM292 1618l0 2-21 4 0-1zM271 1623l0 1-21 3 0-1zM1027 1624l0 2-21-4 0-2zM1006 1620l0 2-21-5 0-2zM292 1620l0 2-21 4 0-2zM271 1624l0 2-21 2 0-1zM1006 1622l0 2-21-4 0-3zM292 1622l0 2-21 3 0-1zM1006 1624l0 3-21-4 0-3zM985 1620l0 3-21-5 0-3zM313 1620l0 3-21 4 0-3zM292 1624l0 3-21 2 0-2zM1006 1627l0 1-21-3 0-2zM985 1623l0 2-21-4 0-3zM313 1623l0 2-21 3 0-1zM292 1627l0 1-21 2 0-1zM985 1625l0 2-21-3 0-3zM964 1621l0 3-21-5 0-3zM334 1621l0 3-21 3 0-2zM313 1625l0 2-21 3 0-2zM985 1627l0 2-21-2 0-3zM964 1624l0 3-21-4 0-4zM334 1624l0 3-21 2 0-2zM313 1627l0 2-21 2 0-1zM964 1627l0 2-21-3 0-3zM943 1623l0 3-21-4 0-4zM355 1623l0 3-21 3 0-2zM334 1627l0 2-21 2 0-2zM964 1629l0 2-21-2 0-3zM943 1626l0 3-21-3 0-4zM355 1626l0 3-21 2 0-2zM334 1629l0 2-21 2 0-2zM943 1629l0 3-21-3 0-3zM922 1626l0 3-21-3 0-4zM376 1626l0 3-21 3 0-3zM355 1629l0 3-21 1 0-2zM922 1629l0 3-21-2 0-4zM901 1626l0 4-21-3 0-4zM397 1626l0 4-21 2 0-3zM376 1629l0 3-21 2 0-2zM901 1630l0 3-21-2 0-4zM880 1627l0 4-21-3 0-4zM418 1627l0 4-21 2 0-3zM397 1630l0 3-21 1 0-2zM880 1631l0 3-21-2 0-4zM859 1628l0 4-21-2 0-5zM439 1628l0 4-21 2 0-3zM418 1631l0 3-21 1 0-2zM859 1632l0 3-21-1 0-4zM838 1630l0 4-21-2 0-4zM817 1628l0 4-21-2 0-5zM481 1628l0 4-21 2 0-4zM460 1630l0 4-21 1 0-3zM439 1632l0 3-21 1 0-2zM838 1634l0 2-21-1 0-3zM817 1632l0 3-21-1 0-4zM796 1630l0 4-21-1 0-5zM775 1628l0 5-21-2 0-4zM523 1628l0 5-21 1 0-4zM502 1630l0 4-21 1 0-3zM481 1632l0 3-21 1 0-2zM460 1634l0 2-21 1 0-2zM796 1634l0 3-21-1 0-3zM775 1633l0 3-21-1 0-4zM754 1631l0 4-21-1 0-4zM733 1630l0 4-21 0 0-5zM712 1629l0 5-21-1 0-5zM691 1628l0 5-21 0 0-5zM670 1628l0 5-21 0 0-5zM628 1628l0 5-21 0 0-5zM607 1628l0 5-21 1 0-5zM586 1629l0 5-21 0 0-4zM565 1630l0 4-21 1 0-4zM544 1631l0 4-21 1 0-3zM523 1633l0 3-21 1 0-3zM502 1634l0 3-21 1 0-3zM754 1635l0 3-21-1 0-3zM733 1634l0 3-21 0 0-3zM712 1634l0 3-21 0 0-4zM691 1633l0 4-21-1 0-3zM670 1633l0 3-21 0 0-3zM649 1633l0 3-21 0 0-3zM628 1633l0 3-21 1 0-4zM607 1633l0 4-21 0 0-3zM586 1634l0 3-21 0 0-3zM565 1634l0 3-21 1 0-3zM544 1635l0 3-21 1 0-3zM670 1636l0 3-21 0 0-3zM649 1636l0 3-21 0 0-3zM628 1636l0 3-14 0-7 0 0-2z"/><path class="p2" d="M1049 1613l1 0-2-1 0 0zM249 1613l1-1 0 0-2 1zM1027 1606l0 1-21-8 0-2zM271 1606l0 1-21 7 0-2zM1027 1607l0 1-21-8 0-1zM271 1607l0 1-21 7 0-1zM1027 1608l0 2-21-8 0-2zM271 1608l0 2-21 6 0-1zM1027 1610l0 2-21-8 0-2zM271 1610l0 2-21 5 0-1zM1027 1612l0 1-21-7 0-2zM271 1612l0 1-21 6 0-2zM1027 1613l0 2-21-7 0-2zM271 1613l0 2-21 5 0-1zM1027 1615l0 2-21-7 0-2zM1006 1608l0 2-21-7 0-2zM292 1608l0 2-21 7 0-2zM271 1615l0 2-21 4 0-1zM1006 1610l0 2-21-7 0-2zM292 1610l0 2-21 6 0-1zM1006 1612l0 2-21-7 0-2zM292 1612l0 2-21 5 0-1zM1006 1614l0 2-21-6 0-3zM292 1614l0 2-21 5 0-2zM1006 1616l0 2-21-6 0-2zM292 1616l0 2-21 5 0-2zM985 1612l0 3-21-7 0-3zM313 1612l0 3-21 5 0-2zM985 1615l0 2-21-6 0-3zM313 1615l0 2-21 5 0-2zM985 1617l0 3-21-5 0-4zM964 1611l0 4-21-7 0-4zM334 1611l0 4-21 5 0-3zM313 1617l0 3-21 4 0-2zM964 1615l0 3-21-6 0-4zM334 1615l0 3-21 5 0-3zM964 1618l0 3-21-5 0-4zM334 1618l0 3-21 4 0-2zM943 1616l0 3-21-5 0-4zM355 1616l0 3-21 5 0-3zM943 1619l0 4-21-5 0-4zM922 1614l0 4-21-5 0-5zM376 1614l0 4-21 5 0-4zM355 1619l0 4-21 4 0-3zM922 1618l0 4-21-4 0-5zM376 1618l0 4-21 4 0-3zM922 1622l0 4-21-4 0-4zM901 1618l0 4-21-4 0-5zM397 1618l0 4-21 4 0-4zM376 1622l0 4-21 3 0-3zM901 1622l0 4-21-3 0-5zM880 1618l0 5-21-4 0-6zM418 1618l0 5-21 3 0-4zM397 1622l0 4-21 3 0-3zM880 1623l0 4-21-3 0-5zM859 1619l0 5-21-4 0-5zM439 1619l0 5-21 3 0-4zM418 1623l0 4-21 3 0-4zM859 1624l0 4-21-3 0-5zM838 1620l0 5-21-2 0-6zM460 1620l0 5-21 3 0-4zM439 1624l0 4-21 3 0-4zM838 1625l0 5-21-2 0-5zM817 1623l0 5-21-3 0-5zM796 1620l0 5-21-2 0-6zM502 1620l0 5-21 3 0-5zM481 1623l0 5-21 2 0-5zM460 1625l0 5-21 2 0-4zM796 1625l0 5-21-2 0-5zM775 1623l0 5-21-1 0-6zM754 1621l0 6-21-2 0-6zM733 1619l0 6-21-1 0-7zM565 1619l0 6-21 2 0-6zM544 1621l0 6-21 1 0-5zM523 1623l0 5-21 2 0-5zM502 1625l0 5-21 2 0-4zM754 1627l0 4-21-1 0-5zM733 1625l0 5-21-1 0-5zM712 1624l0 5-21-1 0-5zM691 1623l0 5-21 0 0-6zM670 1622l0 6-21 0 0-6zM649 1622l0 6-21 0 0-6zM628 1622l0 6-21 0 0-5zM607 1623l0 5-21 1 0-5zM586 1624l0 5-21 1 0-5zM565 1625l0 5-21 1 0-4zM544 1627l0 4-21 2 0-5zM649 1628l0 5-21 0 0-5z"/><path class="p3" d="M1028 1604l-1-1 0 0zM271 1603l0 0 0 1zM1028 1604l4 2 8 3-13-5 0-1zM1027 1603l0 1-21-8 0-1zM266 1606l5-2 0-1 0 1-12 5zM1040 1609l1 0 7 3 0 0-21-6 0-2zM1027 1604l0 2-21-9 0-1zM257 1609l2 0 12-5 0 2-21 6 0 0zM1006 1599l0 1-21-9 0-3zM292 1599l0 1-21 8 0-1zM1006 1600l0 2-21-9 0-2zM292 1600l0 2-21 8 0-2zM1006 1602l0 2-21-8 0-3zM292 1602l0 2-21 8 0-2zM1006 1604l0 2-21-8 0-2zM292 1604l0 2-21 7 0-1zM1006 1606l0 2-21-7 0-3zM292 1606l0 2-21 7 0-2zM985 1601l0 2-21-9 0-3zM313 1601l0 2-21 7 0-2zM985 1603l0 2-21-8 0-3zM313 1603l0 2-21 7 0-2zM985 1605l0 2-21-8 0-2zM313 1605l0 2-21 7 0-2zM985 1607l0 3-21-8 0-3zM313 1607l0 3-21 6 0-2zM985 1610l0 2-21-7 0-3zM964 1602l0 3-21-8 0-4zM334 1602l0 3-21 7 0-2zM313 1610l0 2-21 6 0-2zM964 1605l0 3-21-8 0-3zM334 1605l0 3-21 7 0-3zM964 1608l0 3-21-7 0-4zM334 1608l0 3-21 6 0-2zM943 1604l0 4-21-7 0-5zM355 1604l0 4-21 7 0-4zM943 1608l0 4-21-6 0-5zM355 1608l0 4-21 6 0-3zM943 1612l0 4-21-6 0-4zM922 1606l0 4-21-6 0-5zM376 1606l0 4-21 6 0-4zM355 1612l0 4-21 5 0-3zM922 1610l0 4-21-6 0-4zM376 1610l0 4-21 5 0-3zM901 1608l0 5-21-6 0-6zM397 1608l0 5-21 5 0-4zM901 1613l0 5-21-5 0-6zM880 1607l0 6-21-6 0-6zM418 1607l0 6-21 5 0-5zM397 1613l0 5-21 4 0-4zM880 1613l0 5-21-5 0-6zM859 1607l0 6-21-5 0-6zM439 1607l0 6-21 5 0-5zM418 1613l0 5-21 4 0-4zM859 1613l0 6-21-4 0-7zM838 1608l0 7-21-5 0-7zM460 1608l0 7-21 4 0-6zM439 1613l0 6-21 4 0-5zM838 1615l0 5-21-3 0-7zM817 1610l0 7-21-4 0-7zM481 1610l0 7-21 3 0-5zM460 1615l0 5-21 4 0-5zM817 1617l0 6-21-3 0-7zM796 1613l0 7-21-3 0-7zM775 1610l0 7-21-3 0-7zM523 1610l0 7-21 3 0-7zM502 1613l0 7-21 3 0-6zM481 1617l0 6-21 2 0-5zM775 1617l0 6-21-2 0-7zM754 1614l0 7-21-2 0-7zM733 1612l0 7-21-2 0-7zM565 1612l0 7-21 2 0-7zM544 1614l0 7-21 2 0-6zM523 1617l0 6-21 2 0-5zM712 1617l0 7-21-1 0-7zM691 1616l0 7-21-1 0-6zM670 1616l0 6-21 0 0-7zM649 1615l0 7-21 0 0-6zM628 1616l0 6-21 1 0-7zM607 1616l0 7-21 1 0-7zM586 1617l0 7-21 1 0-6z"/><path class="p4" d="M1013 1597l2 1-9-4 0-1zM285 1597l7-4 0 1-9 4zM1015 1598l8 3 4 2 0 0-21-8 0-1zM1006 1594l0 1-21-12 0 0zM275 1601l8-3 9-4 0 1-21 8 0 0zM1006 1595l0 1-21-11 0-2zM292 1595l0 1-21 8 0-1zM1006 1596l0 1-21-11 0-1zM292 1596l0 1-21 9 0-2zM1006 1597l0 2-21-11 0-2zM292 1597l0 2-21 8 0-1zM985 1591l0 2-21-11 0-3zM313 1591l0 2-21 9 0-2zM985 1593l0 3-21-11 0-3zM313 1593l0 3-21 8 0-2zM985 1596l0 2-21-10 0-3zM313 1596l0 2-21 8 0-2zM985 1598l0 3-21-10 0-3zM313 1598l0 3-21 7 0-2zM964 1594l0 3-21-11 0-3zM334 1594l0 3-21 8 0-2zM964 1597l0 2-21-10 0-3zM334 1597l0 2-21 8 0-2zM964 1599l0 3-21-9 0-4zM334 1599l0 3-21 8 0-3zM943 1597l0 3-21-9 0-4zM355 1597l0 3-21 8 0-3zM943 1600l0 4-21-8 0-5zM355 1600l0 4-21 7 0-3zM922 1596l0 5-21-8 0-6zM376 1596l0 5-21 7 0-4zM922 1601l0 5-21-7 0-6zM376 1601l0 5-21 6 0-4zM901 1599l0 5-21-8 0-6zM397 1599l0 5-21 6 0-4zM901 1604l0 4-21-7 0-5zM397 1604l0 4-21 6 0-4zM880 1601l0 6-21-6 0-7zM418 1601l0 6-21 6 0-5zM859 1601l0 6-21-5 0-8zM439 1601l0 6-21 6 0-6zM838 1602l0 6-21-5 0-7zM460 1602l0 6-21 5 0-6zM817 1603l0 7-21-4 0-8zM481 1603l0 7-21 5 0-7zM796 1606l0 7-21-3 0-8zM775 1602l0 8-21-3 0-9zM523 1602l0 8-21 3 0-7zM502 1606l0 7-21 4 0-7zM754 1607l0 7-21-2 0-8zM733 1604l0 8-21-2 0-8zM712 1602l0 8-21-1 0-9zM586 1602l0 8-21 2 0-8zM565 1604l0 8-21 2 0-7zM544 1607l0 7-21 3 0-7zM712 1610l0 7-21-1 0-7zM691 1609l0 7-21 0 0-8zM670 1608l0 8-21-1 0-8zM649 1607l0 8-21 1 0-8zM628 1608l0 8-21 0 0-7zM607 1609l0 7-21 1 0-7zM586 1610l0 7-21 2 0-7z"/><path class="p5" d="M1001 1591l2 1 3 1 0 1-21-11 0-1zM985 1582l0 1-21-14 0-1zM295 1592l3-1 15-9 0 1-21 11 0-1zM985 1583l0 0-21-13 0-1zM313 1583l0 0-21 12 0-1zM985 1583l0 2-21-14 0-1zM313 1583l0 2-21 11 0-1zM985 1585l0 1-21-13 0-2zM313 1585l0 1-21 11 0-1zM985 1586l0 2-21-12 0-3zM313 1586l0 2-21 11 0-2zM985 1588l0 3-21-12 0-3zM313 1588l0 3-21 9 0-1zM964 1585l0 3-21-12 0-4zM334 1585l0 3-21 10 0-2zM964 1588l0 3-21-12 0-3zM334 1588l0 3-21 10 0-3zM964 1591l0 3-21-11 0-4zM334 1591l0 3-21 9 0-2zM943 1586l0 3-21-11 0-4zM355 1586l0 3-21 10 0-2zM943 1589l0 4-21-11 0-4zM355 1589l0 4-21 9 0-3zM943 1593l0 4-21-10 0-5zM355 1593l0 4-21 8 0-3zM922 1587l0 4-21-10 0-6zM376 1587l0 4-21 9 0-3zM922 1591l0 5-21-9 0-6zM376 1591l0 5-21 8 0-4zM901 1587l0 6-21-10 0-7zM397 1587l0 6-21 8 0-5zM901 1593l0 6-21-9 0-7zM397 1593l0 6-21 7 0-5zM880 1590l0 6-21-8 0-7zM418 1590l0 6-21 8 0-5zM880 1596l0 5-21-7 0-6zM418 1596l0 5-21 7 0-4zM859 1594l0 7-21-7 0-8zM439 1594l0 7-21 6 0-6zM838 1594l0 8-21-6 0-9zM460 1594l0 8-21 5 0-6zM817 1596l0 7-21-5 0-8zM481 1596l0 7-21 5 0-6zM796 1598l0 8-21-4 0-9zM775 1593l0 9-21-4 0-9zM523 1593l0 9-21 4 0-8zM502 1598l0 8-21 4 0-7zM754 1598l0 9-21-3 0-9zM733 1595l0 9-21-2 0-10zM565 1595l0 9-21 3 0-9zM544 1598l0 9-21 3 0-8zM691 1600l0 9-21-1 0-9zM670 1599l0 9-21-1 0-9zM649 1598l0 9-21 1 0-9zM628 1599l0 9-21 1 0-9zM607 1600l0 9-21 1 0-8z"/><path class="p6" d="M964 1571l0 2-21-15 0-2zM334 1571l0 2-21 13 0-1zM964 1573l0 3-21-15 0-3zM334 1573l0 3-21 12 0-2zM964 1576l0 3-21-15 0-3zM334 1576l0 3-21 12 0-3zM964 1579l0 3-21-14 0-4zM334 1579l0 3-21 11 0-2zM964 1582l0 3-21-13 0-4zM334 1582l0 3-21 11 0-3zM943 1576l0 3-21-13 0-5zM355 1576l0 3-21 12 0-3zM943 1579l0 4-21-13 0-4zM355 1579l0 4-21 11 0-3zM943 1583l0 3-21-12 0-4zM355 1583l0 3-21 11 0-3zM922 1578l0 4-21-12 0-5zM376 1578l0 4-21 11 0-4zM922 1582l0 5-21-12 0-5zM376 1582l0 5-21 10 0-4zM901 1581l0 6-21-11 0-7zM397 1581l0 6-21 9 0-5zM880 1583l0 7-21-9 0-8zM418 1583l0 7-21 9 0-6zM859 1581l0 7-21-9 0-7zM439 1581l0 7-21 8 0-6zM859 1588l0 6-21-8 0-7zM439 1588l0 6-21 7 0-5zM838 1586l0 8-21-7 0-8zM460 1586l0 8-21 7 0-7zM817 1587l0 9-21-6 0-10zM481 1587l0 9-21 6 0-8zM796 1590l0 8-21-5 0-9zM775 1584l0 9-21-4 0-10zM523 1584l0 9-21 5 0-8zM502 1590l0 8-21 5 0-7zM754 1589l0 9-21-3 0-10zM733 1585l0 10-21-3 0-11zM565 1585l0 10-21 3 0-9zM544 1589l0 9-21 4 0-9zM712 1592l0 10-21-2 0-10zM691 1590l0 10-21-1 0-11zM670 1588l0 11-21-1 0-10zM649 1588l0 10-21 1 0-11zM628 1588l0 11-21 1 0-10zM607 1590l0 10-21 2 0-10zM586 1592l0 10-21 2 0-9z"/><path class="p7" d="M964 1568l0 1-21-16 0 0zM334 1568l0 1-21 14 0-1zM964 1569l0 1-21-16 0-1zM334 1569l0 1-21 13 0 0zM964 1570l0 1-21-15 0-2zM334 1570l0 1-21 14 0-2zM943 1564l0 4-21-15 0-5zM355 1564l0 4-21 14 0-3zM943 1568l0 4-21-15 0-4zM355 1568l0 4-21 13 0-3zM943 1572l0 4-21-15 0-4zM355 1572l0 4-21 12 0-3zM922 1566l0 4-21-14 0-5zM376 1566l0 4-21 13 0-4zM922 1570l0 4-21-13 0-5zM376 1570l0 4-21 12 0-3zM922 1574l0 4-21-13 0-4zM376 1574l0 4-21 11 0-3zM901 1570l0 5-21-12 0-6zM397 1570l0 5-21 12 0-5zM901 1575l0 6-21-12 0-6zM397 1575l0 6-21 10 0-4zM880 1569l0 7-21-11 0-8zM418 1569l0 7-21 11 0-6zM880 1576l0 7-21-10 0-8zM418 1576l0 7-21 10 0-6zM859 1573l0 8-21-9 0-9zM439 1573l0 8-21 9 0-7zM838 1572l0 7-21-9 0-8zM460 1572l0 7-21 9 0-7zM838 1579l0 7-21-7 0-9zM460 1579l0 7-21 8 0-6zM817 1579l0 8-21-7 0-9zM481 1579l0 8-21 7 0-8zM796 1580l0 10-21-6 0-11zM775 1573l0 11-21-5 0-12zM523 1573l0 11-21 6 0-10zM502 1580l0 10-21 6 0-9zM754 1579l0 10-21-4 0-11zM733 1574l0 11-21-4 0-11zM565 1574l0 11-21 4 0-10zM544 1579l0 10-21 4 0-9zM712 1581l0 11-21-2 0-11zM691 1579l0 11-21-2 0-11zM670 1577l0 11-21 0 0-11zM649 1577l0 11-21 0 0-11zM628 1577l0 11-21 2 0-11zM607 1579l0 11-21 2 0-11zM586 1581l0 11-21 3 0-10z"/><path class="p8" d="M943 1553l0 0-21-18 0-1zM355 1553l0 0-21 16 0-1zM943 1553l0 1-21-18 0-1zM355 1553l0 1-21 16 0-1zM943 1554l0 2-21-18 0-2zM355 1554l0 2-21 15 0-1zM943 1556l0 2-21-17 0-3zM355 1556l0 2-21 15 0-2zM943 1558l0 3-21-16 0-4zM355 1558l0 3-21 15 0-3zM943 1561l0 3-21-16 0-3zM355 1561l0 3-21 15 0-3zM922 1557l0 4-21-15 0-5zM376 1557l0 4-21 15 0-4zM922 1561l0 5-21-15 0-5zM376 1561l0 5-21 13 0-3zM901 1561l0 4-21-13 0-6zM397 1561l0 4-21 13 0-4zM901 1565l0 5-21-13 0-5zM397 1565l0 5-21 12 0-4zM880 1563l0 6-21-12 0-7zM418 1563l0 6-21 12 0-6zM859 1565l0 8-21-10 0-10zM439 1565l0 8-21 10 0-7zM838 1563l0 9-21-10 0-10zM460 1563l0 9-21 9 0-8zM817 1562l0 8-21-8 0-10zM481 1562l0 8-21 9 0-7zM817 1570l0 9-21-8 0-9zM796 1562l0 9-21-8 0-9zM502 1562l0 9-21 8 0-9zM481 1570l0 9-21 7 0-7zM796 1571l0 9-21-7 0-10zM775 1563l0 10-21-6 0-11zM523 1563l0 10-21 7 0-9zM502 1571l0 9-21 7 0-8zM754 1567l0 12-21-5 0-12zM544 1567l0 12-21 5 0-11zM712 1570l0 11-21-2 0-12zM691 1567l0 12-21-2 0-12zM670 1565l0 12-21 0 0-12zM649 1565l0 12-21 0 0-12zM628 1565l0 12-21 2 0-12zM607 1567l0 12-21 2 0-11zM586 1570l0 11-21 4 0-11z"/><path class="p9" d="M922 1545l0 3-21-19 0-5zM376 1545l0 3-21 16 0-3zM922 1548l0 5-21-18 0-6zM376 1548l0 5-21 15 0-4zM922 1553l0 4-21-16 0-6zM376 1553l0 4-21 15 0-4zM901 1551l0 5-21-15 0-7zM397 1551l0 5-21 14 0-4zM901 1556l0 5-21-15 0-5zM397 1556l0 5-21 13 0-4zM880 1552l0 5-21-14 0-7zM418 1552l0 5-21 13 0-5zM880 1557l0 6-21-13 0-7zM418 1557l0 6-21 12 0-5zM859 1550l0 7-21-12 0-9zM439 1550l0 7-21 12 0-6zM859 1557l0 8-21-12 0-8zM439 1557l0 8-21 11 0-7zM838 1553l0 10-21-11 0-11zM460 1553l0 10-21 10 0-8zM817 1552l0 10-21-10 0-11zM481 1552l0 10-21 10 0-9zM796 1552l0 10-21-8 0-11zM502 1552l0 10-21 8 0-8zM775 1554l0 9-21-7 0-10zM523 1554l0 9-21 8 0-9zM754 1556l0 11-21-5 0-12zM544 1556l0 11-21 6 0-10zM733 1562l0 12-21-4 0-13zM712 1557l0 13-21-3 0-13zM691 1554l0 13-21-2 0-13zM607 1554l0 13-21 3 0-13zM586 1557l0 13-21 4 0-12zM565 1562l0 12-21 5 0-12z"/><path class="p10" d="M922 1534l0 1-21-25 0 0zM376 1534l0 1-21 18 0 0zM922 1535l0 1-21-24 0-2zM376 1535l0 1-21 18 0-1zM922 1536l0 2-21-23 0-3zM376 1536l0 2-21 18 0-2zM922 1538l0 3-21-22 0-4zM376 1538l0 3-21 17 0-2zM922 1541l0 4-21-21 0-5zM376 1541l0 4-21 16 0-3zM901 1541l0 5-21-19 0-8zM397 1541l0 5-21 15 0-4zM901 1546l0 5-21-17 0-7zM397 1546l0 5-21 15 0-5zM880 1541l0 5-21-17 0-8zM418 1541l0 5-21 15 0-5zM880 1546l0 6-21-16 0-7zM418 1546l0 6-21 13 0-4zM859 1543l0 7-21-14 0-10zM439 1543l0 7-21 13 0-6zM838 1545l0 8-21-12 0-11zM460 1545l0 8-21 12 0-8zM817 1541l0 11-21-11 0-14zM481 1541l0 11-21 11 0-10zM775 1543l0 11-21-8 0-13zM523 1543l0 11-21 8 0-10zM754 1546l0 10-21-6 0-12zM544 1546l0 10-21 7 0-9zM733 1550l0 12-21-5 0-12zM712 1545l0 12-21-3 0-13zM586 1545l0 12-21 5 0-12zM565 1550l0 12-21 5 0-11zM670 1552l0 13-21 0 0-14zM649 1551l0 14-21 0 0-13zM628 1552l0 13-21 2 0-13z"/><path class="p11" d="M901 1529l0 6-21-23 0-8zM397 1529l0 6-21 18 0-5zM901 1535l0 6-21-22 0-7zM397 1535l0 6-21 16 0-4zM880 1527l0 7-21-21 0-9zM418 1527l0 7-21 17 0-5zM880 1534l0 7-21-20 0-8zM418 1534l0 7-21 15 0-5zM859 1529l0 7-21-19 0-9zM439 1529l0 7-21 16 0-6zM859 1536l0 7-21-17 0-9zM439 1536l0 7-21 14 0-5zM838 1536l0 9-21-15 0-12zM460 1536l0 9-21 12 0-7zM796 1541l0 11-21-9 0-14zM502 1541l0 11-21 10 0-10zM754 1533l0 13-21-8 0-15zM544 1533l0 13-21 8 0-11zM733 1538l0 12-21-5 0-14zM565 1538l0 12-21 6 0-10zM691 1541l0 13-21-2 0-14zM670 1538l0 14-21-1 0-14zM649 1537l0 14-21 1 0-14zM628 1538l0 14-21 2 0-13zM607 1541l0 13-21 3 0-12z"/><path class="p12" d="M901 1515l0 4-21-26 0-5zM397 1515l0 4-21 22 0-3zM901 1519l0 5-21-26 0-5zM397 1519l0 5-21 21 0-4zM901 1524l0 5-21-25 0-6zM397 1524l0 5-21 19 0-3zM880 1519l0 8-21-23 0-9zM418 1519l0 8-21 19 0-5zM859 1521l0 8-21-21 0-8zM439 1521l0 8-21 17 0-5zM838 1526l0 10-21-18 0-11zM460 1526l0 10-21 14 0-7zM817 1530l0 11-21-14 0-14zM481 1530l0 11-21 12 0-8zM796 1527l0 14-21-12 0-16zM502 1527l0 14-21 11 0-11zM775 1529l0 14-21-10 0-17zM523 1529l0 14-21 9 0-11zM733 1523l0 15-21-7 0-15zM565 1523l0 15-21 8 0-13zM712 1531l0 14-21-4 0-15zM691 1526l0 15-21-3 0-15zM670 1523l0 15-21-1 0-15zM628 1523l0 15-21 3 0-15zM607 1526l0 15-21 4 0-14zM586 1531l0 14-21 5 0-12z"/><path class="p13" d="M901 1510l0 0-21-27 0 0zM397 1510l0 0-21 25 0-1zM901 1510l0 2-21-27 0-2zM397 1510l0 2-21 24 0-1zM901 1512l0 3-21-27 0-3zM397 1512l0 3-21 23 0-2zM880 1512l0 7-21-24 0-8zM418 1512l0 7-21 22 0-6zM859 1513l0 8-21-21 0-9zM439 1513l0 8-21 20 0-7zM838 1517l0 9-21-19 0-10zM460 1517l0 9-21 17 0-7zM817 1518l0 12-21-17 0-12zM481 1518l0 12-21 15 0-9zM796 1513l0 14-21-14 0-15zM502 1513l0 14-21 14 0-11zM775 1513l0 16-21-13 0-16zM523 1513l0 16-21 12 0-14zM754 1516l0 17-21-10 0-17zM544 1516l0 17-21 10 0-14zM712 1516l0 15-21-5 0-16zM586 1516l0 15-21 7 0-15zM649 1522l0 15-21 1 0-15z"/><path class="p14" d="M880 1498l0 6-21-25 0-7zM418 1498l0 6-21 25 0-5zM880 1504l0 8-21-25 0-8zM418 1504l0 8-21 23 0-6zM859 1504l0 9-21-22 0-10zM439 1504l0 9-21 21 0-7zM838 1500l0 8-21-20 0-9zM460 1500l0 8-21 21 0-8zM838 1508l0 9-21-20 0-9zM460 1508l0 9-21 19 0-7zM817 1507l0 11-21-17 0-12zM481 1507l0 11-21 18 0-10zM796 1501l0 12-21-15 0-13zM502 1501l0 12-21 17 0-12zM733 1506l0 17-21-7 0-18zM565 1506l0 17-21 10 0-17zM691 1510l0 16-21-3 0-17zM670 1506l0 17-21-1 0-17zM649 1505l0 17-21 1 0-17zM628 1506l0 17-21 3 0-16zM607 1510l0 16-21 5 0-15z"/><path class="p15" d="M880 1483l0 0-21-29 0 0zM418 1483l0 0-21 27 0 0zM880 1483l0 2-21-29 0-2zM418 1483l0 2-21 27 0-2zM880 1485l0 3-21-28 0-4zM418 1485l0 3-21 27 0-3zM880 1488l0 5-21-27 0-6zM418 1488l0 5-21 26 0-4zM880 1493l0 5-21-26 0-6zM418 1493l0 5-21 26 0-5zM859 1487l0 8-21-24 0-10zM439 1487l0 8-21 24 0-7zM859 1495l0 9-21-23 0-10zM439 1495l0 9-21 23 0-8zM838 1491l0 9-21-21 0-11zM460 1491l0 9-21 21 0-8zM817 1497l0 10-21-18 0-11zM481 1497l0 10-21 19 0-9zM796 1489l0 12-21-16 0-13zM502 1489l0 12-21 17 0-11zM775 1498l0 15-21-13 0-15zM523 1498l0 15-21 14 0-14zM754 1500l0 16-21-10 0-17zM544 1500l0 16-21 13 0-16zM712 1498l0 18-21-6 0-18zM691 1492l0 18-21-4 0-18zM607 1492l0 18-21 6 0-18zM586 1498l0 18-21 7 0-17z"/><path class="p16" d="M859 1479l0 8-21-26 0-10zM439 1479l0 8-21 25 0-8zM838 1481l0 10-21-23 0-12zM460 1481l0 10-21 22 0-9zM817 1479l0 9-21-20 0-11zM481 1479l0 9-21 20 0-8zM817 1488l0 9-21-19 0-10zM481 1488l0 9-21 20 0-9zM796 1478l0 11-21-17 0-13zM502 1478l0 11-21 18 0-10zM775 1485l0 13-21-13 0-15zM523 1485l0 13-21 15 0-12zM754 1485l0 15-21-11 0-16zM544 1485l0 15-21 13 0-15zM733 1489l0 17-21-8 0-18zM565 1489l0 17-21 10 0-16zM670 1488l0 18-21-1 0-18zM649 1487l0 18-21 1 0-18zM628 1488l0 18-21 4 0-18z"/><path class="p17" d="M859 1466l0 6-21-31 0-9zM439 1466l0 6-21 26 0-5zM859 1472l0 7-21-28 0-10zM439 1472l0 7-21 25 0-6zM838 1471l0 10-21-25 0-13zM460 1471l0 10-21 23 0-9zM817 1468l0 11-21-22 0-14zM481 1468l0 11-21 21 0-9zM796 1468l0 10-21-19 0-13zM502 1468l0 10-21 19 0-9zM775 1472l0 13-21-15 0-15zM523 1472l0 13-21 16 0-12zM754 1470l0 15-21-12 0-17zM544 1470l0 15-21 13 0-13zM733 1473l0 16-21-9 0-18zM565 1473l0 16-21 11 0-15zM712 1480l0 18-21-6 0-19zM691 1473l0 19-21-4 0-19zM607 1473l0 19-21 6 0-18zM586 1480l0 18-21 8 0-17z"/><path class="p18" d="M859 1454l0 0-21-39 0-1zM439 1454l0 0-21 29 0 0zM859 1454l0 2-21-38 0-3zM439 1454l0 2-21 29 0-2zM859 1456l0 4-21-36 0-6zM439 1456l0 4-21 28 0-3zM859 1460l0 6-21-34 0-8zM439 1460l0 6-21 27 0-5zM838 1461l0 10-21-28 0-14zM460 1461l0 10-21 24 0-8zM817 1456l0 12-21-25 0-17zM481 1456l0 12-21 23 0-10zM796 1457l0 11-21-22 0-15zM502 1457l0 11-21 20 0-9zM775 1459l0 13-21-17 0-17zM523 1459l0 13-21 17 0-11zM712 1462l0 18-21-7 0-20zM586 1462l0 18-21 9 0-16zM670 1469l0 19-21-1 0-20zM649 1467l0 20-21 1 0-19zM628 1469l0 19-21 4 0-19z"/><path class="p19" d="M838 1451l0 10-21-32 0-15zM460 1451l0 10-21 26 0-8zM754 1455l0 15-21-14 0-19zM544 1455l0 15-21 15 0-13zM733 1456l0 17-21-11 0-20zM565 1456l0 17-21 12 0-15zM691 1453l0 20-21-4 0-22zM607 1453l0 20-21 7 0-18z"/><path class="p20" d="M838 1432l0 9-21-42 0-13zM460 1432l0 9-21 31 0-6zM838 1441l0 10-21-37 0-15zM460 1441l0 10-21 28 0-7zM817 1443l0 13-21-30 0-18zM481 1443l0 13-21 25 0-10zM796 1443l0 14-21-26 0-19zM502 1443l0 14-21 22 0-11zM775 1446l0 13-21-21 0-17zM523 1446l0 13-21 19 0-10zM754 1438l0 17-21-18 0-20zM544 1438l0 17-21 17 0-13zM733 1437l0 19-21-14 0-21zM565 1437l0 19-21 14 0-15zM712 1442l0 20-21-9 0-22zM586 1442l0 20-21 11 0-17zM670 1447l0 22-21-2 0-22zM649 1445l0 22-21 2 0-22zM628 1447l0 22-21 4 0-20z"/><path class="p21" d="M838 1424l0 8-21-46 0-11zM460 1424l0 8-21 34 0-6zM817 1429l0 14-21-35 0-20zM481 1429l0 14-21 28 0-10zM796 1426l0 17-21-31 0-22zM502 1426l0 17-21 25 0-12zM775 1431l0 15-21-25 0-19zM523 1431l0 15-21 22 0-11zM691 1431l0 22-21-6 0-23zM607 1431l0 22-21 9 0-20z"/><path class="p22" d="M838 1414l0 1-21-53 0-1zM460 1414l0 1-21 39 0 0zM838 1415l0 3-21-52 0-4zM460 1415l0 3-21 38 0-2zM838 1418l0 6-21-49 0-9zM460 1418l0 6-21 36 0-4zM817 1414l0 15-21-41 0-20zM481 1414l0 15-21 32 0-10zM754 1421l0 17-21-21 0-21zM544 1421l0 17-21 21 0-13zM733 1417l0 20-21-16 0-24zM565 1417l0 20-21 18 0-17zM712 1421l0 21-21-11 0-24zM586 1421l0 21-21 14 0-19zM670 1424l0 23-21-2 0-23zM649 1422l0 23-21 2 0-23zM628 1424l0 23-21 6 0-22z"/><path class="p23" d="M817 1399l0 15-21-46 0-22zM481 1399l0 15-21 37 0-10zM796 1408l0 18-21-36 0-24zM502 1408l0 18-21 30 0-13zM775 1412l0 19-21-29 0-23zM523 1412l0 19-21 26 0-14zM754 1402l0 19-21-25 0-23zM544 1402l0 19-21 25 0-15zM691 1407l0 24-21-7 0-26zM607 1407l0 24-21 11 0-21z"/><path class="p24" d="M775 1390l0 22-21-33 0-29zM523 1390l0 22-21 31 0-17zM733 1396l0 21-21-20 0-24zM565 1396l0 21-21 21 0-17zM712 1397l0 24-21-14 0-26zM586 1397l0 24-21 16 0-20zM670 1398l0 26-21-2 0-27zM649 1395l0 27-21 2 0-26zM628 1398l0 26-21 7 0-24z"/><path class="p25" d="M817 1386l0 13-21-53 0-19zM481 1386l0 13-21 42 0-9zM796 1388l0 20-21-42 0-28zM502 1388l0 20-21 35 0-14zM691 1381l0 26-21-9 0-28zM607 1381l0 26-21 14 0-24z"/><path class="p26" d="M817 1366l0 9-21-64 0-12zM481 1366l0 9-21 49 0-6zM817 1375l0 11-21-59 0-16zM481 1375l0 11-21 46 0-8zM796 1368l0 20-21-50 0-28zM502 1368l0 20-21 41 0-15zM754 1379l0 23-21-29 0-30zM544 1379l0 23-21 29 0-19zM733 1373l0 23-21-23 0-28zM565 1373l0 23-21 25 0-19zM712 1373l0 24-21-16 0-28zM586 1373l0 24-21 20 0-21zM670 1370l0 28-21-3 0-29zM628 1370l0 28-21 9 0-26z"/><path class="p27" d="M817 1361l0 1-21-69 0 0zM481 1361l0 1-21 53 0-1zM817 1362l0 4-21-67 0-6zM481 1362l0 4-21 52 0-3zM775 1366l0 24-21-40 0-33zM523 1366l0 24-21 36 0-18zM649 1366l0 29-21 3 0-28z"/><path class="p28" d="M796 1346l0 22-21-58 0-27zM502 1346l0 22-21 46 0-15zM754 1350l0 29-21-36 0-36zM544 1350l0 29-21 33 0-22zM691 1353l0 28-21-11 0-30zM607 1353l0 28-21 16 0-24z"/><path class="p29" d="M775 1338l0 28-21-49 0-33zM523 1338l0 28-21 42 0-20zM733 1343l0 30-21-28 0-36zM565 1343l0 30-21 29 0-23zM712 1345l0 28-21-20 0-32zM586 1345l0 28-21 23 0-23zM670 1340l0 30-21-4 0-31zM649 1335l0 31-21 4 0-30zM628 1340l0 30-21 11 0-28z"/><path class="p30" d="M796 1327l0 19-21-63 0-21zM502 1327l0 19-21 53 0-13z"/><path class="p31" d="M796 1311l0 16-21-65 0-18zM502 1311l0 16-21 59 0-11zM775 1310l0 28-21-54 0-30zM523 1310l0 28-21 50 0-20zM754 1317l0 33-21-43 0-35zM544 1317l0 33-21 40 0-24zM691 1321l0 32-21-13 0-34zM607 1321l0 32-21 20 0-28z"/><path class="p32" d="M796 1299l0 12-21-67 0-13zM502 1299l0 12-21 64 0-9zM733 1307l0 36-21-34 0-37zM565 1307l0 36-21 36 0-29zM712 1309l0 36-21-24 0-36zM586 1309l0 36-21 28 0-30zM670 1306l0 34-21-5 0-33zM649 1302l0 33-21 5 0-34zM628 1306l0 34-21 13 0-32z"/><path class="p33" d="M796 1293l0 0-21-69 0 0zM502 1293l0 0-21 69 0-1zM796 1293l0 6-21-68 0-7zM502 1293l0 6-21 67 0-4z"/><path class="p34" d="M775 1283l0 27-21-56 0-30zM523 1283l0 27-21 58 0-22zM754 1284l0 33-21-45 0-35zM544 1284l0 33-21 49 0-28zM691 1285l0 36-21-15 0-37zM607 1285l0 36-21 24 0-36z"/><path class="p35" d="M775 1262l0 21-21-59 0-25zM523 1262l0 21-21 63 0-19zM733 1272l0 35-21-35 0-38zM565 1272l0 35-21 43 0-33zM712 1272l0 37-21-24 0-39zM586 1272l0 37-21 34 0-36zM670 1269l0 37-21-4 0-38zM649 1264l0 38-21 4 0-37zM628 1269l0 37-21 15 0-36z"/><path class="p36" d="M754 1254l0 30-21-47 0-35zM544 1254l0 30-21 54 0-28z"/><path class="p37" d="M775 1244l0 18-21-63 0-21zM523 1244l0 18-21 65 0-16zM691 1246l0 39-21-16 0-40zM607 1246l0 39-21 24 0-37z"/><path class="p38" d="M775 1224l0 0-21-70 0-1zM523 1224l0 0-21 69 0 0zM775 1224l0 7-21-69 0-8zM523 1224l0 7-21 68 0-6zM775 1231l0 13-21-66 0-16zM523 1231l0 13-21 67 0-12zM733 1237l0 35-21-38 0-39zM565 1237l0 35-21 45 0-33zM712 1234l0 38-21-26 0-41zM586 1234l0 38-21 35 0-35zM670 1229l0 40-21-5 0-41zM628 1229l0 40-21 16 0-39z"/><path class="p39" d="M754 1224l0 30-21-52 0-35zM544 1224l0 30-21 56 0-27zM649 1223l0 41-21 5 0-40z"/><path class="p40" d="M733 1202l0 35-21-42 0-39zM565 1202l0 35-21 47 0-30zM691 1205l0 41-21-17 0-44zM607 1205l0 41-21 26 0-38z"/><path class="p41" d="M754 1199l0 25-21-57 0-30zM544 1199l0 25-21 59 0-21zM712 1195l0 39-21-29 0-43zM586 1195l0 39-21 38 0-35z"/><path class="p42" d="M754 1178l0 21-21-62 0-25zM544 1178l0 21-21 63 0-18zM670 1185l0 44-21-6 0-44zM649 1179l0 44-21 6 0-44zM628 1185l0 44-21 17 0-41z"/><path class="p43" d="M733 1167l0 35-21-46 0-41zM565 1167l0 35-21 52 0-30z"/><path class="p44" d="M754 1153l0 1-21-71 0-1zM544 1153l0 1-21 70 0 0zM754 1154l0 8-21-69 0-10zM544 1154l0 8-21 69 0-7zM754 1162l0 16-21-66 0-19zM544 1162l0 16-21 66 0-13zM712 1156l0 39-21-33 0-44zM586 1156l0 39-21 42 0-35zM691 1162l0 43-21-20 0-45zM607 1162l0 43-21 29 0-39z"/><path class="p46" d="M733 1137l0 30-21-52 0-35zM565 1137l0 30-21 57 0-25zM670 1140l0 45-21-6 0-47zM649 1132l0 47-21 6 0-45zM628 1140l0 45-21 20 0-43z"/><path class="p47" d="M712 1115l0 41-21-38 0-45zM586 1115l0 41-21 46 0-35zM691 1118l0 44-21-22 0-47zM607 1118l0 44-21 33 0-39z"/><path class="p48" d="M733 1112l0 25-21-57 0-28zM565 1112l0 25-21 62 0-21z"/><path class="p49" d="M733 1093l0 19-21-60 0-22zM565 1093l0 19-21 66 0-16zM670 1093l0 47-21-8 0-48zM628 1093l0 47-21 22 0-44z"/><path class="p50" d="M733 1082l0 1-21-65 0 0zM565 1082l0 1-21 71 0-1zM733 1083l0 10-21-63 0-12zM565 1083l0 10-21 69 0-8zM712 1080l0 35-21-42 0-38zM586 1080l0 35-21 52 0-30zM649 1084l0 48-21 8 0-47z"/><path class="p51" d="M691 1073l0 45-21-25 0-46zM607 1073l0 45-21 38 0-41z"/><path class="p52" d="M712 1052l0 28-21-45 0-33zM586 1052l0 28-21 57 0-25z"/><path class="p53" d="M670 1047l0 46-21-9 0-47zM628 1047l0 46-21 25 0-45z"/><path class="p54" d="M712 1030l0 22-21-50 0-27zM586 1030l0 22-21 60 0-19zM691 1035l0 38-21-26 0-42zM607 1035l0 38-21 42 0-35zM649 1037l0 47-21 9 0-46z"/><path class="p55" d="M712 1018l0 0-21-57 0 0zM586 1018l0 0-21 65 0-1zM712 1018l0 12-21-55 0-14zM586 1018l0 12-21 63 0-10z"/><path class="p56" d="M691 1002l0 33-21-30 0-39zM607 1002l0 33-21 45 0-28zM670 1005l0 42-21-10 0-44zM628 1005l0 42-21 26 0-38z"/><path class="p57" d="M649 993l0 44-21 10 0-42z"/><path class="p58" d="M691 975l0 27-21-36 0-28zM607 975l0 27-21 50 0-22z"/><path class="p59" d="M691 961l0 0-21-38 0 0zM607 961l0 0-21 57 0 0zM691 961l0 14-21-37 0-15zM607 961l0 14-21 55 0-12zM670 966l0 39-21-12 0-38zM628 966l0 39-21 30 0-33z"/><path class="p60" d="M649 955l0 38-21 12 0-39z"/><path class="p61" d="M670 938l0 28-21-11 0-30zM628 938l0 28-21 36 0-27z"/><path class="p62" d="M670 923l0 0-21-14 0 0zM628 923l0 0-21 38 0 0zM670 923l0 15-21-13 0-16zM628 923l0 15-21 37 0-14zM649 925l0 30-21 11 0-28z"/><path class="p63" d="M649 909l0 0-21 14 0 0zM649 909l0 16-21 13 0-15z"/>
<path d="M1090 1625l0 0 0 1 0 1 0 0 0 1 0 1 0 0 0 1 0 1 0 1 0 1 0 0 0 1 0 1M1069 1620l0 1 0 0 0 1 0 1 0 1 0 1 0 1 0 1 0 1 0 1 0 0 0 1 0 1 0 1 0 1 0 1 0 1 0 1 0 0M1048 1612l0 0 0 2 0 1 0 1 0 1 0 2 0 1 0 1 0 1 0 2 0 1 0 1 0 1 0 1 0 1 0 1 0 1 0 1 0 1 0 1 0 1 0 1 0 1M1027 1603l0 0 0 1 0 2 0 1 0 1 0 2 0 2 0 1 0 2 0 2 0 1 0 1 0 2 0 2 0 1 0 2 0 1 0 2 0 1 0 1 0 1 0 2 0 1 0 1 0 1 0 1M1006 1593l0 1 0 1 0 1 0 1 0 2 0 1 0 2 0 2 0 2 0 2 0 2 0 2 0 2 0 2 0 2 0 2 0 2 0 2 0 3 0 1 0 2 0 1 0 2 0 1 0 1 0 1 0 2 0 0M985 1582l0 1 0 0 0 2 0 1 0 2 0 3 0 2 0 3 0 2 0 3 0 2 0 2 0 2 0 3 0 2 0 3 0 2 0 3 0 3 0 2 0 2 0 2 0 2 0 2 0 1 0 2 0 1 0 1 0 1M964 1568l0 1 0 1 0 1 0 2 0 3 0 3 0 3 0 3 0 3 0 3 0 3 0 3 0 2 0 3 0 3 0 3 0 3 0 4 0 3 0 3 0 3 0 3 0 2 0 2 0 2 0 2 0 1 0 2 0 1 0 0M943 1553l0 0 0 1 0 2 0 2 0 3 0 3 0 4 0 4 0 4 0 3 0 4 0 3 0 3 0 4 0 4 0 3 0 4 0 4 0 4 0 4 0 3 0 4 0 3 0 3 0 3 0 2 0 2 0 1 0 1 0 1M922 1534l0 1 0 1 0 2 0 3 0 4 0 3 0 5 0 4 0 4 0 5 0 4 0 4 0 4 0 4 0 5 0 4 0 5 0 5 0 5 0 4 0 4 0 4 0 4 0 4 0 3 0 3 0 2 0 2 0 2 0 1 0 1M901 1510l0 0 0 2 0 3 0 4 0 5 0 5 0 6 0 6 0 5 0 5 0 5 0 5 0 4 0 5 0 5 0 6 0 6 0 6 0 6 0 5 0 4 0 5 0 5 0 4 0 4 0 4 0 3 0 2 0 2 0 2 0 1M880 1483l0 0 0 2 0 3 0 5 0 5 0 6 0 8 0 7 0 8 0 7 0 7 0 5 0 6 0 5 0 6 0 6 0 7 0 7 0 7 0 6 0 5 0 6 0 6 0 5 0 5 0 4 0 4 0 3 0 2 0 2 0 2 0 0M859 1454l0 0 0 2 0 4 0 6 0 6 0 7 0 8 0 8 0 9 0 9 0 8 0 8 0 7 0 7 0 7 0 7 0 8 0 8 0 8 0 7 0 6 0 7 0 6 0 6 0 6 0 5 0 4 0 4 0 3 0 2 0 2 0 1M838 1414l0 1 0 3 0 6 0 8 0 9 0 10 0 10 0 10 0 10 0 10 0 9 0 8 0 9 0 9 0 10 0 9 0 8 0 10 0 9 0 7 0 7 0 8 0 8 0 6 0 7 0 5 0 5 0 5 0 4 0 2 0 3 0 1M817 1361l0 1 0 4 0 9 0 11 0 13 0 15 0 15 0 14 0 13 0 12 0 11 0 9 0 9 0 10 0 11 0 12 0 11 0 11 0 10 0 8 0 9 0 8 0 9 0 7 0 7 0 7 0 6 0 5 0 4 0 3 0 3 0 2 0 0M796 1293l0 0 0 6 0 12 0 16 0 19 0 22 0 20 0 20 0 18 0 17 0 14 0 11 0 10 0 11 0 12 0 12 0 14 0 14 0 11 0 10 0 9 0 9 0 10 0 8 0 8 0 7 0 7 0 5 0 5 0 4 0 3 0 2 0 1M775 1224l0 0 0 7 0 13 0 18 0 21 0 27 0 28 0 28 0 24 0 22 0 19 0 15 0 13 0 13 0 13 0 13 0 15 0 16 0 14 0 11 0 9 0 10 0 11 0 9 0 9 0 8 0 7 0 6 0 5 0 5 0 3 0 3 0 1M754 1153l0 1 0 8 0 16 0 21 0 25 0 30 0 30 0 33 0 33 0 29 0 23 0 19 0 17 0 17 0 15 0 15 0 15 0 16 0 17 0 13 0 10 0 11 0 12 0 10 0 9 0 9 0 7 0 7 0 6 0 4 0 4 0 3 0 2M733 1082l0 1 0 10 0 19 0 25 0 30 0 35 0 35 0 35 0 35 0 36 0 30 0 23 0 21 0 20 0 19 0 17 0 16 0 17 0 17 0 15 0 12 0 12 0 12 0 11 0 10 0 9 0 8 0 7 0 6 0 5 0 4 0 3 0 3M712 1018l0 0 0 12 0 22 0 28 0 35 0 41 0 39 0 39 0 38 0 37 0 36 0 28 0 24 0 24 0 21 0 20 0 18 0 18 0 18 0 15 0 14 0 12 0 13 0 11 0 11 0 10 0 8 0 7 0 7 0 5 0 5 0 3 0 3M691 961l0 0 0 14 0 27 0 33 0 38 0 45 0 44 0 43 0 41 0 39 0 36 0 32 0 28 0 26 0 24 0 22 0 20 0 19 0 18 0 16 0 15 0 13 0 13 0 12 0 11 0 10 0 9 0 7 0 7 0 5 0 5 0 4 0 2M670 923l0 0 0 15 0 28 0 39 0 42 0 46 0 47 0 45 0 44 0 40 0 37 0 34 0 30 0 28 0 26 0 23 0 22 0 19 0 18 0 17 0 15 0 14 0 13 0 12 0 11 0 11 0 9 0 8 0 6 0 6 0 5 0 3 0 3 0 0M649 909l0 0 0 16 0 30 0 38 0 44 0 47 0 48 0 47 0 44 0 41 0 38 0 33 0 31 0 29 0 27 0 23 0 22 0 20 0 18 0 17 0 15 0 14 0 14 0 12 0 11 0 10 0 9 0 8 0 7 0 6 0 5 0 3 0 3 0 0M628 923l0 0 0 15 0 28 0 39 0 42 0 46 0 47 0 45 0 44 0 40 0 37 0 34 0 30 0 28 0 26 0 23 0 22 0 19 0 18 0 17 0 15 0 14 0 13 0 12 0 11 0 11 0 9 0 8 0 6 0 6 0 5 0 3 0 3 0 0M607 961l0 0 0 14 0 27 0 33 0 38 0 45 0 44 0 43 0 41 0 39 0 36 0 32 0 28 0 26 0 24 0 22 0 20 0 19 0 18 0 16 0 15 0 13 0 13 0 12 0 11 0 10 0 9 0 7 0 7 0 5 0 5 0 4 0 2M586 1018l0 0 0 12 0 22 0 28 0 35 0 41 0 39 0 39 0 38 0 37 0 36 0 28 0 24 0 24 0 21 0 20 0 18 0 18 0 18 0 15 0 14 0 12 0 13 0 11 0 11 0 10 0 8 0 7 0 7 0 5 0 5 0 3 0 3M565 1082l0 1 0 10 0 19 0 25 0 30 0 35 0 35 0 35 0 35 0 36 0 30 0 23 0 21 0 20 0 19 0 17 0 16 0 17 0 17 0 15 0 12 0 12 0 12 0 11 0 10 0 9 0 8 0 7 0 6 0 5 0 4 0 3 0 3M544 1153l0 1 0 8 0 16 0 21 0 25 0 30 0 30 0 33 0 33 0 29 0 23 0 19 0 17 0 17 0 15 0 15 0 15 0 16 0 17 0 13 0 10 0 11 0 12 0 10 0 9 0 9 0 7 0 7 0 6 0 4 0 4 0 3 0 2M523 1224l0 0 0 7 0 13 0 18 0 21 0 27 0 28 0 28 0 24 0 22 0 19 0 15 0 13 0 13 0 13 0 13 0 15 0 16 0 14 0 11 0 9 0 10 0 11 0 9 0 9 0 8 0 7 0 6 0 5 0 5 0 3 0 3 0 1M502 1293l0 0 0 6 0 12 0 16 0 19 0 22 0 20 0 20 0 18 0 17 0 14 0 11 0 10 0 11 0 12 0 12 0 14 0 14 0 11 0 10 0 9 0 9 0 10 0 8 0 8 0 7 0 7 0 5 0 5 0 4 0 3 0 2 0 1M481 1361l0 1 0 4 0 9 0 11 0 13 0 15 0 15 0 14 0 13 0 12 0 11 0 9 0 9 0 10 0 11 0 12 0 11 0 11 0 10 0 8 0 9 0 8 0 9 0 7 0 7 0 7 0 6 0 5 0 4 0 3 0 3 0 2 0 0M460 1414l0 1 0 3 0 6 0 8 0 9 0 10 0 10 0 10 0 10 0 10 0 9 0 8 0 9 0 9 0 10 0 9 0 8 0 10 0 9 0 7 0 7 0 8 0 8 0 6 0 7 0 5 0 5 0 5 0 4 0 2 0 3 0 1M439 1454l0 0 0 2 0 4 0 6 0 6 0 7 0 8 0 8 0 9 0 9 0 8 0 8 0 7 0 7 0 7 0 7 0 8 0 8 0 8 0 7 0 6 0 7 0 6 0 6 0 6 0 5 0 4 0 4 0 3 0 2 0 2 0 1M418 1483l0 0 0 2 0 3 0 5 0 5 0 6 0 8 0 7 0 8 0 7 0 7 0 5 0 6 0 5 0 6 0 6 0 7 0 7 0 7 0 6 0 5 0 6 0 6 0 5 0 5 0 4 0 4 0 3 0 2 0 2 0 2 0 0M397 1510l0 0 0 2 0 3 0 4 0 5 0 5 0 6 0 6 0 5 0 5 0 5 0 5 0 4 0 5 0 5 0 6 0 6 0 6 0 6 0 5 0 4 0 5 0 5 0 4 0 4 0 4 0 3 0 2 0 2 0 2 0 1M376 1534l0 1 0 1 0 2 0 3 0 4 0 3 0 5 0 4 0 4 0 5 0 4 0 4 0 4 0 4 0 5 0 4 0 5 0 5 0 5 0 4 0 4 0 4 0 4 0 4 0 3 0 3 0 2 0 2 0 2 0 1 0 1M355 1553l0 0 0 1 0 2 0 2 0 3 0 3 0 4 0 4 0 4 0 3 0 4 0 3 0 3 0 4 0 4 0 3 0 4 0 4 0 4 0 4 0 3 0 4 0 3 0 3 0 3 0 2 0 2 0 1 0 1 0 1M334 1568l0 1 0 1 0 1 0 2 0 3 0 3 0 3 0 3 0 3 0 3 0 3 0 3 0 2 0 3 0 3 0 3 0 3 0 4 0 3 0 3 0 3 0 3 0 2 0 2 0 2 0 2 0 1 0 2 0 1 0 0M313 1582l0 1 0 0 0 2 0 1 0 2 0 3 0 2 0 3 0 2 0 3 0 2 0 2 0 2 0 3 0 2 0 3 0 2 0 3 0 3 0 2 0 2 0 2 0 2 0 2 0 1 0 2 0 1 0 1 0 1M292 1593l0 1 0 1 0 1 0 1 0 2 0 1 0 2 0 2 0 2 0 2 0 2 0 2 0 2 0 2 0 2 0 2 0 2 0 2 0 3 0 1 0 2 0 1 0 2 0 1 0 1 0 1 0 2 0 0M271 1603l0 0 0 1 0 2 0 1 0 1 0 2 0 2 0 1 0 2 0 2 0 1 0 1 0 2 0 2 0 1 0 2 0 1 0 2 0 1 0 1 0 1 0 2 0 1 0 1 0 1 0 1M250 1612l0 0 0 2 0 1 0 1 0 1 0 2 0 1 0 1 0 1 0 2 0 1 0 1 0 1 0 1 0 1 0 1 0 1 0 1 0 1 0 1 0 1 0 1 0 1M229 1620l0 1 0 0 0 1 0 1 0 1 0 1 0 1 0 1 0 1 0 1 0 0 0 1 0 1 0 1 0 1 0 1 0 1 0 1 0 0M208 1625l0 0 0 1 0 1 0 0 0 1 0 1 0 0 0 1 0 1 0 1 0 1 0 0 0 1 0 1" stroke="#000" stroke-width="2.3" stroke-opacity="0.8" fill="none"/>
<path d="M1001 1591l-16-9-21-14-21-15-21-19-21-24-21-27-21-29-21-40-21-53-21-68-21-69-21-71-21-71-21-64-21-57-21-38-21-14-21 14-21 38-21 57-21 64-21 71-21 71-21 69-21 68-21 53-21 40-21 29-21 27-21 24-21 19-21 15-21 14-15 9M1015 1598l-9-4-21-11-21-14-21-16-21-18-21-25-21-27-21-29M439 1454l-21 29-21 27-21 25-21 18-21 16-21 14-21 11-9 4M1028 1604l-1-1-21-8-21-12-21-13-21-16-21-18M376 1536l-21 18-21 16-21 13-21 12-21 8-1 1M1040 1609l-13-5-21-8-21-11-21-14-21-15M355 1556l-21 15-21 14-21 11-21 8-12 5M1050 1613l-2-1-21-6-21-9-21-11-21-13M334 1573l-21 13-21 11-21 9-21 6-2 1M1060 1616l-12-2-21-7-21-8-21-11M313 1588l-21 11-21 8-21 7-11 2M1068 1619l-20-4-21-7-21-8-21-9M313 1591l-21 9-21 8-21 7-20 4M1076 1621l-7 0-21-5-21-6-21-8-21-9M313 1593l-21 9-21 8-21 6-21 5-7 0M1083 1623l-14-2-21-4-21-5-21-8-21-8M313 1596l-21 8-21 8-21 5-21 4-13 2M1089 1625l-20-3-21-3-21-6-21-7-21-8M313 1598l-21 8-21 7-21 6-21 3-19 3M1090 1625l-21-2-21-3-21-5-21-7-21-7M313 1601l-21 7-21 7-21 5-21 3-21 2-4 1M1090 1626l-21-2-21-3-21-4-21-7-21-7M313 1603l-21 7-21 7-21 4-21 3-21 2-8 0M1090 1627l-21-2-21-3-21-4-21-6-21-7M313 1605l-21 7-21 6-21 4-21 3-21 2-12 0M1090 1627l-21-1-21-2-21-5-21-5-21-7M313 1607l-21 7-21 5-21 5-21 2-21 1-15 1M1090 1628l-21-1-21-2-21-4-21-5-21-6M313 1610l-21 6-21 5-21 4-21 2-21 1-18 1M1090 1629l-21-1-21-2-21-3-21-5-21-6M313 1612l-21 6-21 5-21 3-21 2-21 1-20 0M1090 1629l-21 0-21-2-21-3-21-4M292 1620l-21 4-21 3-21 2-21 0-21 1M1090 1630l-21-1-21-1-21-2-21-4M292 1622l-21 4-21 2-21 1-21 1-21 1M1090 1631l-21-1-21-1-21-2-21-3-21-4M313 1620l-21 4-21 3-21 2-21 1-21 1-20 1M1090 1632l-21-1-21-1-21-1-21-2-21-4M313 1623l-21 4-21 2-21 1-21 1-21 1-17 0M1090 1633l-21-1-21-1-21-1-21-2-21-3M313 1625l-21 3-21 2-21 1-21 1-21 1-14 0M1090 1633l-21 0-21-1-21-1-21-1-21-3M313 1627l-21 3-21 1-21 1-21 1-21 0-9 1M1090 1634l-21 0-21-1-21-1-21-1-21-2-21-2M334 1627l-21 2-21 2-21 1-21 1-21 1-21 0-2 0M1084 1635l-15 0-21-1-21 0-21-1-21-2-21-2M334 1629l-21 2-21 2-21 1-21 0-21 1-14 0M1073 1636l-4 0-21-1-21 0-21-1-21-1-21-2-21-2M355 1629l-21 2-21 2-21 1-21 1-21 0-21 1-3 0M1059 1636l-11 0-21 0-21-1-21-1-21-1-21-1M355 1632l-21 1-21 1-21 1-21 1-21 0-11 0M1043 1637l-16 0-21-1-21 0-21-1-21-1-21-2M376 1632l-21 2-21 1-21 1-21 0-21 1-16 0M1023 1638l-17 0-21-1-21-1-21 0-21-2-21-1M397 1633l-21 1-21 2-21 0-21 1-21 1-17 0M999 1639l-14-1-21 0-21-1-21-1-21-1-21-1M418 1634l-21 1-21 1-21 1-21 1-21 0-14 1M970 1639l-6 0-21-1-21 0-21-1-21-1-21-1M439 1635l-21 1-21 1-21 1-21 0-21 1-6 0M935 1640l-13-1-21 0-21-1-21-1-21-1-21-1M481 1635l-21 1-21 1-21 1-21 1-21 0-12 1M889 1640l-9 0-21-1-21 0-21-1-21-1M502 1637l-21 1-21 1-21 0-21 1-8 0M824 1640l-7 0-21-1-21 0-21-1M544 1638l-21 1-21 0-21 1-7 0M685 1639l-15 0-21 0-21 0-15 0" stroke="#000" stroke-width="2.3" stroke-opacity="0.8" fill="none"/>
<path d="M859 1454l-21-39-21-53M481 1362l-21 53-21 39M922 1536l-21-24-21-27-21-29M439 1456l-21 29-21 27-21 24M943 1556l-21-18-21-23-21-27-21-28M439 1460l-21 28-21 27-21 23-21 18M964 1573l-21-15-21-17-21-22M397 1519l-21 22-21 17-21 15M985 1588l-21-12-21-15-21-16-21-21M397 1524l-21 21-21 16-21 15-21 12M985 1591l-21-12-21-15-21-16M376 1548l-21 16-21 15-21 12M985 1593l-21-11-21-14-21-15M376 1553l-21 15-21 14-21 11M985 1596l-21-11-21-13-21-15M376 1557l-21 15-21 13-21 11M985 1598l-21-10-21-12-21-15M376 1561l-21 15-21 12-21 10M985 1601l-21-10-21-12-21-13-21-15M397 1551l-21 15-21 13-21 12-21 10M985 1603l-21-9-21-11-21-13-21-14M397 1556l-21 14-21 13-21 11-21 9M985 1605l-21-8-21-11-21-12-21-13M397 1561l-21 13-21 12-21 11-21 8M985 1607l-21-8-21-10-21-11-21-13M397 1565l-21 13-21 11-21 10-21 8M985 1610l-21-8-21-9-21-11-21-12M397 1570l-21 12-21 11-21 9-21 8M985 1612l-21-7-21-8-21-10M376 1587l-21 10-21 8-21 7M1006 1620l-21-5-21-7-21-8-21-9M376 1591l-21 9-21 8-21 7-21 5M1006 1622l-21-5-21-6-21-7-21-8M376 1596l-21 8-21 7-21 6-21 5M985 1620l-21-5-21-7-21-7M376 1601l-21 7-21 7-21 5M985 1623l-21-5-21-6-21-6-21-7M397 1599l-21 7-21 6-21 6-21 5M985 1625l-21-4-21-5-21-6-21-6M397 1604l-21 6-21 6-21 5-21 4M985 1627l-21-3-21-5-21-5-21-6M397 1608l-21 6-21 5-21 5-21 3M964 1627l-21-4-21-5-21-5M397 1613l-21 5-21 5-21 4M964 1629l-21-3-21-4-21-4M397 1618l-21 4-21 4-21 3M943 1629l-21-3-21-4-21-4M418 1618l-21 4-21 4-21 3M943 1632l-21-3-21-3-21-3-21-4M439 1619l-21 4-21 3-21 3-21 3M922 1632l-21-2-21-3-21-3M439 1624l-21 3-21 3-21 2M901 1633l-21-2-21-3-21-3M460 1625l-21 3-21 3-21 2M880 1634l-21-2-21-2-21-2-21-3M502 1625l-21 3-21 2-21 2-21 2M859 1635l-21-1-21-2-21-2-21-2-21-1M544 1627l-21 1-21 2-21 2-21 2-21 1M817 1635l-21-1-21-1-21-2-21-1-21-1-21-1-21 0-21 0-21 0-21 0-21 1-21 1-21 1-21 2-21 1-21 1M796 1637l-21-1-21-1-21-1-21 0-21-1-21 0-21 0-21 0-21 0-21 1-21 0-21 1-21 1-21 1M754 1638l-21-1-21 0-21 0-21-1-21 0-21 0-21 1-21 0-21 0-21 1" stroke="#000" stroke-width="2.3" stroke-opacity="0.35" fill="none"/>
<path d="M817 1362l-21-69-21-69-21-70M544 1154l-21 70-21 69-21 69M859 1456l-21-38-21-52M481 1366l-21 52-21 38M859 1460l-21-36M460 1424l-21 36M901 1519l-21-26-21-27-21-34M460 1432l-21 34-21 27-21 26M901 1524l-21-26-21-26M439 1472l-21 26-21 26M922 1548l-21-19-21-25-21-25M439 1479l-21 25-21 25-21 19M922 1553l-21-18-21-23-21-25M439 1487l-21 25-21 23-21 18M922 1557l-21-16-21-22-21-24M439 1495l-21 24-21 22-21 16M922 1561l-21-15-21-19-21-23M439 1504l-21 23-21 19-21 15M901 1551l-21-17-21-21M439 1513l-21 21-21 17M901 1556l-21-15-21-20-21-21-21-21M481 1479l-21 21-21 21-21 20-21 15M901 1561l-21-15-21-17-21-21M460 1508l-21 21-21 17-21 15M901 1565l-21-13-21-16-21-19M460 1517l-21 19-21 16-21 13M901 1570l-21-13-21-14-21-17M460 1526l-21 17-21 14-21 13M922 1587l-21-12-21-12-21-13-21-14M460 1536l-21 14-21 13-21 12-21 12M922 1591l-21-10-21-12-21-12-21-12M460 1545l-21 12-21 12-21 12-21 10M922 1596l-21-9-21-11-21-11-21-12M460 1553l-21 12-21 11-21 11-21 9M922 1601l-21-8-21-10-21-10-21-10M460 1563l-21 10-21 10-21 10-21 8M901 1599l-21-9-21-9-21-9-21-10M481 1562l-21 10-21 9-21 9-21 9M901 1604l-21-8-21-8-21-9-21-9-21-8M502 1562l-21 8-21 9-21 9-21 8-21 8M901 1608l-21-7-21-7-21-8-21-7M481 1579l-21 7-21 8-21 7-21 7M901 1613l-21-6-21-6-21-7-21-7M481 1587l-21 7-21 7-21 6-21 6M901 1618l-21-5-21-6-21-5-21-6-21-6M502 1590l-21 6-21 6-21 5-21 6-21 5M880 1618l-21-5-21-5-21-5-21-5-21-5M523 1593l-21 5-21 5-21 5-21 5-21 5M859 1619l-21-4-21-5-21-4-21-4-21-4-21-3M565 1595l-21 3-21 4-21 4-21 4-21 5-21 4M859 1624l-21-4-21-3-21-4-21-3-21-3-21-3-21-2-21-2M607 1600l-21 2-21 2-21 3-21 3-21 3-21 4-21 3-21 4M838 1625l-21-2-21-3-21-3-21-3-21-2-21-2-21-1-21-1-21-1-21 1-21 1-21 1-21 2-21 2-21 3-21 3-21 3-21 2M796 1625l-21-2-21-2-21-2-21-2-21-1-21 0-21-1-21 1-21 0-21 1-21 2-21 2-21 2-21 2M754 1627l-21-2-21-1-21-1-21-1-21 0-21 0-21 1-21 1-21 1-21 2" stroke="#000" stroke-width="2.3" stroke-opacity="0.55" fill="none"/>
<path d="M754 1154l-21-71-21-65-21-57-21-38-21-14-21 14-21 38-21 57-21 65-21 71M817 1366l-21-67-21-68-21-69-21-69-21-63-21-55-21-37-21-13-21 13-21 37-21 55-21 63-21 69-21 69-21 68-21 67M838 1424l-21-49-21-64-21-67-21-66-21-66-21-60-21-50-21-36-21-11-21 11-21 36-21 50-21 60-21 66-21 66-21 67-21 64-21 49M838 1432l-21-46-21-59-21-65-21-63-21-62-21-57-21-45-21-30-21-12-21 12-21 30-21 45-21 57-21 62-21 63-21 65-21 59-21 46M859 1472l-21-31-21-42-21-53-21-63-21-59-21-57-21-52-21-42-21-26-21-10-21 10-21 26-21 42-21 52-21 57-21 59-21 63-21 53-21 42-21 31M859 1479l-21-28-21-37-21-46-21-58-21-56-21-52-21-46-21-38-21-25-21-9-21 9-21 25-21 38-21 46-21 52-21 56-21 58-21 46-21 37-21 28M859 1487l-21-26-21-32-21-41-21-50-21-54-21-47-21-42-21-33-21-22-21-8-21 8-21 22-21 33-21 42-21 47-21 54-21 50-21 41-21 32-21 26M859 1495l-21-24-21-28-21-35-21-42-21-49-21-45-21-38-21-29-21-20-21-6-21 6-21 20-21 29-21 38-21 45-21 49-21 42-21 35-21 28-21 24M859 1504l-21-23-21-25-21-30-21-36-21-40-21-43-21-35-21-26-21-17-21-6-21 6-21 17-21 26-21 35-21 43-21 40-21 36-21 30-21 25-21 23M859 1513l-21-22-21-23-21-25-21-31-21-33-21-36-21-34-21-24-21-16-21-5-21 5-21 16-21 24-21 34-21 36-21 33-21 31-21 25-21 23-21 22M817 1479l-21-22-21-26-21-29-21-29-21-28-21-24-21-15-21-4-21 4-21 15-21 24-21 28-21 29-21 29-21 26-21 22M838 1508l-21-20-21-20-21-22-21-25-21-25-21-23-21-20-21-13-21-5-21 5-21 13-21 20-21 23-21 25-21 25-21 22-21 20-21 20M838 1517l-21-20-21-19-21-19-21-21-21-21-21-20-21-16-21-11-21-4-21 4-21 11-21 16-21 20-21 21-21 21-21 19-21 19-21 20M838 1526l-21-19-21-18-21-17-21-17-21-18-21-16-21-14-21-9-21-3-21 3-21 9-21 14-21 16-21 18-21 17-21 17-21 18-21 19M838 1536l-21-18-21-17-21-16-21-15-21-14-21-14-21-11-21-7-21-2-21 2-21 7-21 11-21 14-21 14-21 15-21 16-21 17-21 18M838 1545l-21-15-21-17-21-15-21-13-21-12-21-11-21-9-21-6-21-2-21 2-21 6-21 9-21 11-21 12-21 13-21 15-21 17-21 15M838 1553l-21-12-21-14-21-14-21-13-21-11-21-9-21-7-21-4-21-2-21 2-21 4-21 7-21 9-21 11-21 13-21 14-21 14-21 12M838 1563l-21-11-21-11-21-12-21-13-21-10-21-8-21-6-21-4-21-1-21 1-21 4-21 6-21 8-21 10-21 13-21 12-21 11-21 11M817 1562l-21-10-21-9-21-10-21-10-21-7-21-6-21-4-21-1-21 1-21 4-21 6-21 7-21 10-21 10-21 9-21 10M796 1562l-21-8-21-8-21-8-21-7-21-5-21-3-21-1-21 1-21 3-21 5-21 7-21 8-21 8-21 8M817 1579l-21-8-21-8-21-7-21-6-21-5-21-4-21-3-21-1-21 1-21 3-21 4-21 5-21 6-21 7-21 8-21 8M817 1587l-21-7-21-7-21-6-21-5-21-5-21-3-21-2-21-1-21 1-21 2-21 3-21 5-21 5-21 6-21 7-21 7M796 1590l-21-6-21-5-21-5-21-4-21-3-21-2-21 0-21 0-21 2-21 3-21 4-21 5-21 5-21 6M775 1593l-21-4-21-4-21-4-21-2-21-2-21 0-21 0-21 2-21 2-21 4-21 4-21 4M733 1595l-21-3-21-2-21-2-21 0-21 0-21 2-21 2-21 3M691 1600l-21-1-21-1-21 1-21 1" stroke="#000" stroke-width="2.3" stroke-opacity="0.9" fill="none"/>
</g>
<path d="M45.5 232.3V410.8H272.7" stroke="#8a8a8a" fill="none" stroke-width="0.9"/>
<path d="M40 394.6h5.5M40 370h5.5M40 345.4h5.5M40 320.8h5.5M40 296.2h5.5M40 271.6h5.5M40 247h5.5M57.3 410.8v5M83.6 410.8v5M109.8 410.8v5M136.1 410.8v5M162.3 410.8v5M188.6 410.8v5M214.8 410.8v5M241.1 410.8v5M267.3 410.8v5" stroke="#8a8a8a" fill="none" stroke-width="0.8"/>
<g class="tk"><text x="38" y="397.3" text-anchor="end">50</text><text x="38" y="372.7" text-anchor="end">100</text><text x="38" y="348.1" text-anchor="end">150</text><text x="38" y="323.5" text-anchor="end">200</text><text x="38" y="298.9" text-anchor="end">250</text><text x="38" y="274.3" text-anchor="end">300</text><text x="38" y="249.7" text-anchor="end">350</text><text x="57.3" y="428.4" text-anchor="middle">2</text><text x="83.6" y="428.4" text-anchor="middle">1.5</text><text x="109.8" y="428.4" text-anchor="middle">1</text><text x="136.1" y="428.4" text-anchor="middle">0.5</text><text x="162.3" y="428.4" text-anchor="middle">0</text><text x="188.6" y="428.4" text-anchor="middle">-0.5</text><text x="214.8" y="428.4" text-anchor="middle">-1</text><text x="241.1" y="428.4" text-anchor="middle">-1.5</text><text x="267.3" y="428.4" text-anchor="middle">-2</text><text x="191" y="434.6" text-anchor="middle" style="font-size:8.8px">X</text><text transform="translate(20 322) rotate(-90)" text-anchor="middle" style="font-size:8.8px">Z</text></g>
<text class="lab" x="231.7" y="268.4">(c)</text>
<path d="M341.6 229.4L341.6 418M381.6 229.4L381.6 418M421.6 229.4L421.6 418M461.6 229.4L461.6 418M501.6 229.4L501.6 418M301.6 392.1L540.8 392.1M301.6 365.1L540.8 365.1M301.6 338.1L540.8 338.1M301.6 311.2L540.8 311.2M301.6 284.2L540.8 284.2M301.6 257.3L540.8 257.3" stroke="#e8e8e8" stroke-width="0.7" fill="none"/>
<path d="M301.6 229.4H540.8V418" stroke="#d8d8d8" stroke-width="0.8" fill="none"/>
<g transform="scale(.25)">
<path fill="#5242ec" d="M1302 1646h16v16h-16zM1318 1646h16v16h-16zM1334 1646h16v16h-16zM1350 1646h15v16h-15zM1365 1646h16v16h-16zM1381 1646h16v16h-16zM1397 1646h16v16h-16zM1972 1646h16v16h-16zM1988 1646h16v16h-16zM2004 1646h16v16h-16zM2020 1646h16v16h-16zM2036 1646h16v16h-16zM2052 1646h16v16h-16zM2068 1646h16v16h-16zM1302 1630h16v16h-16zM1318 1630h16v16h-16zM1334 1630h16v16h-16zM1350 1630h15v16h-15zM1365 1630h16v16h-16zM1381 1630h16v16h-16zM1397 1630h16v16h-16zM1972 1630h16v16h-16zM1988 1630h16v16h-16zM2004 1630h16v16h-16zM2020 1630h16v16h-16zM2036 1630h16v16h-16zM2052 1630h16v16h-16zM2068 1630h16v16h-16zM1302 1614h16v16h-16zM1318 1614h16v16h-16zM1334 1614h16v16h-16zM1350 1614h15v16h-15zM1365 1614h16v16h-16zM1381 1614h16v16h-16zM1397 1614h16v16h-16zM1972 1614h16v16h-16zM1988 1614h16v16h-16zM2004 1614h16v16h-16zM2020 1614h16v16h-16zM2036 1614h16v16h-16zM2052 1614h16v16h-16zM2068 1614h16v16h-16zM1302 1598h16v16h-16zM1318 1598h16v16h-16zM1334 1598h16v16h-16zM1350 1598h15v16h-15zM1365 1598h16v16h-16zM1381 1598h16v16h-16zM1397 1598h16v16h-16zM1972 1598h16v16h-16zM1988 1598h16v16h-16zM2004 1598h16v16h-16zM2020 1598h16v16h-16zM2036 1598h16v16h-16zM2052 1598h16v16h-16zM2068 1598h16v16h-16zM1302 1582h16v16h-16zM1318 1582h16v16h-16zM1334 1582h16v16h-16zM1350 1582h15v16h-15zM1365 1582h16v16h-16zM1381 1582h16v16h-16zM1972 1582h16v16h-16zM1988 1582h16v16h-16zM2004 1582h16v16h-16zM2020 1582h16v16h-16zM2036 1582h16v16h-16zM2052 1582h16v16h-16zM2068 1582h16v16h-16zM1302 1566h16v16h-16zM1318 1566h16v16h-16zM1334 1566h16v16h-16zM1350 1566h15v16h-15zM1365 1566h16v16h-16zM1381 1566h16v16h-16zM1972 1566h16v16h-16zM1988 1566h16v16h-16zM2004 1566h16v16h-16zM2020 1566h16v16h-16zM2036 1566h16v16h-16zM2052 1566h16v16h-16zM2068 1566h16v16h-16zM1302 1550h16v16h-16zM1318 1550h16v16h-16zM1334 1550h16v16h-16zM1350 1550h15v16h-15zM1365 1550h16v16h-16zM1381 1550h16v16h-16zM1972 1550h16v16h-16zM1988 1550h16v16h-16zM2004 1550h16v16h-16zM2020 1550h16v16h-16zM2036 1550h16v16h-16zM2052 1550h16v16h-16zM2068 1550h16v16h-16zM1302 1534h16v16h-16zM1318 1534h16v16h-16zM1334 1534h16v16h-16zM1350 1534h15v16h-15zM1365 1534h16v16h-16zM1381 1534h16v16h-16zM1972 1534h16v16h-16zM1988 1534h16v16h-16zM2004 1534h16v16h-16zM2020 1534h16v16h-16zM2036 1534h16v16h-16zM2052 1534h16v16h-16zM2068 1534h16v16h-16zM1302 1518h16v16h-16zM1318 1518h16v16h-16zM1334 1518h16v16h-16zM1350 1518h15v16h-15zM1365 1518h16v16h-16zM1381 1518h16v16h-16zM1397 1518h16v16h-16zM1972 1518h16v16h-16zM1988 1518h16v16h-16zM2004 1518h16v16h-16zM2020 1518h16v16h-16zM2036 1518h16v16h-16zM2052 1518h16v16h-16zM2068 1518h16v16h-16zM1302 1502h16v16h-16zM1318 1502h16v16h-16zM1334 1502h16v16h-16zM1350 1502h15v16h-15zM1365 1502h16v16h-16zM1381 1502h16v16h-16zM1397 1502h16v16h-16zM1972 1502h16v16h-16zM1988 1502h16v16h-16zM2004 1502h16v16h-16zM2020 1502h16v16h-16zM2036 1502h16v16h-16zM2052 1502h16v16h-16zM2068 1502h16v16h-16zM1302 1486h16v16h-16zM1318 1486h16v16h-16zM1334 1486h16v16h-16zM1350 1486h15v16h-15zM1365 1486h16v16h-16zM1381 1486h16v16h-16zM1397 1486h16v16h-16zM1972 1486h16v16h-16zM1988 1486h16v16h-16zM2004 1486h16v16h-16zM2020 1486h16v16h-16zM2036 1486h16v16h-16zM2052 1486h16v16h-16zM2068 1486h16v16h-16zM1302 1469h16v17h-16zM1318 1469h16v17h-16zM1334 1469h16v17h-16zM1350 1469h15v17h-15zM1365 1469h16v17h-16zM1381 1469h16v17h-16zM1397 1469h16v17h-16zM1956 1469h16v17h-16zM1972 1469h16v17h-16zM1988 1469h16v17h-16zM2004 1469h16v17h-16zM2020 1469h16v17h-16zM2036 1469h16v17h-16zM2052 1469h16v17h-16zM2068 1469h16v17h-16zM1302 1453h16v16h-16zM1318 1453h16v16h-16zM1334 1453h16v16h-16zM1350 1453h15v16h-15zM1365 1453h16v16h-16zM1381 1453h16v16h-16zM1397 1453h16v16h-16zM1956 1453h16v16h-16zM1972 1453h16v16h-16zM1988 1453h16v16h-16zM2004 1453h16v16h-16zM2020 1453h16v16h-16zM2036 1453h16v16h-16zM2052 1453h16v16h-16zM2068 1453h16v16h-16zM1302 1437h16v16h-16zM1318 1437h16v16h-16zM1334 1437h16v16h-16zM1350 1437h15v16h-15zM1365 1437h16v16h-16zM1381 1437h16v16h-16zM1397 1437h16v16h-16zM1413 1437h16v16h-16zM1956 1437h16v16h-16zM1972 1437h16v16h-16zM1988 1437h16v16h-16zM2004 1437h16v16h-16zM2020 1437h16v16h-16zM2036 1437h16v16h-16zM2052 1437h16v16h-16zM2068 1437h16v16h-16zM1302 1421h16v16h-16zM1318 1421h16v16h-16zM1334 1421h16v16h-16zM1350 1421h15v16h-15zM1365 1421h16v16h-16zM1381 1421h16v16h-16zM1397 1421h16v16h-16zM1413 1421h16v16h-16zM1956 1421h16v16h-16zM1972 1421h16v16h-16zM1988 1421h16v16h-16zM2004 1421h16v16h-16zM2020 1421h16v16h-16zM2036 1421h16v16h-16zM2052 1421h16v16h-16zM2068 1421h16v16h-16zM1302 1405h16v16h-16zM1318 1405h16v16h-16zM1334 1405h16v16h-16zM1350 1405h15v16h-15zM1365 1405h16v16h-16zM1381 1405h16v16h-16zM1397 1405h16v16h-16zM1413 1405h16v16h-16zM1940 1405h16v16h-16zM1956 1405h16v16h-16zM1972 1405h16v16h-16zM1988 1405h16v16h-16zM2004 1405h16v16h-16zM2020 1405h16v16h-16zM2036 1405h16v16h-16zM2052 1405h16v16h-16zM2068 1405h16v16h-16zM1302 1389h16v16h-16zM1318 1389h16v16h-16zM1334 1389h16v16h-16zM1350 1389h15v16h-15zM1365 1389h16v16h-16zM1381 1389h16v16h-16zM1397 1389h16v16h-16zM1413 1389h16v16h-16zM1429 1389h16v16h-16zM1940 1389h16v16h-16zM1956 1389h16v16h-16zM1972 1389h16v16h-16zM1988 1389h16v16h-16zM2004 1389h16v16h-16zM2020 1389h16v16h-16zM2036 1389h16v16h-16zM2052 1389h16v16h-16zM2068 1389h16v16h-16zM1302 1373h16v16h-16zM1318 1373h16v16h-16zM1334 1373h16v16h-16zM1350 1373h15v16h-15zM1365 1373h16v16h-16zM1381 1373h16v16h-16zM1397 1373h16v16h-16zM1413 1373h16v16h-16zM1429 1373h16v16h-16zM1940 1373h16v16h-16zM1956 1373h16v16h-16zM1972 1373h16v16h-16zM1988 1373h16v16h-16zM2004 1373h16v16h-16zM2020 1373h16v16h-16zM2036 1373h16v16h-16zM2052 1373h16v16h-16zM2068 1373h16v16h-16zM1302 1357h16v16h-16zM1318 1357h16v16h-16zM1334 1357h16v16h-16zM1350 1357h15v16h-15zM1365 1357h16v16h-16zM1381 1357h16v16h-16zM1397 1357h16v16h-16zM1413 1357h16v16h-16zM1429 1357h16v16h-16zM1924 1357h16v16h-16zM1940 1357h16v16h-16zM1956 1357h16v16h-16zM1972 1357h16v16h-16zM1988 1357h16v16h-16zM2004 1357h16v16h-16zM2020 1357h16v16h-16zM2036 1357h16v16h-16zM2052 1357h16v16h-16zM2068 1357h16v16h-16zM1302 1341h16v16h-16zM1318 1341h16v16h-16zM1334 1341h16v16h-16zM1350 1341h15v16h-15zM1365 1341h16v16h-16zM1381 1341h16v16h-16zM1397 1341h16v16h-16zM1413 1341h16v16h-16zM1429 1341h16v16h-16zM1445 1341h16v16h-16zM1924 1341h16v16h-16zM1940 1341h16v16h-16zM1956 1341h16v16h-16zM1972 1341h16v16h-16zM1988 1341h16v16h-16zM2004 1341h16v16h-16zM2020 1341h16v16h-16zM2036 1341h16v16h-16zM2052 1341h16v16h-16zM2068 1341h16v16h-16zM1302 1325h16v16h-16zM1318 1325h16v16h-16zM1334 1325h16v16h-16zM1350 1325h15v16h-15zM1365 1325h16v16h-16zM1381 1325h16v16h-16zM1397 1325h16v16h-16zM1413 1325h16v16h-16zM1429 1325h16v16h-16zM1445 1325h16v16h-16zM1908 1325h16v16h-16zM1924 1325h16v16h-16zM1940 1325h16v16h-16zM1956 1325h16v16h-16zM1972 1325h16v16h-16zM1988 1325h16v16h-16zM2004 1325h16v16h-16zM2020 1325h16v16h-16zM2036 1325h16v16h-16zM2052 1325h16v16h-16zM2068 1325h16v16h-16zM1302 1309h16v16h-16zM1318 1309h16v16h-16zM1334 1309h16v16h-16zM1350 1309h15v16h-15zM1365 1309h16v16h-16zM1381 1309h16v16h-16zM1397 1309h16v16h-16zM1413 1309h16v16h-16zM1429 1309h16v16h-16zM1445 1309h16v16h-16zM1461 1309h16v16h-16zM1908 1309h16v16h-16zM1924 1309h16v16h-16zM1940 1309h16v16h-16zM1956 1309h16v16h-16zM1972 1309h16v16h-16zM1988 1309h16v16h-16zM2004 1309h16v16h-16zM2020 1309h16v16h-16zM2036 1309h16v16h-16zM2052 1309h16v16h-16zM2068 1309h16v16h-16zM1302 1293h16v16h-16zM1318 1293h16v16h-16zM1334 1293h16v16h-16zM1350 1293h15v16h-15zM1365 1293h16v16h-16zM1381 1293h16v16h-16zM1397 1293h16v16h-16zM1413 1293h16v16h-16zM1429 1293h16v16h-16zM1445 1293h16v16h-16zM1461 1293h16v16h-16zM1892 1293h16v16h-16zM1908 1293h16v16h-16zM1924 1293h16v16h-16zM1940 1293h16v16h-16zM1956 1293h16v16h-16zM1972 1293h16v16h-16zM1988 1293h16v16h-16zM2004 1293h16v16h-16zM2020 1293h16v16h-16zM2036 1293h16v16h-16zM2052 1293h16v16h-16zM2068 1293h16v16h-16zM1302 1277h16v16h-16zM1318 1277h16v16h-16zM1334 1277h16v16h-16zM1350 1277h15v16h-15zM1365 1277h16v16h-16zM1381 1277h16v16h-16zM1397 1277h16v16h-16zM1413 1277h16v16h-16zM1429 1277h16v16h-16zM1445 1277h16v16h-16zM1461 1277h16v16h-16zM1477 1277h16v16h-16zM1876 1277h16v16h-16zM1892 1277h16v16h-16zM1908 1277h16v16h-16zM1924 1277h16v16h-16zM1940 1277h16v16h-16zM1956 1277h16v16h-16zM1972 1277h16v16h-16zM1988 1277h16v16h-16zM2004 1277h16v16h-16zM2020 1277h16v16h-16zM2036 1277h16v16h-16zM2052 1277h16v16h-16zM2068 1277h16v16h-16zM1302 1261h16v16h-16zM1318 1261h16v16h-16zM1334 1261h16v16h-16zM1350 1261h15v16h-15zM1365 1261h16v16h-16zM1381 1261h16v16h-16zM1397 1261h16v16h-16zM1413 1261h16v16h-16zM1429 1261h16v16h-16zM1445 1261h16v16h-16zM1461 1261h16v16h-16zM1477 1261h16v16h-16zM1493 1261h16v16h-16zM1876 1261h16v16h-16zM1892 1261h16v16h-16zM1908 1261h16v16h-16zM1924 1261h16v16h-16zM1940 1261h16v16h-16zM1956 1261h16v16h-16zM1972 1261h16v16h-16zM1988 1261h16v16h-16zM2004 1261h16v16h-16zM2020 1261h16v16h-16zM2036 1261h16v16h-16zM2052 1261h16v16h-16zM2068 1261h16v16h-16zM1302 1245h16v16h-16zM1318 1245h16v16h-16zM1334 1245h16v16h-16zM1350 1245h15v16h-15zM1365 1245h16v16h-16zM1381 1245h16v16h-16zM1397 1245h16v16h-16zM1413 1245h16v16h-16zM1429 1245h16v16h-16zM1445 1245h16v16h-16zM1461 1245h16v16h-16zM1477 1245h16v16h-16zM1493 1245h16v16h-16zM1509 1245h16v16h-16zM1860 1245h16v16h-16zM1876 1245h16v16h-16zM1892 1245h16v16h-16zM1908 1245h16v16h-16zM1924 1245h16v16h-16zM1940 1245h16v16h-16zM1956 1245h16v16h-16zM1972 1245h16v16h-16zM1988 1245h16v16h-16zM2004 1245h16v16h-16zM2020 1245h16v16h-16zM2036 1245h16v16h-16zM2052 1245h16v16h-16zM2068 1245h16v16h-16zM1302 1229h16v16h-16zM1318 1229h16v16h-16zM1334 1229h16v16h-16zM1350 1229h15v16h-15zM1365 1229h16v16h-16zM1381 1229h16v16h-16zM1397 1229h16v16h-16zM1413 1229h16v16h-16zM1429 1229h16v16h-16zM1445 1229h16v16h-16zM1461 1229h16v16h-16zM1477 1229h16v16h-16zM1493 1229h16v16h-16zM1509 1229h16v16h-16zM1525 1229h16v16h-16zM1844 1229h16v16h-16zM1860 1229h16v16h-16zM1876 1229h16v16h-16zM1892 1229h16v16h-16zM1908 1229h16v16h-16zM1924 1229h16v16h-16zM1940 1229h16v16h-16zM1956 1229h16v16h-16zM1972 1229h16v16h-16zM1988 1229h16v16h-16zM2004 1229h16v16h-16zM2020 1229h16v16h-16zM2036 1229h16v16h-16zM2052 1229h16v16h-16zM2068 1229h16v16h-16zM1302 1213h16v16h-16zM1318 1213h16v16h-16zM1334 1213h16v16h-16zM1350 1213h15v16h-15zM1365 1213h16v16h-16zM1381 1213h16v16h-16zM1397 1213h16v16h-16zM1413 1213h16v16h-16zM1429 1213h16v16h-16zM1445 1213h16v16h-16zM1461 1213h16v16h-16zM1477 1213h16v16h-16zM1493 1213h16v16h-16zM1509 1213h16v16h-16zM1525 1213h16v16h-16zM1541 1213h16v16h-16zM1829 1213h15v16h-15zM1844 1213h16v16h-16zM1860 1213h16v16h-16zM1876 1213h16v16h-16zM1892 1213h16v16h-16zM1908 1213h16v16h-16zM1924 1213h16v16h-16zM1940 1213h16v16h-16zM1956 1213h16v16h-16zM1972 1213h16v16h-16zM1988 1213h16v16h-16zM2004 1213h16v16h-16zM2020 1213h16v16h-16zM2036 1213h16v16h-16zM2052 1213h16v16h-16zM2068 1213h16v16h-16zM1302 1197h16v16h-16zM1318 1197h16v16h-16zM1334 1197h16v16h-16zM1350 1197h15v16h-15zM1365 1197h16v16h-16zM1381 1197h16v16h-16zM1397 1197h16v16h-16zM1413 1197h16v16h-16zM1429 1197h16v16h-16zM1445 1197h16v16h-16zM1461 1197h16v16h-16zM1477 1197h16v16h-16zM1493 1197h16v16h-16zM1509 1197h16v16h-16zM1525 1197h16v16h-16zM1541 1197h16v16h-16zM1557 1197h16v16h-16zM1813 1197h16v16h-16zM1829 1197h15v16h-15zM1844 1197h16v16h-16zM1860 1197h16v16h-16zM1876 1197h16v16h-16zM1892 1197h16v16h-16zM1908 1197h16v16h-16zM1924 1197h16v16h-16zM1940 1197h16v16h-16zM1956 1197h16v16h-16zM1972 1197h16v16h-16zM1988 1197h16v16h-16zM2004 1197h16v16h-16zM2020 1197h16v16h-16zM2036 1197h16v16h-16zM2052 1197h16v16h-16zM2068 1197h16v16h-16zM1302 1181h16v16h-16zM1318 1181h16v16h-16zM1334 1181h16v16h-16zM1350 1181h15v16h-15zM1365 1181h16v16h-16zM1381 1181h16v16h-16zM1397 1181h16v16h-16zM1413 1181h16v16h-16zM1429 1181h16v16h-16zM1445 1181h16v16h-16zM1461 1181h16v16h-16zM1477 1181h16v16h-16zM1493 1181h16v16h-16zM1509 1181h16v16h-16zM1525 1181h16v16h-16zM1541 1181h16v16h-16zM1557 1181h16v16h-16zM1573 1181h16v16h-16zM1589 1181h16v16h-16zM1781 1181h16v16h-16zM1797 1181h16v16h-16zM1813 1181h16v16h-16zM1829 1181h15v16h-15zM1844 1181h16v16h-16zM1860 1181h16v16h-16zM1876 1181h16v16h-16zM1892 1181h16v16h-16zM1908 1181h16v16h-16zM1924 1181h16v16h-16zM1940 1181h16v16h-16zM1956 1181h16v16h-16zM1972 1181h16v16h-16zM1988 1181h16v16h-16zM2004 1181h16v16h-16zM2020 1181h16v16h-16zM2036 1181h16v16h-16zM2052 1181h16v16h-16zM2068 1181h16v16h-16zM1302 1165h16v16h-16zM1318 1165h16v16h-16zM1334 1165h16v16h-16zM1350 1165h15v16h-15zM1365 1165h16v16h-16zM1381 1165h16v16h-16zM1397 1165h16v16h-16zM1413 1165h16v16h-16zM1429 1165h16v16h-16zM1445 1165h16v16h-16zM1461 1165h16v16h-16zM1477 1165h16v16h-16zM1493 1165h16v16h-16zM1509 1165h16v16h-16zM1525 1165h16v16h-16zM1541 1165h16v16h-16zM1557 1165h16v16h-16zM1573 1165h16v16h-16zM1589 1165h16v16h-16zM1605 1165h16v16h-16zM1621 1165h16v16h-16zM1637 1165h16v16h-16zM1733 1165h16v16h-16zM1749 1165h16v16h-16zM1765 1165h16v16h-16zM1781 1165h16v16h-16zM1797 1165h16v16h-16zM1813 1165h16v16h-16zM1829 1165h15v16h-15zM1844 1165h16v16h-16zM1860 1165h16v16h-16zM1876 1165h16v16h-16zM1892 1165h16v16h-16zM1908 1165h16v16h-16zM1924 1165h16v16h-16zM1940 1165h16v16h-16zM1956 1165h16v16h-16zM1972 1165h16v16h-16zM1988 1165h16v16h-16zM2004 1165h16v16h-16zM2020 1165h16v16h-16zM2036 1165h16v16h-16zM2052 1165h16v16h-16zM2068 1165h16v16h-16zM1302 1149h16v16h-16zM1318 1149h16v16h-16zM1334 1149h16v16h-16zM1350 1149h15v16h-15zM1365 1149h16v16h-16zM1381 1149h16v16h-16zM1397 1149h16v16h-16zM1413 1149h16v16h-16zM1429 1149h16v16h-16zM1445 1149h16v16h-16zM1461 1149h16v16h-16zM1477 1149h16v16h-16zM1493 1149h16v16h-16zM1509 1149h16v16h-16zM1525 1149h16v16h-16zM1541 1149h16v16h-16zM1557 1149h16v16h-16zM1573 1149h16v16h-16zM1589 1149h16v16h-16zM1605 1149h16v16h-16zM1621 1149h16v16h-16zM1637 1149h16v16h-16zM1653 1149h16v16h-16zM1669 1149h16v16h-16zM1685 1149h16v16h-16zM1701 1149h16v16h-16zM1717 1149h16v16h-16zM1733 1149h16v16h-16zM1749 1149h16v16h-16zM1765 1149h16v16h-16zM1781 1149h16v16h-16zM1797 1149h16v16h-16zM1813 1149h16v16h-16zM1829 1149h15v16h-15zM1844 1149h16v16h-16zM1860 1149h16v16h-16zM1876 1149h16v16h-16zM1892 1149h16v16h-16zM1908 1149h16v16h-16zM1924 1149h16v16h-16zM1940 1149h16v16h-16zM1956 1149h16v16h-16zM1972 1149h16v16h-16zM1988 1149h16v16h-16zM2004 1149h16v16h-16zM2020 1149h16v16h-16zM2036 1149h16v16h-16zM2052 1149h16v16h-16zM2068 1149h16v16h-16zM1302 1132h16v17h-16zM1318 1132h16v17h-16zM1334 1132h16v17h-16zM1350 1132h15v17h-15zM1365 1132h16v17h-16zM1381 1132h16v17h-16zM1397 1132h16v17h-16zM1413 1132h16v17h-16zM1429 1132h16v17h-16zM1445 1132h16v17h-16zM1461 1132h16v17h-16zM1477 1132h16v17h-16zM1493 1132h16v17h-16zM1509 1132h16v17h-16zM1525 1132h16v17h-16zM1541 1132h16v17h-16zM1557 1132h16v17h-16zM1573 1132h16v17h-16zM1589 1132h16v17h-16zM1605 1132h16v17h-16zM1621 1132h16v17h-16zM1637 1132h16v17h-16zM1653 1132h16v17h-16zM1669 1132h16v17h-16zM1685 1132h16v17h-16zM1701 1132h16v17h-16zM1717 1132h16v17h-16zM1733 1132h16v17h-16zM1749 1132h16v17h-16zM1765 1132h16v17h-16zM1781 1132h16v17h-16zM1797 1132h16v17h-16zM1813 1132h16v17h-16zM1829 1132h15v17h-15zM1844 1132h16v17h-16zM1860 1132h16v17h-16zM1876 1132h16v17h-16zM1892 1132h16v17h-16zM1908 1132h16v17h-16zM1924 1132h16v17h-16zM1940 1132h16v17h-16zM1956 1132h16v17h-16zM1972 1132h16v17h-16zM1988 1132h16v17h-16zM2004 1132h16v17h-16zM2020 1132h16v17h-16zM2036 1132h16v17h-16zM2052 1132h16v17h-16zM2068 1132h16v17h-16zM1302 1116h16v16h-16zM1318 1116h16v16h-16zM1334 1116h16v16h-16zM1350 1116h15v16h-15zM1365 1116h16v16h-16zM1381 1116h16v16h-16zM1397 1116h16v16h-16zM1413 1116h16v16h-16zM1429 1116h16v16h-16zM1445 1116h16v16h-16zM1461 1116h16v16h-16zM1477 1116h16v16h-16zM1493 1116h16v16h-16zM1509 1116h16v16h-16zM1525 1116h16v16h-16zM1541 1116h16v16h-16zM1557 1116h16v16h-16zM1573 1116h16v16h-16zM1589 1116h16v16h-16zM1605 1116h16v16h-16zM1621 1116h16v16h-16zM1637 1116h16v16h-16zM1653 1116h16v16h-16zM1669 1116h16v16h-16zM1685 1116h16v16h-16zM1701 1116h16v16h-16zM1717 1116h16v16h-16zM1733 1116h16v16h-16zM1749 1116h16v16h-16zM1765 1116h16v16h-16zM1781 1116h16v16h-16zM1797 1116h16v16h-16zM1813 1116h16v16h-16zM1829 1116h15v16h-15zM1844 1116h16v16h-16zM1860 1116h16v16h-16zM1876 1116h16v16h-16zM1892 1116h16v16h-16zM1908 1116h16v16h-16zM1924 1116h16v16h-16zM1940 1116h16v16h-16zM1956 1116h16v16h-16zM1972 1116h16v16h-16zM1988 1116h16v16h-16zM2004 1116h16v16h-16zM2020 1116h16v16h-16zM2036 1116h16v16h-16zM2052 1116h16v16h-16zM2068 1116h16v16h-16zM1302 1100h16v16h-16zM1318 1100h16v16h-16zM1334 1100h16v16h-16zM1350 1100h15v16h-15zM1365 1100h16v16h-16zM1381 1100h16v16h-16zM1397 1100h16v16h-16zM1413 1100h16v16h-16zM1429 1100h16v16h-16zM1445 1100h16v16h-16zM1461 1100h16v16h-16zM1477 1100h16v16h-16zM1493 1100h16v16h-16zM1509 1100h16v16h-16zM1525 1100h16v16h-16zM1541 1100h16v16h-16zM1557 1100h16v16h-16zM1573 1100h16v16h-16zM1589 1100h16v16h-16zM1605 1100h16v16h-16zM1621 1100h16v16h-16zM1637 1100h16v16h-16zM1653 1100h16v16h-16zM1669 1100h16v16h-16zM1685 1100h16v16h-16zM1701 1100h16v16h-16zM1717 1100h16v16h-16zM1733 1100h16v16h-16zM1749 1100h16v16h-16zM1765 1100h16v16h-16zM1781 1100h16v16h-16zM1797 1100h16v16h-16zM1813 1100h16v16h-16zM1829 1100h15v16h-15zM1844 1100h16v16h-16zM1860 1100h16v16h-16zM1876 1100h16v16h-16zM1892 1100h16v16h-16zM1908 1100h16v16h-16zM1924 1100h16v16h-16zM1940 1100h16v16h-16zM1956 1100h16v16h-16zM1972 1100h16v16h-16zM1988 1100h16v16h-16zM2004 1100h16v16h-16zM2020 1100h16v16h-16zM2036 1100h16v16h-16zM2052 1100h16v16h-16zM2068 1100h16v16h-16zM1302 1084h16v16h-16zM1318 1084h16v16h-16zM1334 1084h16v16h-16zM1350 1084h15v16h-15zM1365 1084h16v16h-16zM1381 1084h16v16h-16zM1397 1084h16v16h-16zM1413 1084h16v16h-16zM1429 1084h16v16h-16zM1445 1084h16v16h-16zM1461 1084h16v16h-16zM1477 1084h16v16h-16zM1493 1084h16v16h-16zM1509 1084h16v16h-16zM1525 1084h16v16h-16zM1541 1084h16v16h-16zM1557 1084h16v16h-16zM1573 1084h16v16h-16zM1589 1084h16v16h-16zM1605 1084h16v16h-16zM1621 1084h16v16h-16zM1637 1084h16v16h-16zM1653 1084h16v16h-16zM1669 1084h16v16h-16zM1685 1084h16v16h-16zM1701 1084h16v16h-16zM1717 1084h16v16h-16zM1733 1084h16v16h-16zM1749 1084h16v16h-16zM1765 1084h16v16h-16zM1781 1084h16v16h-16zM1797 1084h16v16h-16zM1813 1084h16v16h-16zM1829 1084h15v16h-15zM1844 1084h16v16h-16zM1860 1084h16v16h-16zM1876 1084h16v16h-16zM1892 1084h16v16h-16zM1908 1084h16v16h-16zM1924 1084h16v16h-16zM1940 1084h16v16h-16zM1956 1084h16v16h-16zM1972 1084h16v16h-16zM1988 1084h16v16h-16zM2004 1084h16v16h-16zM2020 1084h16v16h-16zM2036 1084h16v16h-16zM2052 1084h16v16h-16zM2068 1084h16v16h-16zM1302 1068h16v16h-16zM1318 1068h16v16h-16zM1334 1068h16v16h-16zM1350 1068h15v16h-15zM1365 1068h16v16h-16zM1381 1068h16v16h-16zM1397 1068h16v16h-16zM1413 1068h16v16h-16zM1429 1068h16v16h-16zM1445 1068h16v16h-16zM1461 1068h16v16h-16zM1477 1068h16v16h-16zM1493 1068h16v16h-16zM1509 1068h16v16h-16zM1525 1068h16v16h-16zM1541 1068h16v16h-16zM1557 1068h16v16h-16zM1573 1068h16v16h-16zM1589 1068h16v16h-16zM1605 1068h16v16h-16zM1621 1068h16v16h-16zM1637 1068h16v16h-16zM1653 1068h16v16h-16zM1669 1068h16v16h-16zM1685 1068h16v16h-16zM1701 1068h16v16h-16zM1717 1068h16v16h-16zM1733 1068h16v16h-16zM1749 1068h16v16h-16zM1765 1068h16v16h-16zM1781 1068h16v16h-16zM1797 1068h16v16h-16zM1813 1068h16v16h-16zM1829 1068h15v16h-15zM1844 1068h16v16h-16zM1860 1068h16v16h-16zM1876 1068h16v16h-16zM1892 1068h16v16h-16zM1908 1068h16v16h-16zM1924 1068h16v16h-16zM1940 1068h16v16h-16zM1956 1068h16v16h-16zM1972 1068h16v16h-16zM1988 1068h16v16h-16zM2004 1068h16v16h-16zM2020 1068h16v16h-16zM2036 1068h16v16h-16zM2052 1068h16v16h-16zM2068 1068h16v16h-16zM1302 1052h16v16h-16zM1318 1052h16v16h-16zM1334 1052h16v16h-16zM1350 1052h15v16h-15zM1365 1052h16v16h-16zM1381 1052h16v16h-16zM1397 1052h16v16h-16zM1413 1052h16v16h-16zM1429 1052h16v16h-16zM1445 1052h16v16h-16zM1461 1052h16v16h-16zM1477 1052h16v16h-16zM1493 1052h16v16h-16zM1509 1052h16v16h-16zM1525 1052h16v16h-16zM1541 1052h16v16h-16zM1557 1052h16v16h-16zM1573 1052h16v16h-16zM1589 1052h16v16h-16zM1605 1052h16v16h-16zM1621 1052h16v16h-16zM1637 1052h16v16h-16zM1653 1052h16v16h-16zM1669 1052h16v16h-16zM1685 1052h16v16h-16zM1701 1052h16v16h-16zM1717 1052h16v16h-16zM1733 1052h16v16h-16zM1749 1052h16v16h-16zM1765 1052h16v16h-16zM1781 1052h16v16h-16zM1797 1052h16v16h-16zM1813 1052h16v16h-16zM1829 1052h15v16h-15zM1844 1052h16v16h-16zM1860 1052h16v16h-16zM1876 1052h16v16h-16zM1892 1052h16v16h-16zM1908 1052h16v16h-16zM1924 1052h16v16h-16zM1940 1052h16v16h-16zM1956 1052h16v16h-16zM1972 1052h16v16h-16zM1988 1052h16v16h-16zM2004 1052h16v16h-16zM2020 1052h16v16h-16zM2036 1052h16v16h-16zM2052 1052h16v16h-16zM2068 1052h16v16h-16zM1302 1036h16v16h-16zM1318 1036h16v16h-16zM1334 1036h16v16h-16zM1350 1036h15v16h-15zM1365 1036h16v16h-16zM1381 1036h16v16h-16zM1397 1036h16v16h-16zM1413 1036h16v16h-16zM1429 1036h16v16h-16zM1445 1036h16v16h-16zM1461 1036h16v16h-16zM1477 1036h16v16h-16zM1493 1036h16v16h-16zM1509 1036h16v16h-16zM1525 1036h16v16h-16zM1541 1036h16v16h-16zM1557 1036h16v16h-16zM1573 1036h16v16h-16zM1589 1036h16v16h-16zM1605 1036h16v16h-16zM1621 1036h16v16h-16zM1637 1036h16v16h-16zM1653 1036h16v16h-16zM1669 1036h16v16h-16zM1685 1036h16v16h-16zM1701 1036h16v16h-16zM1717 1036h16v16h-16zM1733 1036h16v16h-16zM1749 1036h16v16h-16zM1765 1036h16v16h-16zM1781 1036h16v16h-16zM1797 1036h16v16h-16zM1813 1036h16v16h-16zM1829 1036h15v16h-15zM1844 1036h16v16h-16zM1860 1036h16v16h-16zM1876 1036h16v16h-16zM1892 1036h16v16h-16zM1908 1036h16v16h-16zM1924 1036h16v16h-16zM1940 1036h16v16h-16zM1956 1036h16v16h-16zM1972 1036h16v16h-16zM1988 1036h16v16h-16zM2004 1036h16v16h-16zM2020 1036h16v16h-16zM2036 1036h16v16h-16zM2052 1036h16v16h-16zM2068 1036h16v16h-16zM1302 1020h16v16h-16zM1318 1020h16v16h-16zM1334 1020h16v16h-16zM1350 1020h15v16h-15zM1365 1020h16v16h-16zM1381 1020h16v16h-16zM1397 1020h16v16h-16zM1413 1020h16v16h-16zM1429 1020h16v16h-16zM1445 1020h16v16h-16zM1461 1020h16v16h-16zM1477 1020h16v16h-16zM1493 1020h16v16h-16zM1509 1020h16v16h-16zM1525 1020h16v16h-16zM1541 1020h16v16h-16zM1557 1020h16v16h-16zM1573 1020h16v16h-16zM1589 1020h16v16h-16zM1605 1020h16v16h-16zM1621 1020h16v16h-16zM1637 1020h16v16h-16zM1653 1020h16v16h-16zM1669 1020h16v16h-16zM1685 1020h16v16h-16zM1701 1020h16v16h-16zM1717 1020h16v16h-16zM1733 1020h16v16h-16zM1749 1020h16v16h-16zM1765 1020h16v16h-16zM1781 1020h16v16h-16zM1797 1020h16v16h-16zM1813 1020h16v16h-16zM1829 1020h15v16h-15zM1844 1020h16v16h-16zM1860 1020h16v16h-16zM1876 1020h16v16h-16zM1892 1020h16v16h-16zM1908 1020h16v16h-16zM1924 1020h16v16h-16zM1940 1020h16v16h-16zM1956 1020h16v16h-16zM1972 1020h16v16h-16zM1988 1020h16v16h-16zM2004 1020h16v16h-16zM2020 1020h16v16h-16zM2036 1020h16v16h-16zM2052 1020h16v16h-16zM2068 1020h16v16h-16zM1302 1004h16v16h-16zM1318 1004h16v16h-16zM1334 1004h16v16h-16zM1350 1004h15v16h-15zM1365 1004h16v16h-16zM1381 1004h16v16h-16zM1397 1004h16v16h-16zM1413 1004h16v16h-16zM1429 1004h16v16h-16zM1445 1004h16v16h-16zM1461 1004h16v16h-16zM1477 1004h16v16h-16zM1493 1004h16v16h-16zM1509 1004h16v16h-16zM1525 1004h16v16h-16zM1541 1004h16v16h-16zM1557 1004h16v16h-16zM1573 1004h16v16h-16zM1589 1004h16v16h-16zM1605 1004h16v16h-16zM1621 1004h16v16h-16zM1637 1004h16v16h-16zM1653 1004h16v16h-16zM1669 1004h16v16h-16zM1685 1004h16v16h-16zM1701 1004h16v16h-16zM1717 1004h16v16h-16zM1733 1004h16v16h-16zM1749 1004h16v16h-16zM1765 1004h16v16h-16zM1781 1004h16v16h-16zM1797 1004h16v16h-16zM1813 1004h16v16h-16zM1829 1004h15v16h-15zM1844 1004h16v16h-16zM1860 1004h16v16h-16zM1876 1004h16v16h-16zM1892 1004h16v16h-16zM1908 1004h16v16h-16zM1924 1004h16v16h-16zM1940 1004h16v16h-16zM1956 1004h16v16h-16zM1972 1004h16v16h-16zM1988 1004h16v16h-16zM2004 1004h16v16h-16zM2020 1004h16v16h-16zM2036 1004h16v16h-16zM2052 1004h16v16h-16zM2068 1004h16v16h-16zM1302 988h16v16h-16zM1318 988h16v16h-16zM1334 988h16v16h-16zM1350 988h15v16h-15zM1365 988h16v16h-16zM1381 988h16v16h-16zM1397 988h16v16h-16zM1413 988h16v16h-16zM1429 988h16v16h-16zM1445 988h16v16h-16zM1461 988h16v16h-16zM1477 988h16v16h-16zM1493 988h16v16h-16zM1509 988h16v16h-16zM1525 988h16v16h-16zM1541 988h16v16h-16zM1557 988h16v16h-16zM1573 988h16v16h-16zM1589 988h16v16h-16zM1605 988h16v16h-16zM1621 988h16v16h-16zM1637 988h16v16h-16zM1653 988h16v16h-16zM1669 988h16v16h-16zM1685 988h16v16h-16zM1701 988h16v16h-16zM1717 988h16v16h-16zM1733 988h16v16h-16zM1749 988h16v16h-16zM1765 988h16v16h-16zM1781 988h16v16h-16zM1797 988h16v16h-16zM1813 988h16v16h-16zM1829 988h15v16h-15zM1844 988h16v16h-16zM1860 988h16v16h-16zM1876 988h16v16h-16zM1892 988h16v16h-16zM1908 988h16v16h-16zM1924 988h16v16h-16zM1940 988h16v16h-16zM1956 988h16v16h-16zM1972 988h16v16h-16zM1988 988h16v16h-16zM2004 988h16v16h-16zM2020 988h16v16h-16zM2036 988h16v16h-16zM2052 988h16v16h-16zM2068 988h16v16h-16zM1302 972h16v16h-16zM1318 972h16v16h-16zM1334 972h16v16h-16zM1350 972h15v16h-15zM1365 972h16v16h-16zM1381 972h16v16h-16zM1397 972h16v16h-16zM1413 972h16v16h-16zM1429 972h16v16h-16zM1445 972h16v16h-16zM1461 972h16v16h-16zM1477 972h16v16h-16zM1493 972h16v16h-16zM1509 972h16v16h-16zM1525 972h16v16h-16zM1541 972h16v16h-16zM1557 972h16v16h-16zM1573 972h16v16h-16zM1589 972h16v16h-16zM1605 972h16v16h-16zM1621 972h16v16h-16zM1637 972h16v16h-16zM1653 972h16v16h-16zM1669 972h16v16h-16zM1685 972h16v16h-16zM1701 972h16v16h-16zM1717 972h16v16h-16zM1733 972h16v16h-16zM1749 972h16v16h-16zM1765 972h16v16h-16zM1781 972h16v16h-16zM1797 972h16v16h-16zM1813 972h16v16h-16zM1829 972h15v16h-15zM1844 972h16v16h-16zM1860 972h16v16h-16zM1876 972h16v16h-16zM1892 972h16v16h-16zM1908 972h16v16h-16zM1924 972h16v16h-16zM1940 972h16v16h-16zM1956 972h16v16h-16zM1972 972h16v16h-16zM1988 972h16v16h-16zM2004 972h16v16h-16zM2020 972h16v16h-16zM2036 972h16v16h-16zM2052 972h16v16h-16zM2068 972h16v16h-16zM1302 956h16v16h-16zM1318 956h16v16h-16zM1334 956h16v16h-16zM1350 956h15v16h-15zM1365 956h16v16h-16zM1381 956h16v16h-16zM1397 956h16v16h-16zM1413 956h16v16h-16zM1429 956h16v16h-16zM1445 956h16v16h-16zM1461 956h16v16h-16zM1477 956h16v16h-16zM1493 956h16v16h-16zM1509 956h16v16h-16zM1525 956h16v16h-16zM1541 956h16v16h-16zM1557 956h16v16h-16zM1573 956h16v16h-16zM1589 956h16v16h-16zM1605 956h16v16h-16zM1621 956h16v16h-16zM1637 956h16v16h-16zM1653 956h16v16h-16zM1669 956h16v16h-16zM1685 956h16v16h-16zM1701 956h16v16h-16zM1717 956h16v16h-16zM1733 956h16v16h-16zM1749 956h16v16h-16zM1765 956h16v16h-16zM1781 956h16v16h-16zM1797 956h16v16h-16zM1813 956h16v16h-16zM1829 956h15v16h-15zM1844 956h16v16h-16zM1860 956h16v16h-16zM1876 956h16v16h-16zM1892 956h16v16h-16zM1908 956h16v16h-16zM1924 956h16v16h-16zM1940 956h16v16h-16zM1956 956h16v16h-16zM1972 956h16v16h-16zM1988 956h16v16h-16zM2004 956h16v16h-16zM2020 956h16v16h-16zM2036 956h16v16h-16zM2052 956h16v16h-16zM2068 956h16v16h-16z"/>
<path fill="#5044ed" d="M1413 1646h16v16h-16zM1429 1646h16v16h-16zM1940 1646h16v16h-16zM1956 1646h16v16h-16zM1413 1630h16v16h-16zM1940 1630h16v16h-16zM1956 1630h16v16h-16zM1413 1614h16v16h-16zM1956 1614h16v16h-16zM1413 1598h16v16h-16zM1956 1598h16v16h-16zM1397 1582h16v16h-16zM1413 1582h16v16h-16zM1956 1582h16v16h-16zM1397 1566h16v16h-16zM1413 1566h16v16h-16zM1956 1566h16v16h-16zM1397 1550h16v16h-16zM1413 1550h16v16h-16zM1956 1550h16v16h-16zM1397 1534h16v16h-16zM1413 1534h16v16h-16zM1956 1534h16v16h-16zM1413 1518h16v16h-16zM1956 1518h16v16h-16zM1413 1502h16v16h-16zM1940 1502h16v16h-16zM1956 1502h16v16h-16zM1413 1486h16v16h-16zM1940 1486h16v16h-16zM1956 1486h16v16h-16zM1413 1469h16v17h-16zM1429 1469h16v17h-16zM1940 1469h16v17h-16zM1413 1453h16v16h-16zM1429 1453h16v16h-16zM1940 1453h16v16h-16zM1429 1437h16v16h-16zM1924 1437h16v16h-16zM1940 1437h16v16h-16zM1429 1421h16v16h-16zM1445 1421h16v16h-16zM1924 1421h16v16h-16zM1940 1421h16v16h-16zM1429 1405h16v16h-16zM1445 1405h16v16h-16zM1924 1405h16v16h-16zM1445 1389h16v16h-16zM1908 1389h16v16h-16zM1924 1389h16v16h-16zM1445 1373h16v16h-16zM1461 1373h16v16h-16zM1908 1373h16v16h-16zM1924 1373h16v16h-16zM1445 1357h16v16h-16zM1461 1357h16v16h-16zM1892 1357h16v16h-16zM1908 1357h16v16h-16zM1461 1341h16v16h-16zM1477 1341h16v16h-16zM1892 1341h16v16h-16zM1908 1341h16v16h-16zM1461 1325h16v16h-16zM1477 1325h16v16h-16zM1876 1325h16v16h-16zM1892 1325h16v16h-16zM1477 1309h16v16h-16zM1493 1309h16v16h-16zM1876 1309h16v16h-16zM1892 1309h16v16h-16zM1477 1293h16v16h-16zM1493 1293h16v16h-16zM1860 1293h16v16h-16zM1876 1293h16v16h-16zM1493 1277h16v16h-16zM1509 1277h16v16h-16zM1844 1277h16v16h-16zM1860 1277h16v16h-16zM1509 1261h16v16h-16zM1525 1261h16v16h-16zM1829 1261h15v16h-15zM1844 1261h16v16h-16zM1860 1261h16v16h-16zM1525 1245h16v16h-16zM1541 1245h16v16h-16zM1813 1245h16v16h-16zM1829 1245h15v16h-15zM1844 1245h16v16h-16zM1541 1229h16v16h-16zM1557 1229h16v16h-16zM1573 1229h16v16h-16zM1797 1229h16v16h-16zM1813 1229h16v16h-16zM1829 1229h15v16h-15zM1557 1213h16v16h-16zM1573 1213h16v16h-16zM1589 1213h16v16h-16zM1765 1213h16v16h-16zM1781 1213h16v16h-16zM1797 1213h16v16h-16zM1813 1213h16v16h-16zM1573 1197h16v16h-16zM1589 1197h16v16h-16zM1605 1197h16v16h-16zM1621 1197h16v16h-16zM1637 1197h16v16h-16zM1717 1197h16v16h-16zM1733 1197h16v16h-16zM1749 1197h16v16h-16zM1765 1197h16v16h-16zM1781 1197h16v16h-16zM1797 1197h16v16h-16zM1605 1181h16v16h-16zM1621 1181h16v16h-16zM1637 1181h16v16h-16zM1653 1181h16v16h-16zM1669 1181h16v16h-16zM1685 1181h16v16h-16zM1701 1181h16v16h-16zM1717 1181h16v16h-16zM1733 1181h16v16h-16zM1749 1181h16v16h-16zM1765 1181h16v16h-16zM1653 1165h16v16h-16zM1669 1165h16v16h-16zM1685 1165h16v16h-16zM1701 1165h16v16h-16zM1717 1165h16v16h-16z"/>
<path fill="#4e46ee" d="M1445 1646h16v16h-16zM1924 1646h16v16h-16zM1429 1630h16v16h-16zM1924 1630h16v16h-16zM1429 1614h16v16h-16zM1924 1614h16v16h-16zM1940 1614h16v16h-16zM1429 1598h16v16h-16zM1940 1598h16v16h-16zM1429 1582h16v16h-16zM1940 1582h16v16h-16zM1429 1566h16v16h-16zM1940 1566h16v16h-16zM1429 1550h16v16h-16zM1940 1550h16v16h-16zM1429 1534h16v16h-16zM1940 1534h16v16h-16zM1429 1518h16v16h-16zM1940 1518h16v16h-16zM1429 1502h16v16h-16zM1924 1502h16v16h-16zM1429 1486h16v16h-16zM1924 1486h16v16h-16zM1445 1469h16v17h-16zM1924 1469h16v17h-16zM1445 1453h16v16h-16zM1924 1453h16v16h-16zM1445 1437h16v16h-16zM1908 1437h16v16h-16zM1461 1421h16v16h-16zM1908 1421h16v16h-16zM1461 1405h16v16h-16zM1892 1405h16v16h-16zM1908 1405h16v16h-16zM1461 1389h16v16h-16zM1477 1389h16v16h-16zM1892 1389h16v16h-16zM1477 1373h16v16h-16zM1876 1373h16v16h-16zM1892 1373h16v16h-16zM1477 1357h16v16h-16zM1493 1357h16v16h-16zM1876 1357h16v16h-16zM1493 1341h16v16h-16zM1860 1341h16v16h-16zM1876 1341h16v16h-16zM1493 1325h16v16h-16zM1509 1325h16v16h-16zM1844 1325h16v16h-16zM1860 1325h16v16h-16zM1509 1309h16v16h-16zM1525 1309h16v16h-16zM1844 1309h16v16h-16zM1860 1309h16v16h-16zM1509 1293h16v16h-16zM1525 1293h16v16h-16zM1541 1293h16v16h-16zM1829 1293h15v16h-15zM1844 1293h16v16h-16zM1525 1277h16v16h-16zM1541 1277h16v16h-16zM1557 1277h16v16h-16zM1813 1277h16v16h-16zM1829 1277h15v16h-15zM1541 1261h16v16h-16zM1557 1261h16v16h-16zM1573 1261h16v16h-16zM1797 1261h16v16h-16zM1813 1261h16v16h-16zM1557 1245h16v16h-16zM1573 1245h16v16h-16zM1589 1245h16v16h-16zM1605 1245h16v16h-16zM1765 1245h16v16h-16zM1781 1245h16v16h-16zM1797 1245h16v16h-16zM1589 1229h16v16h-16zM1605 1229h16v16h-16zM1621 1229h16v16h-16zM1637 1229h16v16h-16zM1653 1229h16v16h-16zM1717 1229h16v16h-16zM1733 1229h16v16h-16zM1749 1229h16v16h-16zM1765 1229h16v16h-16zM1781 1229h16v16h-16zM1605 1213h16v16h-16zM1621 1213h16v16h-16zM1637 1213h16v16h-16zM1653 1213h16v16h-16zM1669 1213h16v16h-16zM1685 1213h16v16h-16zM1701 1213h16v16h-16zM1717 1213h16v16h-16zM1733 1213h16v16h-16zM1749 1213h16v16h-16zM1653 1197h16v16h-16zM1669 1197h16v16h-16zM1685 1197h16v16h-16zM1701 1197h16v16h-16z"/>
<path fill="#4c48ee" d="M1461 1646h16v16h-16zM1908 1646h16v16h-16zM1445 1630h16v16h-16zM1908 1630h16v16h-16zM1445 1614h16v16h-16zM1445 1598h16v16h-16zM1924 1598h16v16h-16zM1445 1582h16v16h-16zM1924 1582h16v16h-16zM1445 1566h16v16h-16zM1924 1566h16v16h-16zM1445 1550h16v16h-16zM1924 1550h16v16h-16zM1445 1534h16v16h-16zM1924 1534h16v16h-16zM1445 1518h16v16h-16zM1924 1518h16v16h-16zM1445 1502h16v16h-16zM1908 1502h16v16h-16zM1445 1486h16v16h-16zM1908 1486h16v16h-16zM1461 1469h16v17h-16zM1908 1469h16v17h-16zM1461 1453h16v16h-16zM1908 1453h16v16h-16zM1461 1437h16v16h-16zM1892 1437h16v16h-16zM1477 1421h16v16h-16zM1892 1421h16v16h-16zM1477 1405h16v16h-16zM1876 1405h16v16h-16zM1493 1389h16v16h-16zM1876 1389h16v16h-16zM1493 1373h16v16h-16zM1509 1373h16v16h-16zM1860 1373h16v16h-16zM1509 1357h16v16h-16zM1844 1357h16v16h-16zM1860 1357h16v16h-16zM1509 1341h16v16h-16zM1525 1341h16v16h-16zM1844 1341h16v16h-16zM1525 1325h16v16h-16zM1541 1325h16v16h-16zM1829 1325h15v16h-15zM1541 1309h16v16h-16zM1813 1309h16v16h-16zM1829 1309h15v16h-15zM1557 1293h16v16h-16zM1797 1293h16v16h-16zM1813 1293h16v16h-16zM1573 1277h16v16h-16zM1589 1277h16v16h-16zM1781 1277h16v16h-16zM1797 1277h16v16h-16zM1589 1261h16v16h-16zM1605 1261h16v16h-16zM1621 1261h16v16h-16zM1749 1261h16v16h-16zM1765 1261h16v16h-16zM1781 1261h16v16h-16zM1621 1245h16v16h-16zM1637 1245h16v16h-16zM1653 1245h16v16h-16zM1669 1245h16v16h-16zM1685 1245h16v16h-16zM1701 1245h16v16h-16zM1717 1245h16v16h-16zM1733 1245h16v16h-16zM1749 1245h16v16h-16zM1669 1229h16v16h-16zM1685 1229h16v16h-16zM1701 1229h16v16h-16z"/>
<path fill="#4a4bef" d="M1477 1646h16v16h-16zM1892 1646h16v16h-16zM1461 1630h16v16h-16zM1892 1630h16v16h-16zM1461 1614h16v16h-16zM1908 1614h16v16h-16zM1461 1598h16v16h-16zM1908 1598h16v16h-16zM1461 1582h16v16h-16zM1908 1582h16v16h-16zM1461 1566h16v16h-16zM1908 1566h16v16h-16zM1461 1550h16v16h-16zM1908 1550h16v16h-16zM1461 1534h16v16h-16zM1908 1534h16v16h-16zM1461 1518h16v16h-16zM1908 1518h16v16h-16zM1461 1502h16v16h-16zM1892 1502h16v16h-16zM1461 1486h16v16h-16zM1892 1486h16v16h-16zM1477 1469h16v17h-16zM1892 1469h16v17h-16zM1477 1453h16v16h-16zM1892 1453h16v16h-16zM1477 1437h16v16h-16zM1876 1437h16v16h-16zM1493 1421h16v16h-16zM1876 1421h16v16h-16zM1493 1405h16v16h-16zM1860 1405h16v16h-16zM1509 1389h16v16h-16zM1860 1389h16v16h-16zM1844 1373h16v16h-16zM1525 1357h16v16h-16zM1829 1341h15v16h-15zM1813 1325h16v16h-16zM1557 1309h16v16h-16zM1797 1309h16v16h-16zM1573 1293h16v16h-16zM1781 1293h16v16h-16zM1605 1277h16v16h-16zM1765 1277h16v16h-16zM1637 1261h16v16h-16zM1653 1261h16v16h-16zM1701 1261h16v16h-16zM1717 1261h16v16h-16zM1733 1261h16v16h-16z"/>
<path class="p8" d="M1493 1646h16v16h-16zM1876 1646h16v16h-16zM1477 1630h16v16h-16zM1876 1630h16v16h-16zM1477 1614h16v16h-16zM1892 1614h16v16h-16zM1477 1598h16v16h-16zM1892 1598h16v16h-16zM1477 1582h16v16h-16zM1892 1582h16v16h-16zM1477 1566h16v16h-16zM1892 1566h16v16h-16zM1477 1550h16v16h-16zM1892 1550h16v16h-16zM1477 1534h16v16h-16zM1892 1534h16v16h-16zM1477 1518h16v16h-16zM1892 1518h16v16h-16zM1477 1502h16v16h-16zM1477 1486h16v16h-16zM1876 1486h16v16h-16zM1876 1469h16v17h-16zM1493 1453h16v16h-16zM1876 1453h16v16h-16zM1493 1437h16v16h-16zM1860 1421h16v16h-16zM1509 1405h16v16h-16zM1844 1389h16v16h-16zM1525 1373h16v16h-16zM1829 1357h15v16h-15zM1541 1341h16v16h-16zM1557 1325h16v16h-16zM1573 1309h16v16h-16zM1589 1293h16v16h-16zM1765 1293h16v16h-16zM1621 1277h16v16h-16zM1637 1277h16v16h-16zM1733 1277h16v16h-16zM1749 1277h16v16h-16zM1669 1261h16v16h-16zM1685 1261h16v16h-16z"/>
<path class="p9" d="M1493 1630h16v16h-16zM1876 1614h16v16h-16zM1876 1598h16v16h-16zM1876 1534h16v16h-16zM1876 1518h16v16h-16zM1876 1502h16v16h-16zM1493 1486h16v16h-16zM1493 1469h16v17h-16zM1860 1437h16v16h-16zM1509 1421h16v16h-16zM1844 1405h16v16h-16zM1525 1389h16v16h-16zM1829 1373h15v16h-15zM1541 1357h16v16h-16zM1557 1341h16v16h-16zM1813 1341h16v16h-16zM1573 1325h16v16h-16zM1797 1325h16v16h-16zM1589 1309h16v16h-16zM1781 1309h16v16h-16zM1605 1293h16v16h-16zM1621 1293h16v16h-16zM1749 1293h16v16h-16zM1653 1277h16v16h-16zM1669 1277h16v16h-16zM1685 1277h16v16h-16zM1701 1277h16v16h-16zM1717 1277h16v16h-16z"/>
<path class="p10" d="M1509 1646h16v16h-16zM1860 1646h16v16h-16zM1860 1630h16v16h-16zM1493 1614h16v16h-16zM1493 1598h16v16h-16zM1493 1582h16v16h-16zM1876 1582h16v16h-16zM1493 1566h16v16h-16zM1876 1566h16v16h-16zM1493 1550h16v16h-16zM1876 1550h16v16h-16zM1493 1534h16v16h-16zM1493 1518h16v16h-16zM1493 1502h16v16h-16zM1860 1486h16v16h-16zM1860 1469h16v17h-16zM1509 1453h16v16h-16zM1860 1453h16v16h-16zM1509 1437h16v16h-16zM1844 1421h16v16h-16zM1525 1405h16v16h-16zM1829 1389h15v16h-15zM1541 1373h16v16h-16zM1557 1357h16v16h-16zM1813 1357h16v16h-16zM1573 1341h16v16h-16zM1797 1341h16v16h-16zM1589 1325h16v16h-16zM1781 1325h16v16h-16zM1605 1309h16v16h-16zM1749 1309h16v16h-16zM1765 1309h16v16h-16zM1637 1293h16v16h-16zM1653 1293h16v16h-16zM1669 1293h16v16h-16zM1685 1293h16v16h-16zM1701 1293h16v16h-16zM1717 1293h16v16h-16zM1733 1293h16v16h-16z"/>
<path class="p11" d="M1844 1646h16v16h-16zM1509 1630h16v16h-16zM1509 1614h16v16h-16zM1860 1614h16v16h-16zM1860 1598h16v16h-16zM1860 1582h16v16h-16zM1860 1566h16v16h-16zM1860 1550h16v16h-16zM1860 1534h16v16h-16zM1860 1518h16v16h-16zM1509 1502h16v16h-16zM1860 1502h16v16h-16zM1509 1486h16v16h-16zM1509 1469h16v17h-16zM1844 1453h16v16h-16zM1525 1437h16v16h-16zM1844 1437h16v16h-16zM1525 1421h16v16h-16zM1829 1421h15v16h-15zM1541 1405h16v16h-16zM1829 1405h15v16h-15zM1541 1389h16v16h-16zM1813 1389h16v16h-16zM1557 1373h16v16h-16zM1813 1373h16v16h-16zM1573 1357h16v16h-16zM1797 1357h16v16h-16zM1589 1341h16v16h-16zM1781 1341h16v16h-16zM1605 1325h16v16h-16zM1749 1325h16v16h-16zM1765 1325h16v16h-16zM1621 1309h16v16h-16zM1637 1309h16v16h-16zM1653 1309h16v16h-16zM1701 1309h16v16h-16zM1717 1309h16v16h-16zM1733 1309h16v16h-16z"/>
<path class="p12" d="M1525 1646h16v16h-16zM1844 1630h16v16h-16zM1509 1598h16v16h-16zM1509 1582h16v16h-16zM1509 1566h16v16h-16zM1509 1550h16v16h-16zM1509 1534h16v16h-16zM1509 1518h16v16h-16zM1844 1486h16v16h-16zM1525 1469h16v17h-16zM1844 1469h16v17h-16zM1525 1453h16v16h-16zM1829 1437h15v16h-15zM1541 1421h16v16h-16zM1813 1405h16v16h-16zM1557 1389h16v16h-16zM1573 1373h16v16h-16zM1797 1373h16v16h-16zM1589 1357h16v16h-16zM1781 1357h16v16h-16zM1605 1341h16v16h-16zM1765 1341h16v16h-16zM1621 1325h16v16h-16zM1637 1325h16v16h-16zM1733 1325h16v16h-16zM1669 1309h16v16h-16zM1685 1309h16v16h-16z"/>
<path class="p13" d="M1829 1646h15v16h-15zM1525 1630h16v16h-16zM1844 1614h16v16h-16zM1844 1598h16v16h-16zM1844 1534h16v16h-16zM1844 1518h16v16h-16zM1844 1502h16v16h-16zM1525 1486h16v16h-16zM1829 1453h15v16h-15zM1541 1437h16v16h-16zM1813 1421h16v16h-16zM1557 1405h16v16h-16zM1797 1389h16v16h-16zM1781 1373h16v16h-16zM1765 1357h16v16h-16zM1621 1341h16v16h-16zM1749 1341h16v16h-16zM1653 1325h16v16h-16zM1669 1325h16v16h-16zM1685 1325h16v16h-16zM1701 1325h16v16h-16zM1717 1325h16v16h-16z"/>
<path class="p14" d="M1541 1646h16v16h-16zM1829 1630h15v16h-15zM1525 1614h16v16h-16zM1525 1598h16v16h-16zM1844 1582h16v16h-16zM1844 1566h16v16h-16zM1844 1550h16v16h-16zM1525 1518h16v16h-16zM1525 1502h16v16h-16zM1829 1469h15v17h-15zM1541 1453h16v16h-16zM1557 1421h16v16h-16zM1797 1405h16v16h-16zM1573 1389h16v16h-16zM1589 1373h16v16h-16zM1605 1357h16v16h-16zM1637 1341h16v16h-16zM1733 1341h16v16h-16z"/>
<path class="p15" d="M1525 1582h16v16h-16zM1525 1566h16v16h-16zM1525 1550h16v16h-16zM1525 1534h16v16h-16zM1829 1486h15v16h-15zM1541 1469h16v17h-16zM1813 1437h16v16h-16zM1573 1405h16v16h-16zM1781 1389h16v16h-16zM1765 1373h16v16h-16zM1621 1357h16v16h-16zM1749 1357h16v16h-16zM1653 1341h16v16h-16zM1669 1341h16v16h-16zM1685 1341h16v16h-16zM1701 1341h16v16h-16zM1717 1341h16v16h-16z"/>
<path class="p16" d="M1813 1646h16v16h-16zM1541 1630h16v16h-16zM1829 1614h15v16h-15zM1829 1518h15v16h-15zM1829 1502h15v16h-15zM1541 1486h16v16h-16zM1813 1453h16v16h-16zM1557 1437h16v16h-16zM1797 1421h16v16h-16zM1589 1389h16v16h-16zM1605 1373h16v16h-16zM1637 1357h16v16h-16zM1733 1357h16v16h-16z"/>
<path class="p17" d="M1557 1646h16v16h-16zM1541 1614h16v16h-16zM1829 1598h15v16h-15zM1829 1582h15v16h-15zM1829 1566h15v16h-15zM1829 1550h15v16h-15zM1829 1534h15v16h-15zM1541 1502h16v16h-16zM1813 1469h16v17h-16zM1557 1453h16v16h-16zM1573 1421h16v16h-16zM1781 1405h16v16h-16zM1765 1389h16v16h-16zM1749 1373h16v16h-16zM1653 1357h16v16h-16zM1717 1357h16v16h-16z"/>
<path class="p18" d="M1813 1630h16v16h-16zM1541 1598h16v16h-16zM1541 1534h16v16h-16zM1541 1518h16v16h-16zM1813 1486h16v16h-16zM1797 1437h16v16h-16zM1589 1405h16v16h-16zM1605 1389h16v16h-16zM1621 1373h16v16h-16zM1669 1357h16v16h-16zM1685 1357h16v16h-16zM1701 1357h16v16h-16z"/>
<path class="p19" d="M1541 1582h16v16h-16zM1541 1566h16v16h-16zM1541 1550h16v16h-16zM1557 1469h16v17h-16zM1573 1437h16v16h-16zM1781 1421h16v16h-16zM1637 1373h16v16h-16zM1733 1373h16v16h-16z"/>
<path class="p20" d="M1797 1646h16v16h-16zM1557 1630h16v16h-16zM1813 1614h16v16h-16zM1813 1502h16v16h-16zM1557 1486h16v16h-16zM1797 1453h16v16h-16zM1589 1421h16v16h-16zM1765 1405h16v16h-16zM1749 1389h16v16h-16zM1717 1373h16v16h-16z"/>
<path class="p21" d="M1573 1646h16v16h-16zM1813 1598h16v16h-16zM1813 1534h16v16h-16zM1813 1518h16v16h-16zM1797 1469h16v17h-16zM1573 1453h16v16h-16zM1781 1437h16v16h-16zM1605 1405h16v16h-16zM1621 1389h16v16h-16zM1653 1373h16v16h-16zM1669 1373h16v16h-16zM1701 1373h16v16h-16z"/>
<path class="p22" d="M1797 1630h16v16h-16zM1557 1614h16v16h-16zM1813 1582h16v16h-16zM1813 1566h16v16h-16zM1813 1550h16v16h-16zM1557 1502h16v16h-16zM1765 1421h16v16h-16zM1733 1389h16v16h-16zM1685 1373h16v16h-16z"/>
<path class="p23" d="M1557 1598h16v16h-16zM1557 1534h16v16h-16zM1557 1518h16v16h-16zM1797 1486h16v16h-16zM1573 1469h16v17h-16zM1589 1437h16v16h-16zM1749 1405h16v16h-16zM1637 1389h16v16h-16zM1717 1389h16v16h-16z"/>
<path class="p24" d="M1781 1646h16v16h-16zM1573 1630h16v16h-16zM1797 1614h16v16h-16zM1557 1582h16v16h-16zM1557 1566h16v16h-16zM1557 1550h16v16h-16zM1797 1502h16v16h-16zM1781 1453h16v16h-16zM1605 1421h16v16h-16zM1621 1405h16v16h-16zM1653 1389h16v16h-16zM1701 1389h16v16h-16z"/>
<path class="p25" d="M1797 1518h16v16h-16zM1573 1486h16v16h-16zM1781 1469h16v17h-16zM1589 1453h16v16h-16zM1765 1437h16v16h-16zM1749 1421h16v16h-16zM1637 1405h16v16h-16zM1733 1405h16v16h-16zM1669 1389h16v16h-16zM1685 1389h16v16h-16z"/>
<path class="p26" d="M1589 1646h16v16h-16zM1573 1502h16v16h-16zM1605 1437h16v16h-16zM1621 1421h16v16h-16zM1717 1405h16v16h-16z"/>
<path class="p27" d="M1781 1486h16v16h-16zM1589 1469h16v17h-16zM1765 1453h16v16h-16zM1733 1421h16v16h-16zM1653 1405h16v16h-16zM1701 1405h16v16h-16z"/>
<path class="p28" d="M1797 1598h16v16h-16zM1797 1534h16v16h-16zM1573 1518h16v16h-16zM1781 1502h16v16h-16zM1589 1486h16v16h-16zM1605 1453h16v16h-16zM1749 1437h16v16h-16zM1637 1421h16v16h-16zM1669 1405h16v16h-16zM1685 1405h16v16h-16z"/>
<path class="p29" d="M1781 1630h16v16h-16zM1573 1614h16v16h-16zM1797 1582h16v16h-16zM1797 1566h16v16h-16zM1797 1550h16v16h-16zM1765 1469h16v17h-16zM1621 1437h16v16h-16zM1653 1421h16v16h-16zM1717 1421h16v16h-16z"/>
<path class="p30" d="M1765 1646h16v16h-16zM1589 1630h16v16h-16zM1573 1598h16v16h-16zM1573 1550h16v16h-16zM1573 1534h16v16h-16zM1781 1518h16v16h-16zM1589 1502h16v16h-16zM1765 1486h16v16h-16zM1605 1469h16v17h-16zM1621 1453h16v16h-16zM1749 1453h16v16h-16zM1637 1437h16v16h-16zM1733 1437h16v16h-16zM1669 1421h16v16h-16zM1685 1421h16v16h-16zM1701 1421h16v16h-16z"/>
<path class="p31" d="M1605 1646h16v16h-16zM1781 1614h16v16h-16zM1573 1582h16v16h-16zM1573 1566h16v16h-16zM1765 1502h16v16h-16zM1605 1486h16v16h-16zM1749 1469h16v17h-16zM1733 1453h16v16h-16zM1653 1437h16v16h-16zM1717 1437h16v16h-16z"/>
<path class="p32" d="M1749 1646h16v16h-16zM1765 1630h16v16h-16zM1589 1614h16v16h-16zM1781 1598h16v16h-16zM1781 1534h16v16h-16zM1589 1518h16v16h-16zM1749 1486h16v16h-16zM1621 1469h16v17h-16zM1733 1469h16v17h-16zM1637 1453h16v16h-16zM1717 1453h16v16h-16zM1669 1437h16v16h-16zM1685 1437h16v16h-16zM1701 1437h16v16h-16z"/>
<path class="p33" d="M1621 1646h16v16h-16zM1605 1630h16v16h-16zM1781 1582h16v16h-16zM1781 1566h16v16h-16zM1781 1550h16v16h-16zM1589 1534h16v16h-16zM1605 1502h16v16h-16zM1621 1486h16v16h-16zM1637 1469h16v17h-16zM1653 1469h16v17h-16zM1669 1469h16v17h-16zM1685 1469h16v17h-16zM1701 1469h16v17h-16zM1717 1469h16v17h-16zM1653 1453h16v16h-16zM1669 1453h16v16h-16zM1685 1453h16v16h-16zM1701 1453h16v16h-16z"/>
<path class="p34" d="M1765 1614h16v16h-16zM1589 1598h16v16h-16zM1765 1518h16v16h-16zM1733 1486h16v16h-16z"/>
<path class="p35" d="M1733 1646h16v16h-16zM1589 1582h16v16h-16zM1589 1566h16v16h-16zM1589 1550h16v16h-16zM1605 1518h16v16h-16zM1749 1502h16v16h-16zM1637 1486h16v16h-16z"/>
<path class="p36" d="M1637 1646h16v16h-16zM1749 1630h16v16h-16zM1605 1614h16v16h-16zM1765 1534h16v16h-16zM1621 1502h16v16h-16zM1717 1486h16v16h-16z"/>
<path class="p37" d="M1717 1646h16v16h-16zM1621 1630h16v16h-16zM1765 1598h16v16h-16zM1653 1486h16v16h-16z"/>
<path class="p38" d="M1653 1646h16v16h-16zM1765 1582h16v16h-16zM1765 1566h16v16h-16zM1765 1550h16v16h-16zM1605 1534h16v16h-16zM1749 1518h16v16h-16zM1733 1502h16v16h-16zM1669 1486h16v16h-16zM1685 1486h16v16h-16zM1701 1486h16v16h-16z"/>
<path class="p39" d="M1669 1646h16v16h-16zM1701 1646h16v16h-16zM1733 1630h16v16h-16zM1749 1614h16v16h-16zM1605 1598h16v16h-16zM1637 1502h16v16h-16z"/>
<path class="p40" d="M1685 1646h16v16h-16zM1637 1630h16v16h-16zM1621 1614h16v16h-16zM1605 1582h16v16h-16zM1605 1566h16v16h-16zM1605 1550h16v16h-16zM1621 1518h16v16h-16z"/>
<path class="p41" d="M1749 1534h16v16h-16zM1717 1502h16v16h-16z"/>
<path class="p42" d="M1749 1598h16v16h-16z"/>
<path class="p43" d="M1653 1502h16v16h-16z"/>
<path class="p44" d="M1733 1518h16v16h-16z"/>
<path class="p45" d="M1717 1630h16v16h-16z"/>
<path class="p47" d="M1621 1534h16v16h-16z"/>
<path class="p48" d="M1749 1550h16v16h-16zM1701 1502h16v16h-16z"/>
<path class="p49" d="M1733 1614h16v16h-16zM1749 1582h16v16h-16z"/>
<path class="p50" d="M1653 1630h16v16h-16zM1621 1598h16v16h-16zM1749 1566h16v16h-16zM1637 1518h16v16h-16zM1669 1502h16v16h-16zM1685 1502h16v16h-16z"/>
<path class="p51" d="M1669 1630h16v16h-16zM1685 1630h16v16h-16zM1701 1630h16v16h-16zM1637 1614h16v16h-16zM1621 1582h16v16h-16zM1621 1566h16v16h-16zM1621 1550h16v16h-16zM1733 1534h16v16h-16zM1717 1518h16v16h-16z"/>
<path class="p52" d="M1653 1614h16v16h-16zM1717 1614h16v16h-16zM1637 1598h16v16h-16zM1733 1598h16v16h-16zM1733 1550h16v16h-16zM1637 1534h16v16h-16zM1653 1518h16v16h-16zM1701 1518h16v16h-16z"/>
<path class="p53" d="M1701 1614h16v16h-16zM1733 1582h16v16h-16zM1733 1566h16v16h-16zM1717 1534h16v16h-16zM1669 1518h16v16h-16zM1685 1518h16v16h-16z"/>
<path class="p54" d="M1669 1614h16v16h-16zM1637 1550h16v16h-16z"/>
<path class="p55" d="M1685 1614h16v16h-16zM1717 1598h16v16h-16zM1637 1582h16v16h-16z"/>
<path class="p56" d="M1637 1566h16v16h-16zM1653 1534h16v16h-16z"/>
<path class="p57" d="M1653 1598h16v16h-16z"/>
<path class="p58" d="M1717 1550h16v16h-16zM1701 1534h16v16h-16z"/>
<path class="p59" d="M1717 1582h16v16h-16zM1669 1534h16v16h-16z"/>
<path class="p60" d="M1701 1598h16v16h-16zM1717 1566h16v16h-16zM1653 1550h16v16h-16zM1685 1534h16v16h-16z"/>
<path class="p61" d="M1669 1598h16v16h-16zM1685 1598h16v16h-16zM1653 1582h16v16h-16z"/>
<path class="p62" d="M1669 1582h16v16h-16zM1685 1582h16v16h-16zM1701 1582h16v16h-16zM1653 1566h16v16h-16zM1701 1566h16v16h-16zM1669 1550h16v16h-16zM1685 1550h16v16h-16zM1701 1550h16v16h-16z"/>
<path class="p63" d="M1669 1566h16v16h-16zM1685 1566h16v16h-16z"/>
<path d="M1302 956V1662M1318 956V1662M1334 956V1662M1350 956V1662M1365 956V1662M1381 956V1662M1397 956V1662M1413 956V1662M1429 956V1662M1445 956V1662M1461 956V1662M1477 956V1662M1493 956V1662M1509 956V1662M1525 956V1662M1541 956V1662M1557 956V1662M1573 956V1662M1589 956V1662M1605 956V1662M1621 956V1662M1637 956V1662M1653 956V1662M1669 956V1662M1685 956V1662M1701 956V1662M1717 956V1662M1733 956V1662M1749 956V1662M1765 956V1662M1781 956V1662M1797 956V1662M1813 956V1662M1829 956V1662M1844 956V1662M1860 956V1662M1876 956V1662M1892 956V1662M1908 956V1662M1924 956V1662M1940 956V1662M1956 956V1662M1972 956V1662M1988 956V1662M2004 956V1662M2020 956V1662M2036 956V1662M2052 956V1662M2068 956V1662M2084 956V1662M1302 1662H2084M1302 1646H2084M1302 1630H2084M1302 1614H2084M1302 1598H2084M1302 1582H2084M1302 1566H2084M1302 1550H2084M1302 1534H2084M1302 1518H2084M1302 1502H2084M1302 1486H2084M1302 1469H2084M1302 1453H2084M1302 1437H2084M1302 1421H2084M1302 1405H2084M1302 1389H2084M1302 1373H2084M1302 1357H2084M1302 1341H2084M1302 1325H2084M1302 1309H2084M1302 1293H2084M1302 1277H2084M1302 1261H2084M1302 1245H2084M1302 1229H2084M1302 1213H2084M1302 1197H2084M1302 1181H2084M1302 1165H2084M1302 1149H2084M1302 1132H2084M1302 1116H2084M1302 1100H2084M1302 1084H2084M1302 1068H2084M1302 1052H2084M1302 1036H2084M1302 1020H2084M1302 1004H2084M1302 988H2084M1302 972H2084M1302 956H2084" stroke="#000" stroke-width="3.0" stroke-opacity="0.5" fill="none"/>
</g>
<path d="M301.6 229.4V418H540.8" stroke="#8a8a8a" fill="none" stroke-width="0.9"/>
<path d="M301.6 419h2.5M301.6 392.1h2.5M301.6 365.1h2.5M301.6 338.1h2.5M301.6 311.2h2.5M301.6 284.2h2.5M301.6 257.3h2.5M301.6 230.3h2.5M301.6 418v-2.5M341.6 418v-2.5M381.6 418v-2.5M421.6 418v-2.5M461.6 418v-2.5M501.6 418v-2.5M541.6 418v-2.5" stroke="#8a8a8a" fill="none" stroke-width="0.8"/>
<g class="tk" clip-path="url(#cd)"><text x="297.5" y="421.7" text-anchor="end">0</text><text x="297.5" y="394.8" text-anchor="end">0.5</text><text x="297.5" y="367.8" text-anchor="end">1</text><text x="297.5" y="340.8" text-anchor="end">1.5</text><text x="297.5" y="313.9" text-anchor="end">2</text><text x="297.5" y="286.9" text-anchor="end">2.5</text><text x="297.5" y="260" text-anchor="end">3</text><text x="297.5" y="233" text-anchor="end">3.5</text><text x="301.6" y="430.5" text-anchor="middle">-3</text><text x="341.6" y="430.5" text-anchor="middle">-2</text><text x="381.6" y="430.5" text-anchor="middle">-1</text><text x="421.6" y="430.5" text-anchor="middle">0</text><text x="461.6" y="430.5" text-anchor="middle">1</text><text x="501.6" y="430.5" text-anchor="middle">2</text><text x="541.6" y="430.5" text-anchor="middle">3</text><text x="421.6" y="441.5" text-anchor="middle" style="font-size:8.8px">X</text><text transform="translate(283.5 325) rotate(-90)" text-anchor="middle" style="font-size:8.8px">Y</text></g>
<text class="lab" x="472.7" y="279.6" style="fill:#fff">(d)</text>
<text class="ttl" x="108.5" y="222.5">Diffuse Reflection Model of Single Lamp Source</text>
</svg></body></html>
